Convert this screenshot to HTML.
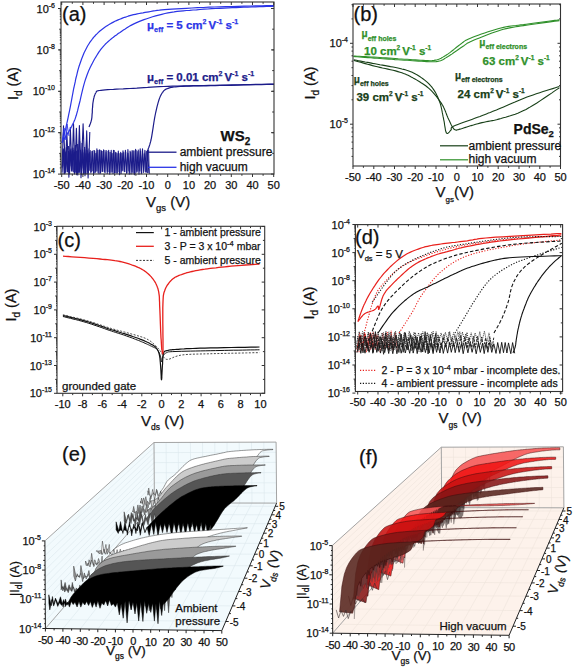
<!DOCTYPE html>
<html><head><meta charset="utf-8"><style>
html,body{margin:0;padding:0;background:#fff;}
svg{display:block;font-family:"Liberation Sans", sans-serif;}

</style></head><body>
<svg width="575" height="668" viewBox="0 0 575 668">
<rect width="575" height="668" fill="#fff"/>
<path d="M62.0,172.5 L63.4,149.5 L64.5,173.7 L65.8,152.3 L67.2,171.9 L68.4,151.2 L69.5,173.9 L70.6,150.5 L71.9,171.2 L73.2,150.1 L74.6,174.0 L75.7,150.1 L76.7,174.7 L77.9,150.6 L79.3,172.5 L80.5,150.5 L81.6,174.8 L82.6,149.8 L83.7,173.5 L84.6,149.3 L85.7,173.8 L87.0,150.5 L88.4,172.5 L89.7,152.0 L90.9,173.0 L92.3,151.0 L93.6,174.6 L94.7,151.1 L95.7,171.9 L96.9,148.8 L98.1,172.6 L99.4,149.9 L100.4,173.2 L101.5,150.9 L102.5,171.3 L103.6,149.9 L104.7,171.7 L106.0,151.8 L107.3,171.4 L108.7,150.2 L109.7,174.1 L111.2,150.3 L112.2,171.6 L113.5,150.2 L114.6,173.3 L115.7,152.2 L117.1,173.1 L118.3,151.1 L119.6,174.7 L120.7,152.2 L121.8,171.3 L123.0,150.8 L124.3,171.7 L125.4,150.2 L126.7,173.5 L127.9,149.5 L129.3,174.3 L130.7,152.3 L132.0,171.9 L133.0,150.8 L134.4,174.7 L135.6,149.4 L136.8,172.2 L137.9,151.6 L139.0,174.2 L140.2,148.9 L141.4,173.6 L142.5,148.9 L143.7,171.3 L144.9,150.4 L146.3,172.1 L147.5,150.8 L148.9,173.3" stroke="#1c1c8a" stroke-width="1.1" fill="none" stroke-linejoin="round" />
<path d="M63.0,174.3 L64.0,151.4 L65.2,173.5 L66.3,150.8 L67.4,172.0 L68.6,152.2 L69.5,173.7 L70.3,152.7 L71.5,171.1 L72.3,151.1 L73.3,172.1 L74.4,152.3 L75.6,172.6 L76.6,150.9 L77.5,174.3 L78.5,150.4 L79.6,171.5 L80.4,149.8 L81.6,170.9 L82.6,149.8 L83.4,174.5 L84.2,152.5 L85.1,173.8 L86.1,153.4 L87.2,173.9 L88.2,153.5 L89.2,170.7 L90.2,150.2 L91.2,172.0 L92.1,151.2 L92.9,171.2 L94.1,150.0 L94.9,173.2 L95.9,153.1 L96.9,171.3 L97.8,150.0 L99.0,174.1 L100.1,149.9 L100.9,172.2 L102.0,151.0 L102.8,171.8 L103.9,150.1 L105.0,173.2 L106.1,150.0 L107.3,173.9 L108.1,150.9 L109.0,172.2 L110.1,152.0 L111.0,172.7 L112.1,153.2 L113.0,174.0 L114.1,150.1 L115.1,173.0 L116.1,152.7 L117.0,173.2 L118.0,153.3 L119.1,172.2 L120.0,153.3 L121.1,174.0 L121.9,153.1 L122.8,170.8 L123.7,152.3 L124.8,172.0 L125.7,151.8 L126.8,173.0 L127.9,153.2 L129.0,171.3 L130.1,150.8 L131.1,174.3 L132.1,150.4 L133.0,173.5 L134.0,150.5 L135.1,174.1 L136.0,150.2 L137.1,171.6 L138.3,149.7 L139.4,171.3 L140.4,150.9 L141.2,171.4 L142.4,150.6 L143.3,173.0 L144.3,153.5 L145.4,172.3 L146.4,151.3 L147.5,173.0 L148.6,149.7 L149.6,174.0" stroke="#1c1c8a" stroke-width="0.7" fill="none" stroke-linejoin="round" />
<path d="M62.0,167.7 L63.5,125.7 L65.4,168.5 L66.8,132.4 L68.9,177.1 L70.3,127.2 L72.0,170.3 L73.5,123.5 L75.0,170.1 L76.4,128.3 L77.8,175.0 L79.4,125.6 L81.0,177.8 L83.1,123.8 L85.0,175.7 L86.7,130.9 L88.1,178.0 L89.8,132.1" stroke="#1c1c8a" stroke-width="1.1" fill="none" stroke-linejoin="round" />
<path d="M63.0,166.4 L64.1,148.2 L65.3,172.3 L66.4,147.2 L67.5,168.7 L68.6,146.0 L69.8,166.3 L70.8,148.6 L71.7,165.2 L73.0,147.7 L74.3,172.9 L75.4,145.0 L76.7,174.6 L77.7,144.0 L78.6,172.6 L79.7,141.2 L80.9,166.7 L82.1,142.9 L83.4,168.2 L84.6,147.0 L85.6,167.4 L86.5,140.8 L87.7,171.7 L88.9,148.4" stroke="#1c1c8a" stroke-width="0.8" fill="none" stroke-linejoin="round" />
<path d="M89.0,127.0 L89.2,126.5 L89.4,126.0 L89.7,125.3 L90.0,124.6 L90.3,123.8 L90.6,122.9 L90.9,122.0 L91.2,120.9 L91.5,119.8 L91.7,118.6 L91.9,117.3 L92.0,115.8 L92.1,114.1 L92.3,112.4 L92.3,110.6 L92.4,108.8 L92.6,107.1 L92.7,105.4 L92.8,103.9 L93.0,102.5 L93.2,101.3 L93.4,100.1 L93.6,99.0 L93.9,97.9 L94.1,96.9 L94.4,96.0 L94.7,95.1 L95.0,94.4 L95.3,93.6 L95.7,93.0 L96.0,92.5 L96.2,92.0 L96.4,91.7 L96.5,91.4 L96.7,91.2 L97.0,91.0 L97.6,90.8 L98.4,90.7 L99.5,90.5 L101.0,90.3 L102.9,90.1 L105.1,89.9 L107.7,89.7 L110.5,89.5 L113.5,89.4 L116.6,89.2 L119.9,89.0 L123.2,88.9 L126.6,88.7 L130.0,88.5 L133.4,88.3 L136.8,88.1 L140.3,87.8 L143.9,87.6 L147.6,87.4 L151.4,87.1 L155.3,86.9 L159.4,86.7 L163.6,86.5 L168.0,86.3 L172.6,86.1 L177.5,86.0 L182.5,85.9 L187.7,85.8 L193.0,85.7 L198.4,85.6 L203.8,85.5 L209.2,85.4 L214.7,85.3 L220.0,85.2 L225.6,85.1 L231.5,84.9 L237.8,84.8 L244.0,84.7 L250.2,84.5 L256.2,84.4 L261.7,84.3 L266.6,84.2 L270.8,84.1 L274.0,84.0" stroke="#1c1c8a" stroke-width="1.2" fill="none" stroke-linejoin="round" />
<path d="M147.0,152.0 L147.2,151.3 L147.5,150.6 L147.9,149.7 L148.3,148.6 L148.8,147.5 L149.2,146.2 L149.7,144.9 L150.1,143.4 L150.6,141.7 L151.0,140.0 L151.4,138.1 L151.8,135.8 L152.2,133.4 L152.6,130.9 L153.0,128.3 L153.4,125.6 L153.8,123.0 L154.2,120.5 L154.6,118.1 L155.0,116.0 L155.4,114.0 L155.8,112.1 L156.2,110.3 L156.6,108.6 L157.0,106.9 L157.4,105.3 L157.8,103.8 L158.2,102.4 L158.6,101.1 L159.0,99.8 L159.4,98.6 L159.8,97.6 L160.2,96.6 L160.6,95.7 L161.0,94.9 L161.4,94.2 L161.8,93.5 L162.2,92.9 L162.7,92.3 L163.1,91.7 L163.5,91.2 L163.9,90.7 L164.3,90.3 L164.7,90.0 L165.1,89.7 L165.5,89.4 L166.0,89.1 L166.6,88.9 L167.2,88.7 L168.0,88.4 L168.8,88.1 L169.5,87.9 L170.2,87.7 L170.9,87.5 L171.8,87.3 L172.8,87.1 L174.1,87.0 L175.7,86.8 L177.6,86.6 L180.0,86.5 L182.8,86.4 L186.0,86.2 L189.5,86.1 L193.3,86.0 L197.4,86.0 L201.6,85.9 L206.1,85.8 L210.7,85.7 L215.3,85.6 L220.0,85.5 L225.1,85.4 L230.8,85.3 L236.9,85.1 L243.2,85.0 L249.5,84.8 L255.6,84.7 L261.3,84.6 L266.4,84.5 L270.7,84.4 L274.0,84.3" stroke="#1c1c8a" stroke-width="1.2" fill="none" stroke-linejoin="round" />
<path d="M62.0,142.9 L62.2,141.9 L62.6,140.7 L62.9,139.3 L63.3,137.7 L63.8,136.0 L64.3,134.2 L64.7,132.3 L65.2,130.4 L65.7,128.5 L66.1,126.7 L66.5,124.9 L66.9,123.1 L67.3,121.3 L67.7,119.5 L68.1,117.6 L68.5,115.7 L68.9,113.7 L69.3,111.8 L69.7,109.8 L70.1,107.8 L70.5,105.8 L70.9,103.7 L71.3,101.5 L71.7,99.4 L72.1,97.2 L72.5,95.0 L72.9,92.8 L73.3,90.6 L73.7,88.5 L74.2,86.3 L74.7,84.1 L75.2,81.9 L75.6,79.7 L76.1,77.5 L76.7,75.3 L77.2,73.2 L77.7,71.0 L78.3,68.8 L78.9,66.8 L79.6,64.7 L80.3,62.7 L81.0,60.7 L81.7,58.7 L82.5,56.7 L83.3,54.7 L84.1,52.8 L85.0,51.0 L85.9,49.2 L86.8,47.5 L87.7,45.8 L88.7,44.2 L89.6,42.7 L90.6,41.3 L91.7,39.9 L92.7,38.5 L93.8,37.2 L94.9,36.0 L96.0,34.7 L97.2,33.6 L98.4,32.4 L99.6,31.3 L100.9,30.2 L102.2,29.2 L103.5,28.2 L104.8,27.2 L106.2,26.3 L107.6,25.4 L109.0,24.6 L110.4,23.7 L111.9,22.9 L113.4,22.1 L114.9,21.3 L116.5,20.6 L118.1,19.9 L119.7,19.2 L121.3,18.6 L123.0,17.9 L124.6,17.3 L126.4,16.8 L128.1,16.2 L129.9,15.7 L131.7,15.2 L133.5,14.7 L135.4,14.3 L137.2,13.9 L139.2,13.5 L141.1,13.1 L143.0,12.8 L145.0,12.4 L147.0,12.1 L148.9,11.8 L150.6,11.5 L152.2,11.2 L153.8,10.9 L155.4,10.7 L157.3,10.4 L159.4,10.2 L161.8,9.9 L164.6,9.7 L168.0,9.4 L171.9,9.1 L176.4,8.9 L181.3,8.6 L186.5,8.3 L191.9,8.0 L197.6,7.7 L203.3,7.5 L209.0,7.2 L214.6,7.0 L220.0,6.8 L225.6,6.6 L231.5,6.5 L237.8,6.3 L244.0,6.2 L250.2,6.0 L256.2,5.9 L261.7,5.8 L266.6,5.7 L270.8,5.7 L274.0,5.6" stroke="#2b35e6" stroke-width="1.2" fill="none" stroke-linejoin="round" />
<path d="M63.4,140.2 L63.9,139.4 L64.5,138.4 L65.3,137.1 L66.2,135.8 L67.1,134.3 L68.1,132.7 L69.0,131.2 L69.9,129.6 L70.8,128.1 L71.5,126.7 L72.1,125.4 L72.7,124.3 L73.2,123.2 L73.7,122.2 L74.2,121.1 L74.7,120.0 L75.2,118.6 L75.7,117.1 L76.3,115.3 L76.9,113.2 L77.6,110.7 L78.3,107.7 L79.1,104.5 L80.0,101.0 L80.8,97.4 L81.6,93.8 L82.5,90.2 L83.3,86.8 L84.2,83.7 L85.0,80.9 L85.8,78.5 L86.6,76.2 L87.3,74.2 L88.1,72.2 L88.8,70.4 L89.6,68.7 L90.4,67.0 L91.2,65.4 L92.1,63.7 L93.0,62.0 L93.9,60.3 L94.9,58.5 L95.9,56.9 L96.9,55.2 L97.9,53.6 L99.0,51.9 L100.1,50.4 L101.2,48.8 L102.5,47.3 L103.8,45.8 L105.2,44.3 L106.7,42.9 L108.2,41.5 L109.8,40.1 L111.4,38.8 L113.1,37.4 L114.8,36.1 L116.5,34.9 L118.2,33.6 L120.0,32.4 L121.7,31.2 L123.4,30.0 L125.2,28.9 L126.9,27.8 L128.6,26.7 L130.5,25.6 L132.4,24.6 L134.4,23.6 L136.6,22.6 L138.9,21.6 L141.4,20.6 L144.0,19.6 L146.8,18.7 L149.7,17.7 L152.6,16.8 L155.7,15.9 L158.7,15.1 L161.8,14.3 L164.9,13.5 L168.0,12.9 L171.0,12.3 L174.1,11.9 L177.1,11.4 L180.2,11.1 L183.3,10.8 L186.5,10.5 L189.7,10.3 L193.0,10.0 L196.5,9.8 L200.0,9.5 L203.7,9.2 L207.6,9.0 L211.6,8.7 L215.7,8.5 L219.9,8.3 L224.0,8.1 L228.2,7.9 L232.3,7.7 L236.2,7.6 L240.0,7.4 L243.8,7.2 L247.7,7.1 L251.7,6.9 L255.7,6.8 L259.5,6.7 L263.1,6.6 L266.5,6.4 L269.5,6.3 L272.0,6.3 L274.0,6.2" stroke="#2b35e6" stroke-width="1.2" fill="none" stroke-linejoin="round" />
<path d="M62.0,143.0 L64.0,128.0 L66.0,140.0 L67.0,124.0 L69.0,136.0" stroke="#2b35e6" stroke-width="0.9" fill="none" stroke-linejoin="round" />
<rect x="61.0" y="2.0" width="213.0" height="172.0" fill="none" stroke="#333" stroke-width="1.1"/>
<path d="M61.7,174.0 V177.0 M82.9,174.0 V177.0 M104.1,174.0 V177.0 M125.3,174.0 V177.0 M146.5,174.0 V177.0 M167.7,174.0 V177.0 M188.9,174.0 V177.0 M210.1,174.0 V177.0 M231.3,174.0 V177.0 M252.5,174.0 V177.0 M273.7,174.0 V177.0 M72.3,174.0 V175.8 M93.5,174.0 V175.8 M114.7,174.0 V175.8 M135.9,174.0 V175.8 M157.1,174.0 V175.8 M178.3,174.0 V175.8 M199.5,174.0 V175.8 M220.7,174.0 V175.8 M241.9,174.0 V175.8 M263.1,174.0 V175.8 M61.7,2.0 V5.0 M82.9,2.0 V5.0 M104.1,2.0 V5.0 M125.3,2.0 V5.0 M146.5,2.0 V5.0 M167.7,2.0 V5.0 M188.9,2.0 V5.0 M210.1,2.0 V5.0 M231.3,2.0 V5.0 M252.5,2.0 V5.0 M273.7,2.0 V5.0 M72.3,2.0 V3.8 M93.5,2.0 V3.8 M114.7,2.0 V3.8 M135.9,2.0 V3.8 M157.1,2.0 V3.8 M178.3,2.0 V3.8 M199.5,2.0 V3.8 M220.7,2.0 V3.8 M241.9,2.0 V3.8 M263.1,2.0 V3.8" stroke="#333" stroke-width="1" fill="none"/>
<path d="M61.0,8.5 H58.0 M61.0,49.9 H58.0 M61.0,91.3 H58.0 M61.0,132.7 H58.0 M61.0,174.1 H58.0 M61.0,153.4 H59.2 M61.0,132.7 H59.2 M61.0,112.0 H59.2 M61.0,91.3 H59.2 M61.0,70.6 H59.2 M61.0,49.9 H59.2 M61.0,29.2 H59.2 M274.0,8.5 H271.0 M274.0,49.9 H271.0 M274.0,91.3 H271.0 M274.0,132.7 H271.0 M274.0,174.1 H271.0 M274.0,153.4 H272.2 M274.0,132.7 H272.2 M274.0,112.0 H272.2 M274.0,91.3 H272.2 M274.0,70.6 H272.2 M274.0,49.9 H272.2 M274.0,29.2 H272.2" stroke="#333" stroke-width="1" fill="none"/>
<path d="M61.0,167.9 H59.8 M61.0,164.2 H59.8 M61.0,161.6 H59.8 M61.0,159.6 H59.8 M61.0,158.0 H59.8 M61.0,156.6 H59.8 M61.0,155.4 H59.8 M61.0,154.3 H59.8 M61.0,147.2 H59.8 M61.0,143.5 H59.8 M61.0,140.9 H59.8 M61.0,138.9 H59.8 M61.0,137.3 H59.8 M61.0,135.9 H59.8 M61.0,134.7 H59.8 M61.0,133.6 H59.8 M61.0,126.5 H59.8 M61.0,122.8 H59.8 M61.0,120.2 H59.8 M61.0,118.2 H59.8 M61.0,116.6 H59.8 M61.0,115.2 H59.8 M61.0,114.0 H59.8 M61.0,112.9 H59.8 M61.0,105.8 H59.8 M61.0,102.1 H59.8 M61.0,99.5 H59.8 M61.0,97.5 H59.8 M61.0,95.9 H59.8 M61.0,94.5 H59.8 M61.0,93.3 H59.8 M61.0,92.2 H59.8 M61.0,85.1 H59.8 M61.0,81.4 H59.8 M61.0,78.8 H59.8 M61.0,76.8 H59.8 M61.0,75.2 H59.8 M61.0,73.8 H59.8 M61.0,72.6 H59.8 M61.0,71.5 H59.8 M61.0,64.4 H59.8 M61.0,60.7 H59.8 M61.0,58.1 H59.8 M61.0,56.1 H59.8 M61.0,54.5 H59.8 M61.0,53.1 H59.8 M61.0,51.9 H59.8 M61.0,50.8 H59.8 M61.0,43.7 H59.8 M61.0,40.0 H59.8 M61.0,37.4 H59.8 M61.0,35.4 H59.8 M61.0,33.8 H59.8 M61.0,32.4 H59.8 M61.0,31.2 H59.8 M61.0,30.1 H59.8 M61.0,23.0 H59.8 M61.0,19.3 H59.8 M61.0,16.7 H59.8 M61.0,14.7 H59.8 M61.0,13.1 H59.8 M61.0,11.7 H59.8 M61.0,10.5 H59.8 M61.0,9.4 H59.8" stroke="#333" stroke-width="1" fill="none"/>
<text x="61.7" y="189.2" font-size="11" text-anchor="middle" font-weight="normal" fill="#111" stroke="#111" stroke-width="0.25" >-50</text>
<text x="82.9" y="189.2" font-size="11" text-anchor="middle" font-weight="normal" fill="#111" stroke="#111" stroke-width="0.25" >-40</text>
<text x="104.1" y="189.2" font-size="11" text-anchor="middle" font-weight="normal" fill="#111" stroke="#111" stroke-width="0.25" >-30</text>
<text x="125.3" y="189.2" font-size="11" text-anchor="middle" font-weight="normal" fill="#111" stroke="#111" stroke-width="0.25" >-20</text>
<text x="146.5" y="189.2" font-size="11" text-anchor="middle" font-weight="normal" fill="#111" stroke="#111" stroke-width="0.25" >-10</text>
<text x="167.7" y="189.2" font-size="11" text-anchor="middle" font-weight="normal" fill="#111" stroke="#111" stroke-width="0.25" >0</text>
<text x="188.9" y="189.2" font-size="11" text-anchor="middle" font-weight="normal" fill="#111" stroke="#111" stroke-width="0.25" >10</text>
<text x="210.1" y="189.2" font-size="11" text-anchor="middle" font-weight="normal" fill="#111" stroke="#111" stroke-width="0.25" >20</text>
<text x="231.3" y="189.2" font-size="11" text-anchor="middle" font-weight="normal" fill="#111" stroke="#111" stroke-width="0.25" >30</text>
<text x="252.5" y="189.2" font-size="11" text-anchor="middle" font-weight="normal" fill="#111" stroke="#111" stroke-width="0.25" >40</text>
<text x="273.7" y="189.2" font-size="11" text-anchor="middle" font-weight="normal" fill="#111" stroke="#111" stroke-width="0.25" >50</text>
<text x="55.0" y="12.5" font-size="11" text-anchor="end" font-weight="normal" fill="#111" stroke="#111" stroke-width="0.25" >10<tspan font-size="7" dy="-5">-6</tspan></text>
<text x="55.0" y="53.9" font-size="11" text-anchor="end" font-weight="normal" fill="#111" stroke="#111" stroke-width="0.25" >10<tspan font-size="7" dy="-5">-8</tspan></text>
<text x="55.0" y="95.3" font-size="11" text-anchor="end" font-weight="normal" fill="#111" stroke="#111" stroke-width="0.25" >10<tspan font-size="7" dy="-5">-10</tspan></text>
<text x="55.0" y="136.7" font-size="11" text-anchor="end" font-weight="normal" fill="#111" stroke="#111" stroke-width="0.25" >10<tspan font-size="7" dy="-5">-12</tspan></text>
<text x="55.0" y="178.1" font-size="11" text-anchor="end" font-weight="normal" fill="#111" stroke="#111" stroke-width="0.25" >10<tspan font-size="7" dy="-5">-14</tspan></text>
<text x="62.0" y="20.5" font-size="20" text-anchor="start" font-weight="normal" fill="#111" stroke="#111" stroke-width="0.25" >(a)</text>
<text x="18" y="100" font-size="14.5" transform="rotate(-90 18 100)" fill="#111" stroke="#111" stroke-width="0.25">I<tspan font-size="10" dy="4">d</tspan><tspan dy="-4"> (A)</tspan></text>
<text x="146" y="206.8" font-size="15" fill="#111" stroke="#111" stroke-width="0.25">V<tspan font-size="9.5" dy="4.5">gs</tspan><tspan dy="-4.5"> (V)</tspan></text>
<text x="147" y="29.3" font-size="11.5" font-weight="bold" fill="#2b35e6" stroke="#2b35e6" stroke-width="0.25">&#956;<tspan font-size="7.5" dy="3">eff</tspan><tspan dy="-3"> = 5 cm</tspan><tspan font-size="7" dy="-5">2</tspan><tspan dy="5" dx="2">V</tspan><tspan font-size="7" dy="-5">-1</tspan><tspan dy="5"> s</tspan><tspan font-size="7" dy="-5">-1</tspan></text>
<text x="147" y="80.6" font-size="11.5" font-weight="bold" fill="#1c1c8a" stroke="#1c1c8a" stroke-width="0.25">&#956;<tspan font-size="7.5" dy="3">eff</tspan><tspan dy="-3"> = 0.01 cm</tspan><tspan font-size="7" dy="-5">2</tspan><tspan dy="5" dx="2">V</tspan><tspan font-size="7" dy="-5">-1</tspan><tspan dy="5"> s</tspan><tspan font-size="7" dy="-5">-1</tspan></text>
<text x="220.5" y="141" font-size="15" font-weight="bold" fill="#111" stroke="#111" stroke-width="0.25">WS<tspan font-size="10" dy="4">2</tspan></text>
<path d="M148.0,152.2 L176.5,152.2" stroke="#1c1c8a" stroke-width="1.3" fill="none" stroke-linejoin="round" />
<path d="M148.0,167.3 L176.5,167.3" stroke="#2b35e6" stroke-width="1.3" fill="none" stroke-linejoin="round" />
<text x="179.7" y="156.3" font-size="12" text-anchor="start" font-weight="normal" fill="#111" stroke="#111" stroke-width="0.25" >ambient pressure</text>
<text x="179.7" y="170.8" font-size="12" text-anchor="start" font-weight="normal" fill="#111" stroke="#111" stroke-width="0.25" >high vacuum</text>
<path d="M353.5,56.0 L355.1,56.1 L357.0,56.2 L359.4,56.3 L362.0,56.5 L364.9,56.6 L367.9,56.8 L371.0,57.0 L374.1,57.1 L377.1,57.3 L380.0,57.5 L382.9,57.7 L385.9,57.9 L388.9,58.1 L392.0,58.3 L395.2,58.5 L398.3,58.8 L401.3,59.0 L404.3,59.2 L407.2,59.3 L410.0,59.5 L412.7,59.7 L415.4,59.9 L418.0,60.1 L420.6,60.3 L423.1,60.4 L425.5,60.6 L427.8,60.6 L430.0,60.7 L432.1,60.6 L434.0,60.4 L435.7,60.1 L437.3,59.8 L438.7,59.3 L439.9,58.8 L441.1,58.2 L442.2,57.6 L443.3,56.9 L444.4,56.2 L445.6,55.5 L446.8,54.7 L448.1,53.9 L449.5,52.9 L450.8,51.9 L452.2,50.8 L453.6,49.7 L454.9,48.6 L456.2,47.5 L457.5,46.5 L458.8,45.5 L460.0,44.6 L461.1,43.8 L461.9,43.1 L462.7,42.5 L463.4,42.0 L464.1,41.4 L464.9,40.9 L465.9,40.3 L467.1,39.7 L468.6,39.0 L470.4,38.2 L472.7,37.3 L475.3,36.3 L478.2,35.2 L481.4,34.1 L484.7,32.9 L488.1,31.8 L491.5,30.7 L494.8,29.7 L498.0,28.8 L500.9,28.0 L503.6,27.4 L506.2,26.8 L508.7,26.4 L511.1,26.0 L513.4,25.7 L515.8,25.5 L518.3,25.2 L520.8,24.9 L523.5,24.6 L526.3,24.2 L529.4,23.8 L533.0,23.3 L536.7,22.8 L540.6,22.3 L544.4,21.8 L548.2,21.3 L551.7,20.8 L554.8,20.4 L557.4,20.1 L559.4,19.8" stroke="#2f902a" stroke-width="1.1" fill="none" stroke-linejoin="round" />
<path d="M353.5,56.5 L355.1,56.6 L357.0,56.8 L359.4,57.0 L362.0,57.2 L364.9,57.4 L367.9,57.6 L371.0,57.8 L374.1,58.1 L377.1,58.3 L380.0,58.5 L382.9,58.7 L385.8,58.9 L388.9,59.1 L391.9,59.3 L395.0,59.6 L398.1,59.8 L401.2,60.0 L404.2,60.2 L407.1,60.3 L410.0,60.5 L412.8,60.7 L415.7,60.9 L418.5,61.1 L421.4,61.3 L424.1,61.5 L426.8,61.6 L429.4,61.8 L431.8,61.8 L434.0,61.7 L436.0,61.6 L437.8,61.4 L439.3,61.0 L440.6,60.7 L441.7,60.2 L442.8,59.7 L443.7,59.2 L444.7,58.5 L445.7,57.9 L446.8,57.2 L448.0,56.5 L449.3,55.7 L450.7,54.8 L452.2,53.9 L453.6,52.8 L455.1,51.8 L456.6,50.8 L458.0,49.7 L459.4,48.7 L460.8,47.8 L462.0,47.0 L463.1,46.3 L464.0,45.7 L464.7,45.1 L465.4,44.6 L466.1,44.1 L466.8,43.6 L467.7,43.1 L468.9,42.5 L470.3,41.8 L472.0,41.0 L474.1,40.1 L476.6,39.0 L479.4,37.9 L482.4,36.7 L485.5,35.4 L488.7,34.2 L491.9,33.0 L495.0,31.9 L498.1,30.9 L500.9,30.0 L503.5,29.3 L506.1,28.6 L508.5,28.1 L510.9,27.6 L513.3,27.2 L515.8,26.8 L518.2,26.4 L520.8,26.0 L523.5,25.6 L526.3,25.2 L529.4,24.7 L533.0,24.2 L536.7,23.7 L540.6,23.1 L544.4,22.6 L548.2,22.1 L551.7,21.6 L554.8,21.2 L557.4,20.9 L559.4,20.6" stroke="#2f902a" stroke-width="1.1" fill="none" stroke-linejoin="round" />
<path d="M353.8,59.8 L355.0,60.0 L356.6,60.3 L358.5,60.7 L360.6,61.1 L362.8,61.5 L365.2,62.0 L367.7,62.4 L370.2,62.9 L372.6,63.4 L375.0,63.8 L377.4,64.2 L379.9,64.7 L382.5,65.1 L385.2,65.6 L387.9,66.1 L390.5,66.6 L393.1,67.0 L395.6,67.5 L397.9,68.0 L400.0,68.5 L401.9,69.0 L403.6,69.4 L405.2,69.8 L406.7,70.3 L408.1,70.7 L409.5,71.2 L410.8,71.7 L412.2,72.3 L413.5,72.9 L415.0,73.7 L416.5,74.6 L418.1,75.5 L419.7,76.5 L421.3,77.6 L422.9,78.7 L424.4,79.9 L425.9,81.1 L427.4,82.4 L428.7,83.7 L430.0,85.0 L431.2,86.3 L432.3,87.7 L433.3,89.1 L434.3,90.6 L435.2,92.1 L436.0,93.6 L436.8,95.2 L437.6,96.8 L438.3,98.4 L439.0,100.0 L439.6,101.7 L440.2,103.4 L440.7,105.2 L441.2,107.1 L441.6,109.0 L442.0,110.8 L442.3,112.7 L442.7,114.5 L443.0,116.2 L443.4,117.9 L443.7,119.6 L444.1,121.4 L444.4,123.2 L444.6,125.0 L444.9,126.7 L445.2,128.3 L445.4,129.8 L445.7,131.1 L446.0,132.1 L446.4,132.9 L446.8,133.3 L447.2,133.5 L447.7,133.4 L448.2,133.1 L448.7,132.6 L449.2,132.1 L449.7,131.5 L450.2,130.9 L450.6,130.4 L451.0,130.0 L451.3,129.7 L451.3,129.4 L451.3,129.1 L451.2,128.7 L451.2,128.4 L451.2,128.1 L451.5,127.6 L452.0,127.2 L452.8,126.6 L454.0,126.0 L455.7,125.3 L457.8,124.4 L460.3,123.5 L463.0,122.5 L465.9,121.5 L468.9,120.4 L471.8,119.4 L474.8,118.3 L477.5,117.3 L480.0,116.4 L482.3,115.5 L484.4,114.7 L486.4,113.9 L488.4,113.1 L490.3,112.4 L492.3,111.6 L494.3,110.7 L496.4,109.9 L498.6,109.0 L501.0,108.0 L503.6,106.9 L506.3,105.8 L509.1,104.6 L512.0,103.3 L515.0,102.1 L518.0,100.8 L521.0,99.5 L524.0,98.3 L527.0,97.1 L530.0,96.0 L533.1,94.9 L536.3,93.8 L539.7,92.7 L543.1,91.6 L546.5,90.5 L549.7,89.5 L552.7,88.6 L555.4,87.8 L557.6,87.1 L559.4,86.5" stroke="#184018" stroke-width="1.1" fill="none" stroke-linejoin="round" />
<path d="M353.8,60.4 L355.0,60.7 L356.6,61.2 L358.5,61.7 L360.6,62.3 L362.8,62.9 L365.2,63.6 L367.7,64.3 L370.2,64.9 L372.6,65.6 L375.0,66.2 L377.4,66.8 L379.9,67.4 L382.5,68.0 L385.2,68.5 L387.9,69.1 L390.5,69.7 L393.1,70.3 L395.6,70.9 L397.9,71.6 L400.0,72.2 L401.9,72.8 L403.6,73.5 L405.2,74.1 L406.7,74.7 L408.1,75.3 L409.5,76.0 L410.8,76.7 L412.2,77.4 L413.5,78.2 L415.0,79.0 L416.5,79.9 L418.0,80.8 L419.6,81.7 L421.1,82.7 L422.7,83.7 L424.2,84.7 L425.7,85.8 L427.2,87.0 L428.6,88.2 L430.0,89.4 L431.3,90.7 L432.7,92.1 L434.0,93.6 L435.3,95.1 L436.6,96.7 L437.8,98.3 L438.9,99.9 L440.0,101.4 L441.1,102.9 L442.0,104.4 L442.9,105.8 L443.6,107.3 L444.3,108.7 L444.9,110.1 L445.5,111.5 L446.0,112.9 L446.5,114.2 L447.0,115.5 L447.5,116.7 L448.0,117.9 L448.5,119.0 L449.0,120.1 L449.5,121.1 L449.9,122.1 L450.4,123.1 L450.8,123.9 L451.2,124.8 L451.6,125.6 L452.0,126.3 L452.4,126.9 L452.7,127.5 L453.1,127.9 L453.4,128.4 L453.6,128.7 L453.9,129.0 L454.2,129.3 L454.4,129.5 L454.7,129.6 L455.0,129.8 L455.4,129.9 L455.7,130.0 L456.0,130.1 L456.2,130.1 L456.4,130.1 L456.6,130.1 L457.0,130.0 L457.4,129.8 L458.1,129.7 L458.9,129.4 L460.0,129.1 L461.4,128.7 L463.0,128.2 L464.8,127.6 L466.8,127.0 L469.0,126.3 L471.2,125.6 L473.4,125.0 L475.7,124.3 L477.9,123.7 L480.0,123.1 L482.0,122.6 L484.1,122.2 L486.1,121.8 L488.1,121.4 L490.2,121.0 L492.3,120.6 L494.4,120.2 L496.5,119.7 L498.7,119.1 L501.0,118.5 L503.3,117.8 L505.6,117.2 L507.9,116.5 L510.3,115.8 L512.7,115.0 L515.2,114.2 L517.8,113.2 L520.4,112.1 L523.1,110.8 L526.0,109.4 L529.2,107.6 L532.7,105.5 L536.5,103.2 L540.4,100.6 L544.3,98.0 L548.0,95.5 L551.6,93.1 L554.7,90.9 L557.4,89.1 L559.4,87.8" stroke="#184018" stroke-width="1.1" fill="none" stroke-linejoin="round" />
<rect x="353.0" y="4.0" width="207.5" height="162.0" fill="none" stroke="#333" stroke-width="1.1"/>
<path d="M353.0,166.0 V169.0 M373.8,166.0 V169.0 M394.5,166.0 V169.0 M415.2,166.0 V169.0 M436.0,166.0 V169.0 M456.8,166.0 V169.0 M477.5,166.0 V169.0 M498.2,166.0 V169.0 M519.0,166.0 V169.0 M539.8,166.0 V169.0 M560.5,166.0 V169.0 M363.4,166.0 V167.8 M384.1,166.0 V167.8 M404.9,166.0 V167.8 M425.6,166.0 V167.8 M446.4,166.0 V167.8 M467.1,166.0 V167.8 M487.9,166.0 V167.8 M508.6,166.0 V167.8 M529.4,166.0 V167.8 M550.1,166.0 V167.8 M353.0,4.0 V7.0 M373.8,4.0 V7.0 M394.5,4.0 V7.0 M415.2,4.0 V7.0 M436.0,4.0 V7.0 M456.8,4.0 V7.0 M477.5,4.0 V7.0 M498.2,4.0 V7.0 M519.0,4.0 V7.0 M539.8,4.0 V7.0 M560.5,4.0 V7.0 M363.4,4.0 V5.8 M384.1,4.0 V5.8 M404.9,4.0 V5.8 M425.6,4.0 V5.8 M446.4,4.0 V5.8 M467.1,4.0 V5.8 M487.9,4.0 V5.8 M508.6,4.0 V5.8 M529.4,4.0 V5.8 M550.1,4.0 V5.8" stroke="#333" stroke-width="1" fill="none"/>
<path d="M353.0,43.3 H350.0 M353.0,124.2 H350.0 M353.0,156.4 H351.5 M353.0,148.6 H351.5 M353.0,142.1 H351.5 M353.0,136.7 H351.5 M353.0,132.0 H351.5 M353.0,127.9 H351.5 M353.0,99.8 H351.5 M353.0,85.6 H351.5 M353.0,75.5 H351.5 M353.0,67.7 H351.5 M353.0,61.2 H351.5 M353.0,55.8 H351.5 M353.0,51.1 H351.5 M353.0,47.0 H351.5 M353.0,18.9 H351.5 M353.0,4.7 H351.5 M560.5,43.3 H557.5 M560.5,124.2 H557.5 M560.5,156.4 H559.0 M560.5,148.6 H559.0 M560.5,142.1 H559.0 M560.5,136.7 H559.0 M560.5,132.0 H559.0 M560.5,127.9 H559.0 M560.5,99.8 H559.0 M560.5,85.6 H559.0 M560.5,75.5 H559.0 M560.5,67.7 H559.0 M560.5,61.2 H559.0 M560.5,55.8 H559.0 M560.5,51.1 H559.0 M560.5,47.0 H559.0 M560.5,18.9 H559.0 M560.5,4.7 H559.0" stroke="#333" stroke-width="1" fill="none"/>
<text x="353.0" y="181.0" font-size="11" text-anchor="middle" font-weight="normal" fill="#111" stroke="#111" stroke-width="0.25" >-50</text>
<text x="373.8" y="181.0" font-size="11" text-anchor="middle" font-weight="normal" fill="#111" stroke="#111" stroke-width="0.25" >-40</text>
<text x="394.5" y="181.0" font-size="11" text-anchor="middle" font-weight="normal" fill="#111" stroke="#111" stroke-width="0.25" >-30</text>
<text x="415.2" y="181.0" font-size="11" text-anchor="middle" font-weight="normal" fill="#111" stroke="#111" stroke-width="0.25" >-20</text>
<text x="436.0" y="181.0" font-size="11" text-anchor="middle" font-weight="normal" fill="#111" stroke="#111" stroke-width="0.25" >-10</text>
<text x="456.8" y="181.0" font-size="11" text-anchor="middle" font-weight="normal" fill="#111" stroke="#111" stroke-width="0.25" >0</text>
<text x="477.5" y="181.0" font-size="11" text-anchor="middle" font-weight="normal" fill="#111" stroke="#111" stroke-width="0.25" >10</text>
<text x="498.2" y="181.0" font-size="11" text-anchor="middle" font-weight="normal" fill="#111" stroke="#111" stroke-width="0.25" >20</text>
<text x="519.0" y="181.0" font-size="11" text-anchor="middle" font-weight="normal" fill="#111" stroke="#111" stroke-width="0.25" >30</text>
<text x="539.8" y="181.0" font-size="11" text-anchor="middle" font-weight="normal" fill="#111" stroke="#111" stroke-width="0.25" >40</text>
<text x="560.5" y="181.0" font-size="11" text-anchor="middle" font-weight="normal" fill="#111" stroke="#111" stroke-width="0.25" >50</text>
<text x="348.0" y="47.3" font-size="11" text-anchor="end" font-weight="normal" fill="#111" stroke="#111" stroke-width="0.25" >10<tspan font-size="7" dy="-5">-4</tspan></text>
<text x="348.0" y="128.2" font-size="11" text-anchor="end" font-weight="normal" fill="#111" stroke="#111" stroke-width="0.25" >10<tspan font-size="7" dy="-5">-5</tspan></text>
<text x="353.5" y="21.0" font-size="20" text-anchor="start" font-weight="normal" fill="#111" stroke="#111" stroke-width="0.25" >(b)</text>
<text x="315" y="99.5" font-size="14.5" transform="rotate(-90 315 99.5)" fill="#111" stroke="#111" stroke-width="0.25">I<tspan font-size="10" dy="4">d</tspan><tspan dy="-4"> (A)</tspan></text>
<text x="435.5" y="197" font-size="15" fill="#111" stroke="#111" stroke-width="0.25">V<tspan font-size="8" dy="4.5">gs</tspan><tspan dy="-4.5">(V)</tspan></text>
<text x="361.5" y="37" font-size="10" font-weight="bold" fill="#2f902a" stroke="#2f902a" stroke-width="0.25">&#956;<tspan font-size="7" dy="3.5">eff holes</tspan></text>
<text x="364" y="54.7" font-size="11.5" font-weight="bold" fill="#2f902a" stroke="#2f902a" stroke-width="0.25">10 cm<tspan font-size="6.5" dy="-5">2</tspan><tspan dy="5" dx="2">V</tspan><tspan font-size="6.5" dy="-5">-1</tspan><tspan dy="5"> s</tspan><tspan font-size="6.5" dy="-5">-1</tspan></text>
<text x="353.8" y="82.5" font-size="10" font-weight="bold" fill="#184018" stroke="#184018" stroke-width="0.25">&#956;<tspan font-size="7" dy="3.5">eff holes</tspan></text>
<text x="356.4" y="100.6" font-size="11.5" font-weight="bold" fill="#184018" stroke="#184018" stroke-width="0.25">39 cm<tspan font-size="6.5" dy="-5">2</tspan><tspan dy="5" dx="2">V</tspan><tspan font-size="6.5" dy="-5">-1</tspan><tspan dy="5"> s</tspan><tspan font-size="6.5" dy="-5">-1</tspan></text>
<text x="479.3" y="45.5" font-size="10" font-weight="bold" fill="#2f902a" stroke="#2f902a" stroke-width="0.25">&#956;<tspan font-size="7" dy="3.5">eff electrons</tspan></text>
<text x="482.6" y="64.9" font-size="11.5" font-weight="bold" fill="#2f902a" stroke="#2f902a" stroke-width="0.25">63 cm<tspan font-size="6.5" dy="-5">2</tspan><tspan dy="5" dx="2">V</tspan><tspan font-size="6.5" dy="-5">-1</tspan><tspan dy="5"> s</tspan><tspan font-size="6.5" dy="-5">-1</tspan></text>
<text x="455" y="78.5" font-size="10" font-weight="bold" fill="#184018" stroke="#184018" stroke-width="0.25">&#956;<tspan font-size="7" dy="3.5">eff electrons</tspan></text>
<text x="457.6" y="98" font-size="11.5" font-weight="bold" fill="#184018" stroke="#184018" stroke-width="0.25">24 cm<tspan font-size="6.5" dy="-5">2</tspan><tspan dy="5" dx="2">V</tspan><tspan font-size="6.5" dy="-5">-1</tspan><tspan dy="5"> s</tspan><tspan font-size="6.5" dy="-5">-1</tspan></text>
<text x="513.6" y="133.6" font-size="14" font-weight="bold" fill="#111" stroke="#111" stroke-width="0.25">PdSe<tspan font-size="9.5" dy="3">2</tspan></text>
<path d="M440.0,145.8 L468.0,145.8" stroke="#184018" stroke-width="1.2" fill="none" stroke-linejoin="round" />
<path d="M440.0,159.8 L468.0,159.8" stroke="#2f902a" stroke-width="1.2" fill="none" stroke-linejoin="round" />
<text x="468.5" y="149.8" font-size="12" text-anchor="start" font-weight="normal" fill="#111" stroke="#111" stroke-width="0.25" >ambient pressure</text>
<text x="468.5" y="163.3" font-size="12" text-anchor="start" font-weight="normal" fill="#111" stroke="#111" stroke-width="0.25" >high vacuum</text>
<path d="M62.9,315.5 L64.3,315.8 L66.1,316.2 L68.1,316.7 L70.5,317.3 L73.0,317.9 L75.7,318.5 L78.4,319.2 L81.1,319.9 L83.8,320.6 L86.3,321.3 L88.8,322.0 L91.3,322.9 L94.0,323.7 L96.6,324.6 L99.3,325.5 L101.9,326.4 L104.4,327.3 L106.9,328.2 L109.2,329.0 L111.4,329.7 L113.4,330.3 L115.3,330.9 L117.1,331.5 L118.7,332.0 L120.3,332.5 L121.9,333.0 L123.4,333.4 L124.9,333.9 L126.5,334.4 L128.0,334.9 L129.6,335.4 L131.1,335.9 L132.7,336.5 L134.2,337.0 L135.7,337.5 L137.2,338.0 L138.7,338.5 L140.1,339.1 L141.4,339.6 L142.7,340.1 L143.9,340.6 L145.2,341.2 L146.3,341.7 L147.5,342.3 L148.6,342.8 L149.6,343.3 L150.6,343.9 L151.5,344.4 L152.3,344.8 L153.1,345.3 L153.8,345.7 L154.3,346.1 L154.8,346.4 L155.2,346.8 L155.6,347.1 L155.9,347.4 L156.1,347.8 L156.4,348.1 L156.7,348.5 L157.0,349.0 L157.3,349.5 L157.6,350.0 L157.9,350.5 L158.1,351.0 L158.4,351.5 L158.6,352.1 L158.8,352.8 L159.0,353.4 L159.2,354.2 L159.4,355.0 L159.6,355.9 L159.7,356.8 L159.9,357.8 L160.0,358.9 L160.1,360.0 L160.2,361.2 L160.3,362.3 L160.4,363.5 L160.5,364.8 L160.6,366.0 L160.7,367.4 L160.8,369.0 L160.9,370.8 L161.0,372.6 L161.1,374.5 L161.2,376.1 L161.2,377.6 L161.3,378.8 L161.4,379.5 L161.5,379.8 L161.6,379.5 L161.7,378.8 L161.8,377.7 L161.8,376.2 L161.9,374.6 L162.0,372.8 L162.1,371.0 L162.2,369.2 L162.3,367.5 L162.4,366.0 L162.5,364.6 L162.6,363.2 L162.6,361.7 L162.7,360.2 L162.8,358.8 L162.9,357.4 L163.0,356.1 L163.2,354.9 L163.4,353.9 L163.6,353.0 L163.9,352.3 L164.2,351.8 L164.5,351.4 L164.9,351.2 L165.3,351.0 L165.7,350.9 L166.1,350.8 L166.6,350.7 L167.1,350.6 L167.7,350.5 L168.2,350.3 L168.7,350.2 L169.1,350.1 L169.5,350.0 L170.0,349.9 L170.7,349.8 L171.4,349.8 L172.4,349.7 L173.5,349.6 L175.0,349.5 L176.6,349.4 L178.3,349.3 L180.1,349.1 L182.1,349.0 L184.2,348.9 L186.7,348.7 L189.4,348.6 L192.5,348.5 L196.0,348.3 L200.0,348.2 L204.8,348.1 L210.6,347.9 L217.2,347.8 L224.2,347.7 L231.3,347.5 L238.3,347.4 L244.9,347.3 L250.9,347.2 L255.8,347.1 L259.5,347.0" stroke="#111" stroke-width="1.2" fill="none" stroke-linejoin="round" />
<path d="M62.9,316.5 L64.3,316.8 L66.1,317.3 L68.1,317.8 L70.5,318.3 L73.0,319.0 L75.7,319.6 L78.4,320.3 L81.1,321.0 L83.8,321.8 L86.3,322.5 L88.8,323.3 L91.3,324.1 L94.0,325.0 L96.6,325.9 L99.3,326.8 L101.9,327.7 L104.4,328.6 L106.9,329.5 L109.2,330.3 L111.4,331.0 L113.4,331.7 L115.3,332.3 L117.1,332.9 L118.7,333.4 L120.3,333.9 L121.9,334.4 L123.4,334.9 L124.9,335.4 L126.5,336.0 L128.0,336.5 L129.6,337.1 L131.1,337.6 L132.7,338.2 L134.2,338.8 L135.7,339.4 L137.2,340.0 L138.7,340.5 L140.1,341.1 L141.4,341.7 L142.7,342.2 L143.9,342.7 L145.1,343.3 L146.3,343.8 L147.4,344.3 L148.5,344.8 L149.5,345.3 L150.5,345.8 L151.4,346.2 L152.2,346.6 L153.0,347.0 L153.7,347.3 L154.3,347.6 L154.8,347.8 L155.2,348.0 L155.6,348.1 L156.0,348.3 L156.3,348.5 L156.6,348.8 L156.9,349.1 L157.3,349.5 L157.7,350.0 L158.0,350.6 L158.4,351.2 L158.7,351.8 L159.1,352.5 L159.4,353.2 L159.7,354.0 L159.9,354.7 L160.2,355.4 L160.4,356.0 L160.6,356.7 L160.7,357.4 L160.9,358.2 L161.0,359.0 L161.0,359.8 L161.1,360.5 L161.2,361.1 L161.3,361.6 L161.4,361.9 L161.5,362.0 L161.6,361.9 L161.7,361.5 L161.8,361.0 L162.0,360.3 L162.1,359.6 L162.2,358.8 L162.4,358.0 L162.5,357.2 L162.8,356.5 L163.0,356.0 L163.3,355.5 L163.5,355.1 L163.8,354.7 L164.1,354.3 L164.5,354.0 L164.9,353.7 L165.3,353.4 L165.7,353.1 L166.2,352.8 L166.8,352.6 L167.3,352.4 L167.6,352.2 L167.8,352.1 L168.0,352.0 L168.3,351.9 L168.9,351.8 L169.7,351.8 L170.9,351.7 L172.7,351.6 L175.0,351.5 L178.0,351.4 L181.7,351.3 L186.0,351.2 L190.6,351.1 L195.5,351.0 L200.6,350.9 L205.7,350.8 L210.8,350.7 L215.6,350.6 L220.0,350.5 L224.4,350.4 L228.9,350.3 L233.5,350.2 L238.1,350.2 L242.6,350.1 L246.8,350.0 L250.7,349.9 L254.2,349.9 L257.2,349.8 L259.5,349.8" stroke="#111" stroke-width="1.0" fill="none" stroke-linejoin="round" />
<path d="M62.9,314.8 L64.3,315.1 L66.1,315.5 L68.1,316.0 L70.5,316.6 L73.0,317.2 L75.7,317.8 L78.4,318.4 L81.1,319.1 L83.8,319.8 L86.3,320.5 L88.8,321.2 L91.3,322.0 L94.0,322.8 L96.6,323.7 L99.3,324.6 L101.9,325.4 L104.4,326.3 L106.9,327.1 L109.2,327.8 L111.4,328.5 L113.4,329.1 L115.2,329.6 L116.9,330.1 L118.5,330.5 L120.1,330.9 L121.6,331.3 L123.1,331.7 L124.7,332.1 L126.3,332.5 L128.0,333.0 L129.8,333.5 L131.8,334.1 L133.8,334.6 L135.8,335.2 L137.8,335.8 L139.8,336.4 L141.8,337.0 L143.6,337.6 L145.3,338.3 L146.9,339.0 L148.3,339.8 L149.6,340.6 L150.9,341.5 L152.0,342.4 L153.1,343.3 L154.0,344.2 L154.9,345.1 L155.8,345.9 L156.6,346.7 L157.3,347.4 L157.9,348.0 L158.4,348.5 L158.8,349.0 L159.2,349.4 L159.4,349.8 L159.7,350.1 L159.9,350.5 L160.2,351.0 L160.6,351.4 L161.0,352.0 L161.4,352.7 L161.9,353.5 L162.3,354.4 L162.7,355.3 L163.1,356.3 L163.7,357.2 L164.3,358.0 L165.0,358.6 L165.8,359.1 L166.8,359.4 L167.9,359.4 L169.0,359.2 L170.1,358.8 L171.4,358.3 L172.7,357.7 L174.2,357.0 L176.0,356.4 L177.9,355.8 L180.1,355.3 L182.6,354.9 L185.5,354.6 L188.7,354.4 L192.2,354.2 L195.9,354.1 L199.8,354.0 L203.9,353.9 L207.9,353.8 L212.0,353.7 L216.1,353.6 L220.0,353.5 L224.0,353.4 L228.4,353.3 L232.9,353.2 L237.5,353.1 L242.1,353.0 L246.4,352.9 L250.5,352.8 L254.1,352.7 L257.1,352.7 L259.5,352.6" stroke="#333" stroke-width="0.9" fill="none" stroke-dasharray="2,1.5" stroke-linejoin="round" />
<path d="M63.0,256.1 L65.3,256.3 L68.3,256.5 L71.9,256.8 L76.0,257.1 L80.2,257.4 L84.6,257.7 L89.0,258.1 L93.1,258.4 L96.8,258.7 L100.0,259.0 L102.7,259.3 L105.1,259.5 L107.4,259.7 L109.4,259.9 L111.3,260.1 L113.0,260.3 L114.8,260.6 L116.5,260.8 L118.2,261.1 L120.0,261.5 L121.8,261.9 L123.7,262.4 L125.5,262.9 L127.3,263.4 L129.0,263.9 L130.7,264.5 L132.3,265.1 L133.9,265.6 L135.4,266.2 L136.8,266.8 L138.1,267.4 L139.3,267.9 L140.5,268.5 L141.6,269.1 L142.6,269.7 L143.6,270.3 L144.5,270.9 L145.4,271.6 L146.3,272.3 L147.2,273.0 L148.1,273.7 L148.9,274.5 L149.7,275.3 L150.5,276.1 L151.3,276.9 L152.0,277.8 L152.7,278.7 L153.4,279.6 L154.0,280.5 L154.6,281.4 L155.2,282.3 L155.7,283.3 L156.2,284.2 L156.6,285.2 L157.0,286.1 L157.4,287.2 L157.8,288.2 L158.1,289.4 L158.4,290.6 L158.7,291.9 L158.9,293.3 L159.1,294.7 L159.3,296.2 L159.4,297.7 L159.4,299.3 L159.5,301.0 L159.6,302.8 L159.6,304.6 L159.7,306.6 L159.8,308.6 L159.9,310.8 L160.0,313.2 L160.1,315.8 L160.2,318.5 L160.3,321.2 L160.4,323.9 L160.5,326.6 L160.6,329.2 L160.7,331.6 L160.8,333.8 L160.9,335.9 L161.0,338.0 L161.2,340.0 L161.3,341.9 L161.4,343.7 L161.5,345.4 L161.6,347.0 L161.7,348.4 L161.8,349.5 L161.9,350.5" stroke="#e8201c" stroke-width="1.3" fill="none" stroke-linejoin="round" />
<path d="M161.9,350.5 L162.0,350.7 L162.1,351.2 L162.2,351.9 L162.3,352.7 L162.5,353.4 L162.6,353.8 L162.7,353.9 L162.8,353.4 L162.9,352.4 L163.0,350.5 L163.0,347.6 L163.0,343.7 L163.0,339.1 L162.9,333.9 L162.9,328.4 L162.8,322.9 L162.8,317.4 L162.8,312.4 L162.8,308.0 L162.9,304.5 L163.0,301.7 L163.1,299.5 L163.2,297.7 L163.3,296.2 L163.5,294.9 L163.7,293.9 L163.9,292.9 L164.2,292.0 L164.6,291.0 L165.0,289.8 L165.5,288.6 L166.1,287.3 L166.7,286.2 L167.4,285.0 L168.2,284.0 L169.0,282.9 L169.8,281.9 L170.6,281.0 L171.5,280.1 L172.4,279.3 L173.3,278.6 L174.2,277.9 L175.1,277.3 L176.0,276.8 L177.0,276.3 L178.0,275.9 L179.1,275.4 L180.2,275.0 L181.5,274.6 L182.8,274.1 L184.2,273.6 L185.6,273.2 L187.1,272.7 L188.7,272.3 L190.3,271.9 L192.0,271.5 L193.8,271.1 L195.8,270.7 L197.8,270.3 L200.0,269.9 L202.3,269.5 L204.8,269.2 L207.4,268.8 L210.2,268.4 L213.0,268.1 L215.9,267.8 L218.8,267.4 L221.8,267.1 L224.8,266.8 L227.8,266.5 L231.0,266.2 L234.4,265.9 L238.0,265.6 L241.7,265.3 L245.4,265.0 L248.9,264.8 L252.2,264.5 L255.1,264.3 L257.6,264.1 L259.5,264.0" stroke="#e8201c" stroke-width="1.3" fill="none" stroke-linejoin="round" />
<rect x="57.0" y="226.3" width="207.7" height="167.0" fill="none" stroke="#333" stroke-width="1.1"/>
<path d="M62.8,393.3 V396.3 M82.6,393.3 V396.3 M102.3,393.3 V396.3 M122.1,393.3 V396.3 M141.8,393.3 V396.3 M161.6,393.3 V396.3 M181.4,393.3 V396.3 M201.1,393.3 V396.3 M220.9,393.3 V396.3 M240.6,393.3 V396.3 M260.4,393.3 V396.3 M72.7,393.3 V395.1 M92.4,393.3 V395.1 M112.2,393.3 V395.1 M132.0,393.3 V395.1 M151.7,393.3 V395.1 M171.5,393.3 V395.1 M191.2,393.3 V395.1 M211.0,393.3 V395.1 M230.8,393.3 V395.1 M250.5,393.3 V395.1 M62.8,226.3 V229.3 M82.6,226.3 V229.3 M102.3,226.3 V229.3 M122.1,226.3 V229.3 M141.8,226.3 V229.3 M161.6,226.3 V229.3 M181.4,226.3 V229.3 M201.1,226.3 V229.3 M220.9,226.3 V229.3 M240.6,226.3 V229.3 M260.4,226.3 V229.3 M72.7,226.3 V228.1 M92.4,226.3 V228.1 M112.2,226.3 V228.1 M132.0,226.3 V228.1 M151.7,226.3 V228.1 M171.5,226.3 V228.1 M191.2,226.3 V228.1 M211.0,226.3 V228.1 M230.8,226.3 V228.1 M250.5,226.3 V228.1" stroke="#333" stroke-width="1" fill="none"/>
<path d="M57.0,226.5 H54.0 M57.0,254.3 H54.0 M57.0,282.1 H54.0 M57.0,309.9 H54.0 M57.0,337.7 H54.0 M57.0,365.5 H54.0 M57.0,393.3 H54.0 M57.0,240.4 H55.2 M57.0,268.2 H55.2 M57.0,296.0 H55.2 M57.0,323.8 H55.2 M57.0,351.6 H55.2 M57.0,379.4 H55.2 M264.7,226.5 H261.7 M264.7,254.3 H261.7 M264.7,282.1 H261.7 M264.7,309.9 H261.7 M264.7,337.7 H261.7 M264.7,365.5 H261.7 M264.7,393.3 H261.7 M264.7,240.4 H262.9 M264.7,268.2 H262.9 M264.7,296.0 H262.9 M264.7,323.8 H262.9 M264.7,351.6 H262.9 M264.7,379.4 H262.9" stroke="#333" stroke-width="1" fill="none"/>
<path d="M57.0,389.1 H56.0 M57.0,386.7 H56.0 M57.0,384.9 H56.0 M57.0,383.6 H56.0 M57.0,382.5 H56.0 M57.0,381.6 H56.0 M57.0,380.7 H56.0 M57.0,380.0 H56.0 M57.0,375.2 H56.0 M57.0,372.8 H56.0 M57.0,371.0 H56.0 M57.0,369.7 H56.0 M57.0,368.6 H56.0 M57.0,367.7 H56.0 M57.0,366.8 H56.0 M57.0,366.1 H56.0 M57.0,361.3 H56.0 M57.0,358.9 H56.0 M57.0,357.1 H56.0 M57.0,355.8 H56.0 M57.0,354.7 H56.0 M57.0,353.8 H56.0 M57.0,352.9 H56.0 M57.0,352.2 H56.0 M57.0,347.4 H56.0 M57.0,345.0 H56.0 M57.0,343.2 H56.0 M57.0,341.9 H56.0 M57.0,340.8 H56.0 M57.0,339.9 H56.0 M57.0,339.0 H56.0 M57.0,338.3 H56.0 M57.0,333.5 H56.0 M57.0,331.1 H56.0 M57.0,329.3 H56.0 M57.0,328.0 H56.0 M57.0,326.9 H56.0 M57.0,326.0 H56.0 M57.0,325.1 H56.0 M57.0,324.4 H56.0 M57.0,319.6 H56.0 M57.0,317.2 H56.0 M57.0,315.4 H56.0 M57.0,314.1 H56.0 M57.0,313.0 H56.0 M57.0,312.1 H56.0 M57.0,311.2 H56.0 M57.0,310.5 H56.0 M57.0,305.7 H56.0 M57.0,303.3 H56.0 M57.0,301.5 H56.0 M57.0,300.2 H56.0 M57.0,299.1 H56.0 M57.0,298.2 H56.0 M57.0,297.3 H56.0 M57.0,296.6 H56.0 M57.0,291.8 H56.0 M57.0,289.4 H56.0 M57.0,287.6 H56.0 M57.0,286.3 H56.0 M57.0,285.2 H56.0 M57.0,284.3 H56.0 M57.0,283.4 H56.0 M57.0,282.7 H56.0 M57.0,277.9 H56.0 M57.0,275.5 H56.0 M57.0,273.7 H56.0 M57.0,272.4 H56.0 M57.0,271.3 H56.0 M57.0,270.4 H56.0 M57.0,269.5 H56.0 M57.0,268.8 H56.0 M57.0,264.0 H56.0 M57.0,261.6 H56.0 M57.0,259.8 H56.0 M57.0,258.5 H56.0 M57.0,257.4 H56.0 M57.0,256.5 H56.0 M57.0,255.6 H56.0 M57.0,254.9 H56.0 M57.0,250.1 H56.0 M57.0,247.7 H56.0 M57.0,245.9 H56.0 M57.0,244.6 H56.0 M57.0,243.5 H56.0 M57.0,242.6 H56.0 M57.0,241.7 H56.0 M57.0,241.0 H56.0 M57.0,236.2 H56.0 M57.0,233.8 H56.0 M57.0,232.0 H56.0 M57.0,230.7 H56.0 M57.0,229.6 H56.0 M57.0,228.7 H56.0 M57.0,227.8 H56.0 M57.0,227.1 H56.0" stroke="#333" stroke-width="1" fill="none"/>
<text x="62.8" y="408.0" font-size="11" text-anchor="middle" font-weight="normal" fill="#111" stroke="#111" stroke-width="0.25" >-10</text>
<text x="82.6" y="408.0" font-size="11" text-anchor="middle" font-weight="normal" fill="#111" stroke="#111" stroke-width="0.25" >-8</text>
<text x="102.3" y="408.0" font-size="11" text-anchor="middle" font-weight="normal" fill="#111" stroke="#111" stroke-width="0.25" >-6</text>
<text x="122.1" y="408.0" font-size="11" text-anchor="middle" font-weight="normal" fill="#111" stroke="#111" stroke-width="0.25" >-4</text>
<text x="141.8" y="408.0" font-size="11" text-anchor="middle" font-weight="normal" fill="#111" stroke="#111" stroke-width="0.25" >-2</text>
<text x="161.6" y="408.0" font-size="11" text-anchor="middle" font-weight="normal" fill="#111" stroke="#111" stroke-width="0.25" >0</text>
<text x="181.4" y="408.0" font-size="11" text-anchor="middle" font-weight="normal" fill="#111" stroke="#111" stroke-width="0.25" >2</text>
<text x="201.1" y="408.0" font-size="11" text-anchor="middle" font-weight="normal" fill="#111" stroke="#111" stroke-width="0.25" >4</text>
<text x="220.9" y="408.0" font-size="11" text-anchor="middle" font-weight="normal" fill="#111" stroke="#111" stroke-width="0.25" >6</text>
<text x="240.6" y="408.0" font-size="11" text-anchor="middle" font-weight="normal" fill="#111" stroke="#111" stroke-width="0.25" >8</text>
<text x="260.4" y="408.0" font-size="11" text-anchor="middle" font-weight="normal" fill="#111" stroke="#111" stroke-width="0.25" >10</text>
<text x="52.0" y="230.5" font-size="11" text-anchor="end" font-weight="normal" fill="#111" stroke="#111" stroke-width="0.25" >10<tspan font-size="7" dy="-5">-3</tspan></text>
<text x="52.0" y="258.3" font-size="11" text-anchor="end" font-weight="normal" fill="#111" stroke="#111" stroke-width="0.25" >10<tspan font-size="7" dy="-5">-5</tspan></text>
<text x="52.0" y="286.1" font-size="11" text-anchor="end" font-weight="normal" fill="#111" stroke="#111" stroke-width="0.25" >10<tspan font-size="7" dy="-5">-7</tspan></text>
<text x="52.0" y="313.9" font-size="11" text-anchor="end" font-weight="normal" fill="#111" stroke="#111" stroke-width="0.25" >10<tspan font-size="7" dy="-5">-9</tspan></text>
<text x="52.0" y="341.7" font-size="11" text-anchor="end" font-weight="normal" fill="#111" stroke="#111" stroke-width="0.25" >10<tspan font-size="7" dy="-5">-11</tspan></text>
<text x="52.0" y="369.5" font-size="11" text-anchor="end" font-weight="normal" fill="#111" stroke="#111" stroke-width="0.25" >10<tspan font-size="7" dy="-5">-13</tspan></text>
<text x="52.0" y="397.3" font-size="11" text-anchor="end" font-weight="normal" fill="#111" stroke="#111" stroke-width="0.25" >10<tspan font-size="7" dy="-5">-15</tspan></text>
<text x="57.5" y="246.5" font-size="20" text-anchor="start" font-weight="normal" fill="#111" stroke="#111" stroke-width="0.25" >(c)</text>
<text x="62.0" y="389.8" font-size="11.5" text-anchor="start" font-weight="normal" fill="#111" stroke="#111" stroke-width="0.25" >grounded gate</text>
<text x="15.5" y="321.5" font-size="14.5" transform="rotate(-90 15.5 321.5)" fill="#111" stroke="#111" stroke-width="0.25">I<tspan font-size="10" dy="4">d</tspan><tspan dy="-4"> (A)</tspan></text>
<text x="141" y="425.8" font-size="15" fill="#111" stroke="#111" stroke-width="0.25">V<tspan font-size="8.5" dy="4.5">ds</tspan><tspan dy="-4.5"> (V)</tspan></text>
<path d="M136.0,232.6 L153.8,232.6" stroke="#111" stroke-width="1.2" fill="none" stroke-linejoin="round" />
<path d="M136.0,246.3 L153.8,246.3" stroke="#e8201c" stroke-width="1.3" fill="none" stroke-linejoin="round" />
<path d="M136.0,260.4 L153.8,260.4" stroke="#333" stroke-width="1.0" fill="none" stroke-dasharray="2,1.5" stroke-linejoin="round" />
<text x="164.5" y="236.0" font-size="10.5" text-anchor="start" font-weight="normal" fill="#111" stroke="#111" stroke-width="0.25" >1 - ambient pressure</text>
<text x="164.5" y="250" font-size="10.5" fill="#111" stroke="#111" stroke-width="0.25">3 - P = 3 x 10<tspan font-size="7.5" dy="-4">-4</tspan><tspan dy="4"> mbar</tspan></text>
<text x="164.5" y="263.8" font-size="10.5" text-anchor="start" font-weight="normal" fill="#111" stroke="#111" stroke-width="0.25" >5 - ambient pressure</text>
<path d="M357.0,352.1 L359.6,332.6 L362.1,351.1 L364.5,332.0 L366.9,347.7 L369.0,333.4 L371.4,348.3 L373.4,332.1 L375.4,349.7 L377.8,335.2 L380.2,352.5 L382.8,333.2 L384.9,348.9 L387.2,331.8 L389.0,349.7 L391.2,330.8 L393.0,350.2 L395.4,332.7 L397.2,349.5" stroke="#e8201c" stroke-width="0.9" fill="none" stroke-dasharray="1,1" stroke-linejoin="round" />
<path d="M357.0,349.3 L359.9,335.3 L362.3,346.9 L365.0,333.8 L367.8,348.1 L370.5,332.7 L373.1,347.4 L375.6,333.8 L377.9,347.0" stroke="#e8201c" stroke-width="0.9" fill="none" stroke-linejoin="round" />
<path d="M359.0,352.2 L361.0,335.0 L362.7,350.3 L364.4,333.2 L366.4,352.3 L368.3,337.4 L370.1,350.2 L371.9,334.7" stroke="#e8201c" stroke-width="0.9" fill="none" stroke-dasharray="1,1" stroke-linejoin="round" />
<path d="M357.0,352.7 L359.1,343.1 L360.8,353.3 L362.6,343.1 L365.0,353.2 L367.0,343.2 L369.1,352.3 L371.4,343.2 L373.2,352.4 L375.2,342.7 L376.8,352.4 L378.7,343.0 L380.5,353.1 L382.7,342.5 L384.7,352.6 L386.7,343.2 L388.7,353.5 L390.6,342.7 L392.8,353.7 L395.0,342.5 L396.9,353.7 L399.1,343.4 L401.2,353.2 L403.3,343.4 L405.3,353.0 L407.4,343.5 L409.7,353.3 L411.6,343.4 L413.2,353.1 L415.5,342.7 L417.2,353.6 L419.1,342.6 L421.1,352.3 L423.2,342.8 L425.4,352.6 L427.3,343.4 L429.2,353.0 L430.9,343.1 L433.1,353.6 L434.8,343.5 L436.6,352.3 L438.2,343.5 L439.9,353.0 L441.6,343.1 L443.3,353.4 L445.5,343.5 L447.6,353.1 L449.5,342.5 L451.3,352.3 L453.6,342.7 L455.2,352.7 L457.3,342.6 L459.1,352.3 L461.4,343.6 L463.2,353.7 L465.5,342.3 L467.9,352.8 L470.0,342.7 L472.1,352.3 L474.2,343.3 L476.2,353.8 L478.4,342.7 L480.3,352.4 L482.5,343.3 L484.2,353.6 L485.9,343.3 L487.9,352.3 L489.7,342.4 L491.8,352.4 L493.8,343.8 L496.0,353.4 L497.7,342.5 L499.9,353.5 L501.7,342.3 L503.5,352.7 L505.2,342.5 L506.9,353.0 L508.5,342.9 L510.8,353.7 L512.6,342.6 L514.7,353.3" stroke="#111" stroke-width="0.9" fill="none" stroke-linejoin="round" />
<path d="M357.0,348.1 L359.5,337.5 L361.9,347.7 L364.4,337.3 L366.8,347.6 L368.9,338.0 L371.5,347.5 L373.4,336.5 L375.4,348.1 L377.9,337.1 L379.9,348.4 L381.8,337.6 L383.8,348.7 L385.6,337.1 L387.5,347.5 L390.1,337.5 L392.4,348.0 L394.2,337.8 L396.7,348.1 L399.2,338.0 L401.5,347.2 L404.0,338.1 L406.2,348.3 L408.7,337.9 L410.6,347.3 L412.8,337.1 L415.4,348.4 L417.2,337.2 L419.1,348.9 L421.4,336.0 L423.7,347.7 L425.7,336.8 L428.1,347.8 L430.6,336.9 L432.5,347.8 L434.7,337.7 L437.0,347.3 L438.9,336.9 L441.3,348.2 L443.3,337.3 L445.5,347.6 L447.8,337.9 L450.3,347.1 L452.1,337.6 L454.0,347.2 L456.6,338.0 L458.6,348.7 L460.8,336.1 L462.6,348.7 L464.8,336.9 L467.2,348.1 L469.1,337.3 L471.8,347.4 L473.6,336.3 L475.6,347.4 L477.4,336.2 L479.3,348.1 L481.7,337.0 L483.6,348.8 L485.6,338.0 L487.5,348.8 L489.7,337.3 L492.0,348.5 L493.8,337.4" stroke="#111" stroke-width="0.9" fill="none" stroke-dasharray="2.5,1" stroke-linejoin="round" />
<path d="M357.0,342.5 L359.2,331.5 L361.4,341.2 L364.1,332.4 L366.6,342.5 L368.6,332.1 L371.0,341.1 L373.0,331.6 L375.2,342.7 L378.0,331.6 L379.9,341.2 L381.9,332.8 L384.0,341.1 L385.9,331.2 L388.3,342.9 L390.7,332.1 L393.0,341.5 L395.5,331.0 L397.5,341.4 L399.7,331.4 L402.3,341.0 L404.4,332.1 L407.1,341.1 L409.3,331.1 L411.5,342.3 L414.1,332.1 L416.3,342.2 L418.6,332.7 L420.4,341.5 L422.8,331.7 L425.4,342.5 L427.4,332.4 L429.6,341.5 L431.7,332.4 L434.2,342.6 L436.1,331.6 L438.6,342.4 L441.1,332.9 L443.3,341.8 L445.4,332.3 L447.8,341.8 L449.7,331.6 L451.7,341.1 L453.7,332.5 L455.7,341.0 L457.8,331.8 L460.6,341.1 L462.4,332.0 L464.8,341.6 L467.0,332.3 L468.8,342.9 L471.2,332.8 L473.2,342.3 L475.1,332.9 L477.8,342.1 L479.8,331.6 L481.7,342.5 L484.4,331.2 L486.8,342.8 L489.0,332.9 L491.0,342.9" stroke="#222" stroke-width="0.9" fill="none" stroke-dasharray="1,1" stroke-linejoin="round" />
<path d="M358.0,351.3 L360.1,335.9 L363.0,352.9 L365.3,336.2 L368.1,351.0 L370.7,333.4 L372.8,353.3 L375.4,331.6 L378.2,351.2 L380.7,336.6 L383.6,354.3 L385.7,333.0 L388.5,350.5 L391.0,335.7 L393.0,350.1 L396.0,335.4 L398.9,352.5 L401.2,334.0 L403.2,352.3 L405.4,332.9 L407.9,350.0 L410.8,335.0 L413.1,349.6 L415.6,336.2 L417.6,349.4 L420.2,336.4 L422.7,352.0 L425.1,331.6 L428.1,354.0 L430.2,334.5 L433.1,351.3 L435.8,333.6 L438.0,350.3" stroke="#111" stroke-width="0.8" fill="none" stroke-linejoin="round" />
<path d="M356.0,349.2 L357.8,336.1 L360.3,349.8 L362.1,336.3 L364.3,351.9 L366.2,338.0 L368.3,350.5 L370.4,336.9 L372.7,351.4 L375.1,334.1 L377.2,350.1 L379.6,336.9 L382.0,350.9 L384.2,336.7 L386.4,348.2 L388.2,334.7 L390.3,350.5 L392.3,337.8 L394.2,349.5 L395.9,335.3 L398.4,348.0 L400.8,334.7 L402.7,348.0 L404.5,334.4 L406.9,349.5 L409.1,337.3 L411.2,350.9 L413.0,337.6 L415.3,348.2 L417.1,338.0 L419.0,351.5 L420.8,335.7 L422.9,350.3 L424.7,335.3 L426.7,350.4 L428.7,334.3" stroke="#222" stroke-width="0.8" fill="none" stroke-dasharray="1.5,1" stroke-linejoin="round" />
<path d="M360.0,345.1 L362.5,331.5 L365.1,346.0 L368.2,332.3 L370.4,347.4 L373.7,334.8 L376.2,344.2 L378.3,334.3 L380.7,347.6 L383.4,332.6 L385.9,347.5 L388.9,331.8 L391.7,347.4 L394.5,332.5 L397.1,344.6 L399.7,333.0 L401.9,345.8 L404.9,332.1 L407.4,344.1 L410.3,333.3 L412.9,344.9 L415.3,332.5 L418.2,345.9 L421.3,333.1 L424.0,346.8 L427.1,333.7 L430.0,346.4 L433.2,331.3 L435.4,344.1 L438.2,334.7 L440.9,347.8 L443.7,334.2 L446.2,346.8 L449.0,331.7 L452.2,346.7 L455.0,334.9 L457.5,344.2 L459.8,331.6 L462.7,346.8 L465.7,333.8 L468.8,347.6" stroke="#222" stroke-width="0.8" fill="none" stroke-dasharray="1.2,1" stroke-linejoin="round" />
<path d="M357.9,321.5 L358.2,320.7 L358.5,319.7 L358.9,318.5 L359.3,317.2 L359.8,315.7 L360.3,314.2 L360.9,312.6 L361.5,311.0 L362.1,309.5 L362.7,308.0 L363.3,306.6 L363.9,305.1 L364.6,303.7 L365.3,302.2 L366.0,300.8 L366.7,299.2 L367.5,297.7 L368.4,296.1 L369.3,294.5 L370.3,292.8 L371.4,291.0 L372.5,289.2 L373.7,287.3 L375.0,285.4 L376.3,283.4 L377.7,281.4 L379.1,279.4 L380.6,277.5 L382.1,275.6 L383.7,273.7 L385.4,271.9 L387.2,270.0 L389.0,268.1 L390.9,266.2 L392.9,264.4 L394.9,262.6 L396.9,260.9 L398.9,259.3 L400.9,257.8 L402.8,256.4 L404.7,255.2 L406.6,254.0 L408.6,253.0 L410.5,252.1 L412.4,251.3 L414.3,250.5 L416.3,249.8 L418.2,249.1 L420.1,248.4 L422.0,247.8 L423.9,247.2 L425.7,246.7 L427.6,246.3 L429.4,245.9 L431.2,245.5 L433.0,245.2 L434.9,244.9 L436.9,244.6 L438.9,244.3 L441.0,244.0 L443.2,243.7 L445.5,243.4 L447.8,243.1 L450.2,242.8 L452.6,242.5 L455.1,242.3 L457.6,242.0 L460.0,241.7 L462.5,241.4 L465.0,241.1 L467.3,240.8 L469.2,240.4 L471.0,240.1 L472.8,239.8 L474.7,239.4 L476.8,239.1 L479.2,238.7 L482.2,238.3 L485.8,238.0 L490.2,237.6 L495.8,237.2 L502.6,236.8 L510.4,236.3 L518.8,235.8 L527.4,235.3 L535.8,234.9 L543.8,234.4 L551.0,234.1 L557.0,233.7 L561.4,233.5" stroke="#e8201c" stroke-width="1.2" fill="none" stroke-linejoin="round" />
<path d="M357.9,321.5 L358.3,321.0 L358.8,320.4 L359.3,319.6 L360.0,318.8 L360.7,317.9 L361.4,317.0 L362.2,316.1 L363.0,315.2 L363.8,314.4 L364.6,313.8 L365.5,313.3 L366.4,312.8 L367.4,312.4 L368.5,312.0 L369.5,311.7 L370.6,311.3 L371.6,311.0 L372.5,310.7 L373.4,310.4 L374.1,310.0 L374.7,309.6 L375.3,309.1 L375.8,308.6 L376.2,308.1 L376.6,307.6 L376.9,307.1 L377.2,306.7 L377.5,306.4 L377.8,306.1 L378.0,306.0 L378.2,306.1 L378.3,306.4 L378.4,306.9 L378.4,307.5 L378.5,308.1 L378.5,308.7 L378.5,309.2 L378.6,309.4 L378.8,309.4 L379.0,309.0 L379.3,308.3 L379.6,307.2 L380.0,305.9 L380.4,304.4 L380.8,302.8 L381.3,301.0 L381.8,299.3 L382.4,297.7 L383.0,296.1 L383.7,294.7 L384.4,293.5 L385.2,292.3 L385.9,291.2 L386.7,290.2 L387.6,289.1 L388.5,288.1 L389.6,287.0 L390.7,285.8 L391.9,284.6 L393.3,283.2 L394.8,281.7 L396.5,280.0 L398.3,278.2 L400.3,276.4 L402.3,274.5 L404.3,272.6 L406.4,270.8 L408.4,269.0 L410.4,267.4 L412.4,266.0 L414.3,264.7 L416.2,263.5 L418.1,262.4 L420.0,261.4 L421.9,260.5 L423.9,259.6 L425.8,258.8 L427.7,257.9 L429.6,257.2 L431.5,256.4 L433.4,255.7 L435.4,255.0 L437.4,254.3 L439.4,253.7 L441.4,253.2 L443.4,252.7 L445.3,252.1 L447.2,251.7 L449.0,251.2 L450.7,250.7 L452.2,250.3 L453.5,249.9 L454.7,249.5 L455.8,249.1 L456.9,248.8 L458.0,248.5 L459.3,248.1 L460.9,247.8 L462.8,247.4 L465.0,246.9 L467.5,246.4 L470.3,245.9 L473.1,245.3 L476.2,244.7 L479.6,244.1 L483.1,243.5 L486.9,242.9 L491.0,242.2 L495.3,241.6 L500.0,241.0 L505.3,240.4 L511.6,239.7 L518.4,239.0 L525.6,238.3 L532.9,237.6 L540.0,236.9 L546.7,236.3 L552.6,235.7 L557.6,235.3 L561.4,234.9" stroke="#e8201c" stroke-width="1.2" fill="none" stroke-linejoin="round" />
<path d="M364.6,331.0 L365.2,329.0 L365.9,326.3 L366.7,323.1 L367.7,319.5 L368.8,315.7 L369.8,311.8 L370.9,308.0 L372.0,304.4 L373.1,301.2 L374.1,298.5 L375.0,296.3 L375.9,294.4 L376.7,292.7 L377.5,291.2 L378.3,289.9 L379.2,288.6 L380.1,287.4 L381.2,286.1 L382.4,284.7 L383.7,283.2 L385.2,281.5 L386.8,279.8 L388.4,278.0 L390.2,276.2 L392.1,274.4 L394.0,272.6 L396.1,270.9 L398.2,269.2 L400.5,267.5 L402.8,266.0 L405.3,264.5 L407.8,263.2 L410.6,261.8 L413.4,260.5 L416.2,259.3 L419.2,258.1 L422.2,256.9 L425.3,255.8 L428.4,254.7 L431.5,253.6 L434.6,252.6 L437.7,251.6 L440.8,250.7 L444.0,249.8 L447.2,248.9 L450.5,248.1 L454.0,247.3 L457.5,246.5 L461.2,245.7 L465.0,245.0 L469.0,244.3 L473.2,243.6 L477.5,242.9 L481.9,242.3 L486.4,241.7 L491.0,241.1 L495.7,240.5 L500.4,240.0 L505.2,239.5 L510.0,239.0 L515.1,238.6 L520.7,238.2 L526.6,237.8 L532.6,237.4 L538.5,237.1 L544.2,236.8 L549.6,236.6 L554.3,236.4 L558.3,236.2 L561.4,236.0" stroke="#e8201c" stroke-width="1.1" fill="none" stroke-dasharray="1.2,1.6" stroke-linejoin="round" />
<path d="M399.0,333.0 L399.8,331.7 L400.9,330.1 L402.2,328.1 L403.6,325.9 L405.1,323.5 L406.7,321.1 L408.2,318.6 L409.7,316.2 L411.2,313.9 L412.4,311.9 L413.5,310.0 L414.4,308.3 L415.3,306.6 L416.1,305.0 L416.8,303.4 L417.7,301.8 L418.5,300.2 L419.5,298.4 L420.7,296.6 L422.0,294.7 L423.5,292.6 L425.1,290.4 L426.8,288.0 L428.6,285.6 L430.4,283.1 L432.4,280.7 L434.4,278.3 L436.6,275.9 L438.7,273.7 L441.0,271.7 L443.3,269.8 L445.5,268.0 L447.8,266.2 L450.2,264.5 L452.7,262.9 L455.3,261.3 L458.0,259.9 L461.0,258.4 L464.2,257.0 L467.6,255.7 L471.4,254.4 L475.4,253.2 L479.7,252.1 L484.2,251.0 L488.8,249.9 L493.6,249.0 L498.4,248.0 L503.2,247.2 L508.1,246.3 L512.8,245.5 L517.7,244.7 L523.1,244.0 L528.7,243.3 L534.3,242.7 L539.9,242.1 L545.3,241.5 L550.3,241.0 L554.7,240.6 L558.5,240.2 L561.4,239.9" stroke="#e8201c" stroke-width="1.1" fill="none" stroke-dasharray="1.2,1.6" stroke-linejoin="round" />
<path d="M372.2,302.3 L373.5,300.5 L375.1,298.2 L377.0,295.3 L379.2,292.2 L381.6,288.8 L384.0,285.4 L386.5,282.1 L388.9,278.9 L391.2,276.1 L393.3,273.7 L395.2,271.7 L397.1,270.0 L398.9,268.5 L400.6,267.2 L402.4,265.9 L404.2,264.8 L406.0,263.7 L408.0,262.6 L410.1,261.5 L412.4,260.3 L414.9,259.0 L417.6,257.8 L420.4,256.5 L423.4,255.2 L426.4,254.0 L429.4,252.8 L432.5,251.7 L435.4,250.6 L438.3,249.7 L441.0,248.8 L443.5,248.1 L445.7,247.4 L447.8,246.9 L449.8,246.5 L451.8,246.1 L453.9,245.7 L456.2,245.3 L458.8,245.0 L461.7,244.5 L465.0,244.0 L468.8,243.4 L473.0,242.7 L477.6,242.0 L482.4,241.3 L487.4,240.6 L492.5,239.9 L497.7,239.2 L502.8,238.6 L507.9,238.0 L512.8,237.6 L517.8,237.3 L523.2,237.0 L528.9,236.8 L534.5,236.7 L540.1,236.6 L545.4,236.6 L550.4,236.6 L554.8,236.6 L558.5,236.5 L561.4,236.5" stroke="#111" stroke-width="1.1" fill="none" stroke-dasharray="1.2,1.6" stroke-linejoin="round" />
<path d="M372.2,331.0 L372.9,329.5 L373.6,327.6 L374.6,325.3 L375.6,322.7 L376.8,319.9 L378.0,317.0 L379.3,314.1 L380.7,311.3 L382.2,308.6 L383.7,306.2 L385.3,303.9 L387.0,301.7 L388.9,299.4 L390.8,297.2 L392.8,295.1 L394.8,292.9 L396.8,290.9 L398.9,288.9 L400.9,287.0 L402.8,285.1 L404.7,283.3 L406.6,281.6 L408.6,279.9 L410.5,278.3 L412.4,276.7 L414.3,275.2 L416.3,273.8 L418.2,272.4 L420.1,271.1 L422.0,269.8 L423.9,268.6 L425.7,267.5 L427.5,266.5 L429.2,265.5 L431.0,264.6 L432.9,263.7 L434.7,262.9 L436.7,262.0 L438.8,261.2 L441.0,260.3 L443.3,259.4 L445.5,258.6 L447.8,257.8 L450.2,257.0 L452.7,256.2 L455.3,255.4 L458.0,254.6 L461.0,253.9 L464.2,253.1 L467.6,252.3 L471.4,251.5 L475.4,250.6 L479.7,249.8 L484.2,248.9 L488.8,248.1 L493.6,247.2 L498.4,246.4 L503.2,245.7 L508.1,245.0 L512.8,244.4 L517.7,243.9 L523.1,243.4 L528.7,242.9 L534.3,242.6 L539.9,242.2 L545.3,241.9 L550.3,241.6 L554.7,241.4 L558.5,241.2 L561.4,241.0" stroke="#111" stroke-width="1.1" fill="none" stroke-dasharray="3.5,2" stroke-linejoin="round" />
<path d="M378.0,333.0 L378.9,331.7 L380.0,330.1 L381.3,328.1 L382.8,325.9 L384.5,323.5 L386.2,321.1 L387.9,318.6 L389.8,316.2 L391.5,313.9 L393.3,311.9 L395.1,310.0 L396.9,308.1 L398.8,306.2 L400.7,304.4 L402.6,302.6 L404.6,300.8 L406.6,299.2 L408.5,297.6 L410.5,296.1 L412.4,294.7 L414.3,293.4 L416.2,292.3 L418.1,291.3 L420.0,290.3 L421.9,289.4 L423.9,288.6 L425.8,287.7 L427.7,286.9 L429.6,286.0 L431.5,285.1 L433.4,284.1 L435.4,283.2 L437.3,282.2 L439.3,281.2 L441.2,280.2 L443.2,279.3 L445.1,278.3 L447.0,277.4 L448.9,276.5 L450.7,275.6 L452.5,274.8 L454.1,274.0 L455.8,273.2 L457.4,272.4 L458.9,271.7 L460.5,271.0 L462.2,270.2 L463.9,269.5 L465.7,268.8 L467.6,268.1 L469.6,267.4 L471.8,266.6 L474.0,265.9 L476.2,265.2 L478.5,264.5 L480.9,263.8 L483.2,263.1 L485.6,262.5 L487.9,261.9 L490.2,261.3 L492.3,260.8 L494.3,260.3 L496.2,259.9 L498.0,259.5 L499.9,259.1 L501.9,258.7 L504.1,258.4 L506.6,258.1 L509.5,257.8 L512.8,257.5 L516.8,257.2 L521.6,257.0 L527.0,256.8 L532.7,256.5 L538.5,256.4 L544.2,256.2 L549.6,256.0 L554.4,255.9 L558.4,255.8 L561.4,255.7" stroke="#111" stroke-width="1.1" fill="none" stroke-linejoin="round" />
<path d="M455.0,333.0 L455.5,332.3 L456.0,331.3 L456.7,330.3 L457.4,329.1 L458.2,327.8 L459.1,326.3 L460.1,324.8 L461.0,323.3 L462.0,321.6 L463.0,320.0 L464.0,318.3 L465.1,316.5 L466.2,314.5 L467.4,312.5 L468.6,310.5 L469.8,308.4 L471.1,306.2 L472.3,304.1 L473.7,302.0 L475.0,300.0 L476.4,297.9 L477.7,295.8 L479.1,293.7 L480.5,291.6 L482.0,289.4 L483.5,287.3 L485.0,285.3 L486.6,283.3 L488.3,281.4 L490.0,279.6 L491.8,277.9 L493.7,276.3 L495.7,274.7 L497.7,273.2 L499.8,271.7 L501.9,270.3 L504.0,269.0 L506.1,267.8 L508.2,266.5 L510.2,265.4 L512.2,264.4 L514.1,263.4 L515.9,262.6 L517.7,261.8 L519.6,261.1 L521.5,260.4 L523.5,259.7 L525.6,259.0 L527.9,258.2 L530.4,257.3 L533.2,256.3 L536.5,255.2 L540.0,254.1 L543.7,252.9 L547.4,251.7 L551.0,250.6 L554.3,249.6 L557.4,248.6 L559.9,247.8 L561.8,247.2" stroke="#111" stroke-width="1.1" fill="none" stroke-dasharray="1.2,1.6" stroke-linejoin="round" />
<path d="M494.0,333.0 L494.5,332.1 L495.1,331.0 L495.9,329.6 L496.8,328.1 L497.7,326.5 L498.6,324.8 L499.6,323.1 L500.5,321.3 L501.3,319.6 L502.1,318.0 L502.8,316.4 L503.5,314.8 L504.1,313.2 L504.8,311.6 L505.4,310.0 L506.0,308.3 L506.6,306.7 L507.1,305.1 L507.7,303.4 L508.2,301.8 L508.7,300.2 L509.1,298.5 L509.4,296.9 L509.8,295.2 L510.1,293.6 L510.4,291.9 L510.8,290.3 L511.2,288.7 L511.6,287.1 L512.2,285.6 L512.8,284.1 L513.5,282.6 L514.1,281.2 L514.9,279.7 L515.6,278.3 L516.4,276.9 L517.3,275.5 L518.2,274.2 L519.2,272.8 L520.3,271.5 L521.4,270.2 L522.5,269.0 L523.7,267.9 L524.9,266.7 L526.2,265.6 L527.6,264.4 L529.1,263.3 L530.7,262.1 L532.5,260.8 L534.5,259.4 L536.8,257.9 L539.6,256.2 L542.6,254.3 L545.8,252.4 L549.0,250.5 L552.2,248.7 L555.2,247.0 L557.9,245.5 L560.1,244.2 L561.8,243.2" stroke="#111" stroke-width="1.1" fill="none" stroke-dasharray="3.5,2" stroke-linejoin="round" />
<path d="M513.0,353.0 L513.1,352.6 L513.3,352.2 L513.5,351.6 L513.8,351.0 L514.0,350.4 L514.3,349.6 L514.6,348.9 L514.8,348.0 L515.1,347.2 L515.3,346.3 L515.5,345.4 L515.7,344.4 L515.8,343.4 L515.9,342.3 L516.1,341.2 L516.2,340.0 L516.4,338.8 L516.6,337.6 L516.8,336.3 L517.0,335.0 L517.3,333.6 L517.5,332.2 L517.8,330.7 L518.1,329.2 L518.5,327.7 L518.8,326.1 L519.2,324.5 L519.5,323.0 L519.9,321.5 L520.3,320.0 L520.7,318.6 L521.1,317.1 L521.6,315.7 L522.0,314.2 L522.5,312.8 L523.0,311.4 L523.5,310.0 L524.0,308.7 L524.5,307.3 L525.0,306.0 L525.5,304.7 L526.0,303.5 L526.4,302.3 L526.9,301.1 L527.4,300.0 L527.9,298.8 L528.4,297.6 L529.0,296.4 L529.7,295.1 L530.4,293.7 L531.2,292.2 L532.1,290.7 L533.1,289.0 L534.1,287.3 L535.2,285.6 L536.2,283.9 L537.3,282.3 L538.4,280.6 L539.5,279.1 L540.5,277.6 L541.5,276.2 L542.5,274.9 L543.5,273.6 L544.5,272.3 L545.5,271.1 L546.5,269.9 L547.5,268.8 L548.5,267.6 L549.5,266.5 L550.6,265.4 L551.7,264.3 L552.9,263.1 L554.2,261.9 L555.5,260.7 L556.8,259.6 L558.1,258.5 L559.2,257.5 L560.3,256.6 L561.1,255.9 L561.8,255.3" stroke="#111" stroke-width="1.1" fill="none" stroke-linejoin="round" />
<rect x="355.4" y="224.6" width="207.2" height="166.9" fill="none" stroke="#333" stroke-width="1.1"/>
<path d="M357.7,391.5 V394.5 M378.0,391.5 V394.5 M398.3,391.5 V394.5 M418.6,391.5 V394.5 M438.9,391.5 V394.5 M459.2,391.5 V394.5 M479.5,391.5 V394.5 M499.8,391.5 V394.5 M520.1,391.5 V394.5 M540.4,391.5 V394.5 M560.7,391.5 V394.5 M367.8,391.5 V393.3 M388.1,391.5 V393.3 M408.4,391.5 V393.3 M428.8,391.5 V393.3 M449.0,391.5 V393.3 M469.3,391.5 V393.3 M489.6,391.5 V393.3 M509.9,391.5 V393.3 M530.2,391.5 V393.3 M550.5,391.5 V393.3 M357.7,224.6 V227.6 M378.0,224.6 V227.6 M398.3,224.6 V227.6 M418.6,224.6 V227.6 M438.9,224.6 V227.6 M459.2,224.6 V227.6 M479.5,224.6 V227.6 M499.8,224.6 V227.6 M520.1,224.6 V227.6 M540.4,224.6 V227.6 M560.7,224.6 V227.6 M367.8,224.6 V226.4 M388.1,224.6 V226.4 M408.4,224.6 V226.4 M428.8,224.6 V226.4 M449.0,224.6 V226.4 M469.3,224.6 V226.4 M489.6,224.6 V226.4 M509.9,224.6 V226.4 M530.2,224.6 V226.4 M550.5,224.6 V226.4" stroke="#333" stroke-width="1" fill="none"/>
<path d="M355.4,224.5 H352.4 M355.4,252.6 H352.4 M355.4,280.7 H352.4 M355.4,308.8 H352.4 M355.4,336.9 H352.4 M355.4,365.0 H352.4 M355.4,393.1 H352.4 M355.4,238.6 H353.6 M355.4,266.6 H353.6 M355.4,294.8 H353.6 M355.4,322.9 H353.6 M355.4,350.9 H353.6 M355.4,379.1 H353.6 M562.6,224.5 H559.6 M562.6,252.6 H559.6 M562.6,280.7 H559.6 M562.6,308.8 H559.6 M562.6,336.9 H559.6 M562.6,365.0 H559.6 M562.6,393.1 H559.6 M562.6,238.6 H560.8 M562.6,266.6 H560.8 M562.6,294.8 H560.8 M562.6,322.9 H560.8 M562.6,350.9 H560.8 M562.6,379.1 H560.8" stroke="#333" stroke-width="1" fill="none"/>
<path d="M355.4,388.9 H354.4 M355.4,386.4 H354.4 M355.4,384.6 H354.4 M355.4,383.3 H354.4 M355.4,382.2 H354.4 M355.4,381.2 H354.4 M355.4,380.4 H354.4 M355.4,379.7 H354.4 M355.4,374.8 H354.4 M355.4,372.3 H354.4 M355.4,370.6 H354.4 M355.4,369.2 H354.4 M355.4,368.1 H354.4 M355.4,367.2 H354.4 M355.4,366.4 H354.4 M355.4,365.6 H354.4 M355.4,360.8 H354.4 M355.4,358.3 H354.4 M355.4,356.5 H354.4 M355.4,355.2 H354.4 M355.4,354.1 H354.4 M355.4,353.1 H354.4 M355.4,352.3 H354.4 M355.4,351.6 H354.4 M355.4,346.7 H354.4 M355.4,344.2 H354.4 M355.4,342.5 H354.4 M355.4,341.1 H354.4 M355.4,340.0 H354.4 M355.4,339.1 H354.4 M355.4,338.3 H354.4 M355.4,337.5 H354.4 M355.4,332.7 H354.4 M355.4,330.2 H354.4 M355.4,328.4 H354.4 M355.4,327.1 H354.4 M355.4,326.0 H354.4 M355.4,325.0 H354.4 M355.4,324.2 H354.4 M355.4,323.5 H354.4 M355.4,318.6 H354.4 M355.4,316.1 H354.4 M355.4,314.4 H354.4 M355.4,313.0 H354.4 M355.4,311.9 H354.4 M355.4,311.0 H354.4 M355.4,310.2 H354.4 M355.4,309.4 H354.4 M355.4,304.6 H354.4 M355.4,302.1 H354.4 M355.4,300.3 H354.4 M355.4,299.0 H354.4 M355.4,297.9 H354.4 M355.4,296.9 H354.4 M355.4,296.1 H354.4 M355.4,295.4 H354.4 M355.4,290.5 H354.4 M355.4,288.0 H354.4 M355.4,286.3 H354.4 M355.4,284.9 H354.4 M355.4,283.8 H354.4 M355.4,282.9 H354.4 M355.4,282.1 H354.4 M355.4,281.3 H354.4 M355.4,276.5 H354.4 M355.4,274.0 H354.4 M355.4,272.2 H354.4 M355.4,270.9 H354.4 M355.4,269.8 H354.4 M355.4,268.8 H354.4 M355.4,268.0 H354.4 M355.4,267.3 H354.4 M355.4,262.4 H354.4 M355.4,259.9 H354.4 M355.4,258.2 H354.4 M355.4,256.8 H354.4 M355.4,255.7 H354.4 M355.4,254.8 H354.4 M355.4,254.0 H354.4 M355.4,253.2 H354.4 M355.4,248.4 H354.4 M355.4,245.9 H354.4 M355.4,244.1 H354.4 M355.4,242.8 H354.4 M355.4,241.7 H354.4 M355.4,240.7 H354.4 M355.4,239.9 H354.4 M355.4,239.2 H354.4 M355.4,234.3 H354.4 M355.4,231.8 H354.4 M355.4,230.1 H354.4 M355.4,228.7 H354.4 M355.4,227.6 H354.4 M355.4,226.7 H354.4 M355.4,225.9 H354.4 M355.4,225.1 H354.4" stroke="#333" stroke-width="1" fill="none"/>
<text x="357.7" y="406.2" font-size="11" text-anchor="middle" font-weight="normal" fill="#111" stroke="#111" stroke-width="0.25" >-50</text>
<text x="378.0" y="406.2" font-size="11" text-anchor="middle" font-weight="normal" fill="#111" stroke="#111" stroke-width="0.25" >-40</text>
<text x="398.3" y="406.2" font-size="11" text-anchor="middle" font-weight="normal" fill="#111" stroke="#111" stroke-width="0.25" >-30</text>
<text x="418.6" y="406.2" font-size="11" text-anchor="middle" font-weight="normal" fill="#111" stroke="#111" stroke-width="0.25" >-20</text>
<text x="438.9" y="406.2" font-size="11" text-anchor="middle" font-weight="normal" fill="#111" stroke="#111" stroke-width="0.25" >-10</text>
<text x="459.2" y="406.2" font-size="11" text-anchor="middle" font-weight="normal" fill="#111" stroke="#111" stroke-width="0.25" >0</text>
<text x="479.5" y="406.2" font-size="11" text-anchor="middle" font-weight="normal" fill="#111" stroke="#111" stroke-width="0.25" >10</text>
<text x="499.8" y="406.2" font-size="11" text-anchor="middle" font-weight="normal" fill="#111" stroke="#111" stroke-width="0.25" >20</text>
<text x="520.1" y="406.2" font-size="11" text-anchor="middle" font-weight="normal" fill="#111" stroke="#111" stroke-width="0.25" >30</text>
<text x="540.4" y="406.2" font-size="11" text-anchor="middle" font-weight="normal" fill="#111" stroke="#111" stroke-width="0.25" >40</text>
<text x="560.7" y="406.2" font-size="11" text-anchor="middle" font-weight="normal" fill="#111" stroke="#111" stroke-width="0.25" >50</text>
<text x="350.0" y="228.5" font-size="11" text-anchor="end" font-weight="normal" fill="#111" stroke="#111" stroke-width="0.25" >10<tspan font-size="7" dy="-5">-4</tspan></text>
<text x="350.0" y="256.6" font-size="11" text-anchor="end" font-weight="normal" fill="#111" stroke="#111" stroke-width="0.25" >10<tspan font-size="7" dy="-5">-6</tspan></text>
<text x="350.0" y="284.7" font-size="11" text-anchor="end" font-weight="normal" fill="#111" stroke="#111" stroke-width="0.25" >10<tspan font-size="7" dy="-5">-8</tspan></text>
<text x="350.0" y="312.8" font-size="11" text-anchor="end" font-weight="normal" fill="#111" stroke="#111" stroke-width="0.25" >10<tspan font-size="7" dy="-5">-10</tspan></text>
<text x="350.0" y="340.9" font-size="11" text-anchor="end" font-weight="normal" fill="#111" stroke="#111" stroke-width="0.25" >10<tspan font-size="7" dy="-5">-12</tspan></text>
<text x="350.0" y="369.0" font-size="11" text-anchor="end" font-weight="normal" fill="#111" stroke="#111" stroke-width="0.25" >10<tspan font-size="7" dy="-5">-14</tspan></text>
<text x="350.0" y="397.1" font-size="11" text-anchor="end" font-weight="normal" fill="#111" stroke="#111" stroke-width="0.25" >10<tspan font-size="7" dy="-5">-16</tspan></text>
<text x="355.0" y="243.5" font-size="20" text-anchor="start" font-weight="normal" fill="#111" stroke="#111" stroke-width="0.25" >(d)</text>
<text x="357" y="258.3" font-size="11.5" fill="#111" stroke="#111" stroke-width="0.25">V<tspan font-size="7.5" dy="3">ds</tspan><tspan dy="-3"> = 5 V</tspan></text>
<text x="314" y="319.5" font-size="14.5" transform="rotate(-90 314 319.5)" fill="#111" stroke="#111" stroke-width="0.25">I<tspan font-size="10" dy="4">d</tspan><tspan dy="-4"> (A)</tspan></text>
<text x="438.5" y="423" font-size="15" fill="#111" stroke="#111" stroke-width="0.25">V<tspan font-size="8.5" dy="4.5">gs</tspan><tspan dy="-4.5"> (V)</tspan></text>
<path d="M360.0,370.3 L376.0,370.3" stroke="#e8201c" stroke-width="1.2" fill="none" stroke-dasharray="1.2,1.6" stroke-linejoin="round" />
<path d="M360.0,383.4 L376.0,383.4" stroke="#111" stroke-width="1.2" fill="none" stroke-dasharray="1.2,1.6" stroke-linejoin="round" />
<text x="381.4" y="373.7" font-size="10.5" fill="#111" stroke="#111" stroke-width="0.25">2 - P = 3 x 10<tspan font-size="7.5" dy="-4">-4</tspan><tspan dy="4"> mbar - incomplete des.</tspan></text>
<text x="381.4" y="386.7" font-size="10.5" text-anchor="start" font-weight="normal" fill="#111" stroke="#111" stroke-width="0.25" >4 - ambient pressure - incomplete ads</text>
<path d="M45.4,628.5 L221.8,630.6 L276.6,503.1 L154.4,502.9 Z" fill="#f2fafd" stroke="none" stroke-width="0.6" stroke-linejoin="round" />
<path d="M45.4,628.5 L44.9,540.9 L154.0,442.5 L154.4,502.9 Z" fill="#f2fafd" stroke="none" stroke-width="0.6" stroke-linejoin="round" />
<path d="M154.4,502.9 L154.0,442.5 L276.1,442.1 L276.6,503.1 Z" fill="#f2fafd" stroke="none" stroke-width="0.6" stroke-linejoin="round" />
<path d="M62.9,628.7 L166.5,502.9 M166.5,502.9 L166.1,442.5 M80.3,628.9 L178.7,502.9 M178.7,502.9 L178.2,442.4 M97.8,629.2 L190.8,503.0 M190.8,503.0 L190.4,442.4 M115.4,629.4 L203.0,503.0 M203.0,503.0 L202.5,442.3 M133.0,629.6 L215.2,503.0 M215.2,503.0 L214.8,442.3 M150.7,629.8 L227.5,503.0 M227.5,503.0 L227.0,442.3 M168.4,630.0 L239.7,503.0 M239.7,503.0 L239.2,442.2 M186.1,630.2 L252.0,503.1 M252.0,503.1 L251.5,442.2 M204.0,630.4 L264.3,503.1 M264.3,503.1 L263.8,442.2 M53.2,619.6 L225.7,621.5 M66.5,604.3 L232.4,605.9 M78.7,590.1 L238.6,591.5 M90.1,577.0 L244.4,578.2 M100.7,564.8 L249.7,565.8 M110.6,553.4 L254.7,554.2 M119.9,542.7 L259.3,543.4 M128.6,532.7 L263.7,533.2 M136.7,523.3 L267.8,523.7 M144.4,514.4 L271.6,514.8 M151.6,506.1 L275.2,506.3 M154.3,492.8 L276.5,492.9 M154.3,482.8 L276.5,482.8 M154.2,472.7 L276.4,472.6 M154.1,462.6 L276.3,462.4 M154.0,452.6 L276.2,452.3 M45.4,621.2 L154.4,497.9 M45.3,613.9 L154.3,492.8 M45.3,606.6 L154.3,487.8 M45.3,599.3 L154.3,482.8 M45.2,592.0 L154.2,477.7 M45.2,584.7 L154.2,472.7 M45.1,577.4 L154.1,467.7 M45.1,570.1 L154.1,462.6 M45.0,562.8 L154.1,457.6 M45.0,555.5 L154.0,452.6 M44.9,548.2 L154.0,447.5" stroke="#dbe8ed" stroke-width="0.6" fill="none"/>
<path d="M44.9,540.9 L154.0,442.5 M154.0,442.5 L276.1,442.1 M276.1,442.1 L276.6,503.1 M154.0,442.5 L154.4,502.9 M45.4,628.5 L154.4,502.9 M154.4,502.9 L276.6,503.1" stroke="#9a9a9a" stroke-width="0.9" fill="none"/>
<path d="M147.9,490.8 L150.7,497.4 L153.3,492.7 L155.2,495.5 L157.0,490.4 L158.3,495.7 L160.3,492.6 L160.4,491.6 L162.0,489.8 L163.6,487.5 L165.2,484.5 L166.8,481.6 L168.4,479.8 L170.0,478.4 L171.6,477.2 L173.2,476.0 L174.8,474.7 L176.5,473.1 L178.1,471.5 L179.7,469.8 L181.3,468.1 L182.9,466.4 L184.5,464.9 L186.2,463.4 L187.8,462.1 L189.4,460.9 L191.0,460.0 L192.6,459.4 L194.3,458.8 L195.9,458.4 L197.5,458.0 L199.2,457.7 L200.8,457.3 L202.4,457.0 L204.0,456.7 L205.7,456.4 L207.3,456.0 L208.9,455.7 L210.6,455.3 L212.2,455.0 L213.8,454.7 L215.5,454.4 L217.1,454.1 L218.7,453.7 L220.4,453.4 L222.0,453.0 L223.6,452.7 L225.3,452.3 L226.9,451.9 L228.6,451.7 L230.2,451.5 L231.8,451.3 L233.5,451.2 L235.1,451.0 L236.7,450.9 L238.4,450.8 L240.0,450.6 L241.7,450.5 L243.3,450.4 L245.0,450.3 L246.6,450.2 L248.2,450.1 L249.9,450.0 L251.5,449.9 L253.2,449.8 L254.8,449.7 L256.5,449.7 L258.1,449.6 L259.8,449.5 L261.4,449.5 L263.1,449.4 L264.7,449.4 L266.4,449.4 L268.0,449.3 L269.7,449.3 L271.3,449.3 L273.0,449.3 L273.0,449.6 L271.8,449.7 L270.6,449.7 L269.5,449.8 L268.3,449.9 L267.1,450.0 L266.0,450.2 L264.8,450.4 L263.6,450.6 L262.5,450.8 L261.3,451.4 L260.1,452.4 L259.0,453.8 L257.8,455.4 L256.7,457.2 L255.5,459.2 L254.4,461.1 L253.2,463.1 L252.1,464.9 L250.9,466.6 L249.8,468.0 L248.6,469.2 L247.5,470.3 L246.3,471.3 L245.2,472.2 L244.0,473.1 L242.8,474.1 L241.7,475.1 L240.5,476.1 L239.4,477.3 L238.2,478.7 L237.1,480.4 L235.9,482.6 L234.8,484.9 L233.6,486.9 L232.5,488.7 L231.3,490.5 L230.2,492.2 L229.1,493.7 L227.9,495.1 L227.9,489.0 L226.1,499.7 L224.1,489.5 L222.1,497.3 L220.0,489.5 L218.2,497.3 L216.2,488.1 L214.3,497.5 L212.2,490.1 L210.2,497.8 L208.2,488.9 L206.3,498.2 L204.1,488.1 L202.2,498.0 L200.3,487.9 L198.3,499.4 L196.4,488.3 L194.3,500.2 L192.2,487.6 L190.4,499.3 L188.4,490.2 L186.4,497.5 L184.2,489.6 L182.1,500.4 L180.2,489.8 L178.4,500.0 L176.4,490.2 L174.6,499.5 L172.5,488.2 L170.5,499.5 L168.4,489.3 L166.4,500.5 L164.5,490.0 L162.6,498.1 L160.7,491.2 L158.7,499.4 L156.5,489.2 L154.7,499.7 L152.7,489.4 L150.9,498.9 L148.7,488.1 L148.0,495.1 Z" fill="#ffffff" stroke="#333" stroke-width="0.5" stroke-linejoin="round" />
<path d="M140.5,501.3 L142.2,503.7 L143.6,497.9 L146.0,505.5 L147.3,501.2 L149.6,504.4 L150.7,501.1 L152.4,500.7 L154.1,500.1 L155.8,499.2 L157.5,498.1 L159.2,496.5 L160.9,494.4 L162.6,492.1 L164.3,489.8 L166.0,487.7 L167.7,485.9 L169.4,484.1 L171.1,482.2 L172.8,480.4 L174.5,478.6 L176.2,476.9 L177.9,475.3 L179.6,473.8 L181.3,472.5 L183.0,471.4 L184.7,470.5 L186.4,469.7 L188.1,469.0 L189.8,468.3 L191.6,467.7 L193.3,467.1 L195.0,466.5 L196.7,466.0 L198.4,465.5 L200.1,465.0 L201.8,464.5 L203.6,464.1 L205.3,463.6 L207.0,463.2 L208.7,462.8 L210.4,462.4 L212.2,462.0 L213.9,461.6 L215.6,461.2 L217.3,460.8 L219.0,460.4 L220.8,460.0 L222.5,459.6 L224.2,459.2 L225.9,458.9 L227.6,458.6 L229.4,458.4 L231.1,458.2 L232.8,458.1 L234.6,457.9 L236.3,457.8 L238.0,457.6 L239.7,457.5 L241.5,457.3 L243.2,457.2 L244.9,457.1 L246.7,457.0 L248.4,456.8 L250.1,456.7 L251.9,456.6 L253.6,456.5 L255.3,456.5 L257.1,456.4 L258.8,456.3 L260.5,456.3 L262.3,456.2 L264.0,456.2 L265.7,456.1 L267.5,456.1 L269.2,456.1 L269.2,456.5 L268.0,456.5 L266.9,456.6 L265.7,456.7 L264.5,456.8 L263.4,457.0 L262.2,457.2 L261.0,457.4 L259.9,457.6 L258.7,458.2 L257.5,459.2 L256.4,460.5 L255.2,462.0 L254.1,463.8 L252.9,465.7 L251.8,467.7 L250.6,469.6 L249.5,471.5 L248.3,473.3 L247.2,474.8 L246.0,476.1 L244.9,477.2 L243.7,478.2 L242.5,479.2 L241.4,480.1 L240.2,481.0 L239.1,482.0 L237.9,483.0 L236.8,484.1 L235.6,485.4 L234.4,486.8 L233.3,488.6 L232.2,490.9 L231.0,493.2 L229.9,495.1 L228.7,496.9 L227.6,498.7 L226.4,500.3 L225.3,501.9 L224.1,503.3 L224.1,496.4 L222.1,507.0 L219.9,497.8 L217.9,507.6 L215.7,495.7 L213.7,506.8 L211.7,495.8 L209.7,506.1 L207.6,496.6 L205.4,507.8 L203.2,496.9 L201.2,508.3 L199.1,498.2 L197.1,507.7 L194.8,495.5 L192.8,506.4 L190.8,497.8 L188.7,509.2 L186.5,497.0 L184.5,507.0 L182.2,496.6 L180.1,507.5 L178.1,496.7 L176.3,508.4 L174.1,497.4 L172.3,506.1 L170.3,497.0 L168.5,509.4 L166.4,498.2 L164.5,508.7 L162.5,497.4 L160.3,505.5 L158.3,497.4 L156.6,508.8 L154.4,499.9 L152.3,509.4 L150.1,497.5 L148.1,507.9 L145.8,496.7 L143.7,507.8 L141.6,498.1 L140.5,503.2 Z" fill="#cccccc" stroke="#333" stroke-width="0.5" stroke-linejoin="round" />
<path d="M132.6,511.7 L134.3,512.4 L136.5,511.6 L138.5,513.4 L140.0,505.0 L141.5,513.6 L143.6,508.2 L145.9,512.6 L148.4,509.7 L150.1,508.8 L151.7,507.7 L153.4,506.6 L155.1,505.2 L156.8,503.6 L158.4,501.7 L160.1,499.7 L161.8,497.6 L163.5,495.4 L165.1,493.2 L166.8,491.2 L168.5,489.3 L170.1,487.7 L171.8,486.3 L173.5,485.0 L175.2,483.8 L176.9,482.6 L178.6,481.4 L180.2,480.3 L181.9,479.3 L183.6,478.3 L185.3,477.4 L187.0,476.6 L188.7,475.8 L190.4,475.0 L192.0,474.4 L193.7,473.7 L195.4,473.1 L197.1,472.6 L198.8,472.1 L200.5,471.5 L202.2,471.1 L203.9,470.6 L205.6,470.2 L207.3,469.8 L209.0,469.4 L210.7,469.0 L212.4,468.6 L214.1,468.3 L215.8,467.9 L217.5,467.5 L219.2,467.2 L220.9,466.8 L222.6,466.5 L224.3,466.2 L226.0,466.0 L227.7,465.8 L229.4,465.7 L231.1,465.6 L232.8,465.5 L234.5,465.5 L236.2,465.4 L237.9,465.3 L239.6,465.3 L241.3,465.2 L243.0,465.2 L244.7,465.1 L246.4,465.1 L248.1,465.0 L249.8,465.0 L251.5,465.0 L253.3,465.0 L255.0,464.9 L256.7,464.9 L258.4,464.9 L260.1,464.9 L261.8,464.9 L263.5,464.9 L265.2,464.8 L265.2,465.2 L264.1,465.2 L262.9,465.3 L261.7,465.4 L260.6,465.6 L259.4,465.8 L258.2,466.0 L257.1,466.3 L255.9,466.8 L254.7,467.6 L253.6,468.8 L252.4,470.2 L251.3,471.7 L250.1,473.5 L248.9,475.3 L247.8,477.1 L246.6,478.9 L245.5,480.5 L244.3,482.1 L243.2,483.4 L242.0,484.6 L240.8,485.6 L239.7,486.6 L238.5,487.5 L237.4,488.5 L236.2,489.4 L235.1,490.4 L233.9,491.4 L232.7,492.6 L231.6,493.9 L230.4,495.4 L229.3,497.4 L228.1,499.7 L227.0,501.9 L225.8,503.8 L224.7,505.7 L223.5,507.4 L222.4,509.0 L221.2,510.6 L220.1,512.0 L220.0,505.0 L217.9,517.4 L215.5,505.9 L213.3,516.1 L210.9,504.8 L208.9,518.2 L206.5,505.0 L204.6,515.3 L202.5,504.9 L200.3,515.0 L198.0,506.5 L195.8,516.8 L193.8,506.0 L191.6,517.4 L189.4,506.2 L187.5,515.3 L185.3,506.2 L183.1,517.8 L180.8,503.9 L178.6,515.1 L176.5,506.2 L174.6,514.7 L172.5,504.3 L170.2,515.4 L168.0,506.6 L165.9,516.9 L163.6,505.2 L161.6,517.6 L159.5,505.2 L157.4,516.7 L155.2,505.2 L153.2,516.8 L151.1,508.2 L149.0,518.0 L146.7,504.5 L144.4,514.7 L142.1,506.0 L140.1,516.9 L137.9,504.9 L135.8,517.9 L133.7,506.4 L132.6,511.8 Z" fill="#9a9a9a" stroke="#333" stroke-width="0.5" stroke-linejoin="round" />
<path d="M124.1,511.8 L126.4,521.1 L127.8,515.3 L129.8,521.6 L131.3,512.6 L133.6,521.3 L135.7,517.2 L138.5,521.1 L140.3,511.6 L143.3,523.5 L145.6,514.4 L145.9,518.8 L147.6,516.7 L149.2,514.7 L150.9,512.7 L152.5,510.7 L154.1,508.9 L155.8,507.2 L157.4,505.6 L159.1,504.0 L160.7,502.5 L162.4,501.0 L164.0,499.5 L165.7,498.1 L167.4,496.7 L169.0,495.4 L170.7,494.1 L172.3,492.9 L174.0,491.8 L175.6,490.7 L177.3,489.6 L178.9,488.7 L180.6,487.7 L182.3,486.8 L183.9,485.8 L185.6,484.9 L187.2,484.1 L188.9,483.3 L190.6,482.5 L192.2,481.8 L193.9,481.1 L195.6,480.5 L197.2,479.9 L198.9,479.4 L200.6,479.0 L202.2,478.5 L203.9,478.0 L205.6,477.6 L207.3,477.2 L208.9,476.8 L210.6,476.3 L212.3,476.0 L213.9,475.6 L215.6,475.3 L217.3,474.9 L219.0,474.6 L220.6,474.4 L222.3,474.1 L224.0,473.9 L225.7,473.7 L227.3,473.6 L229.0,473.4 L230.7,473.4 L232.4,473.3 L234.1,473.2 L235.7,473.2 L237.4,473.1 L239.1,473.0 L240.8,473.0 L242.5,472.9 L244.2,472.9 L245.8,472.8 L247.5,472.8 L249.2,472.7 L250.9,472.7 L252.6,472.7 L254.3,472.7 L255.9,472.6 L257.6,472.6 L259.3,472.6 L261.0,472.6 L261.0,473.0 L259.8,473.0 L258.7,473.1 L257.5,473.3 L256.3,473.5 L255.2,473.8 L254.0,474.1 L252.8,474.6 L251.7,475.4 L250.5,476.6 L249.3,477.9 L248.2,479.5 L247.0,481.2 L245.9,483.0 L244.7,484.8 L243.5,486.6 L242.4,488.3 L241.2,489.9 L240.1,491.3 L238.9,492.5 L237.7,493.6 L236.6,494.6 L235.4,495.5 L234.3,496.5 L233.1,497.4 L231.9,498.3 L230.8,499.4 L229.6,500.5 L228.5,501.7 L227.3,503.0 L226.2,504.6 L225.0,506.7 L223.9,509.1 L222.7,511.2 L221.6,513.1 L220.4,514.9 L219.2,516.7 L218.1,518.3 L216.9,519.9 L215.8,521.3 L215.7,515.6 L213.6,525.9 L211.1,515.3 L209.0,525.2 L206.7,513.1 L204.6,525.0 L202.4,513.6 L200.4,526.0 L198.3,513.0 L196.0,526.3 L193.9,514.3 L191.7,526.8 L189.5,514.6 L187.3,523.7 L185.1,513.4 L183.2,526.2 L180.7,515.6 L178.5,525.2 L176.2,513.7 L174.1,524.8 L171.8,514.3 L169.7,525.1 L167.4,515.2 L165.5,526.2 L163.4,514.3 L161.3,525.2 L159.0,515.4 L156.8,526.4 L154.5,513.6 L152.6,526.6 L150.3,513.3 L148.1,525.0 L146.0,518.7 L143.9,525.4 L141.7,514.0 L139.6,525.0 L137.5,512.8 L135.3,526.2 L132.9,513.4 L131.0,523.6 L128.5,514.1 L126.3,523.3 L124.2,521.0 Z" fill="#555555" stroke="#333" stroke-width="0.5" stroke-linejoin="round" />
<path d="M116.1,521.8 L118.9,531.3 L120.8,530.0 L122.8,531.6 L124.2,530.1 L127.4,530.9 L129.1,525.9 L132.2,530.2 L135.0,526.4 L137.3,530.9 L138.7,524.6 L140.6,530.2 L142.0,523.3 L145.0,532.3 L146.9,527.6 L148.5,525.8 L150.1,524.1 L151.6,522.4 L153.2,520.7 L154.8,519.1 L156.4,517.5 L158.0,516.0 L159.5,514.4 L161.1,513.0 L162.7,511.6 L164.3,510.2 L165.8,508.8 L167.4,507.5 L169.0,506.1 L170.6,504.8 L172.2,503.5 L173.8,502.2 L175.3,501.0 L176.9,499.8 L178.5,498.7 L180.1,497.6 L181.7,496.6 L183.3,495.7 L184.9,494.9 L186.5,494.1 L188.0,493.3 L189.6,492.5 L191.2,491.7 L192.8,491.0 L194.4,490.3 L196.0,489.7 L197.6,489.2 L199.2,488.7 L200.8,488.3 L202.4,487.9 L204.0,487.7 L205.6,487.5 L207.2,487.3 L208.8,487.1 L210.4,486.9 L212.0,486.8 L213.6,486.7 L215.2,486.5 L216.8,486.4 L218.4,486.4 L220.0,486.3 L221.6,486.2 L223.2,486.2 L224.8,486.1 L226.4,486.1 L228.0,486.0 L229.6,486.0 L231.2,485.9 L232.8,485.9 L234.5,485.8 L236.1,485.8 L237.7,485.8 L239.3,485.7 L240.9,485.7 L242.5,485.7 L244.1,485.6 L245.7,485.6 L247.3,485.6 L248.9,485.6 L250.6,485.6 L252.2,485.6 L253.8,485.6 L255.4,485.5 L257.0,485.5 L257.0,485.9 L255.8,486.0 L254.6,486.1 L253.4,486.3 L252.2,486.5 L251.0,486.7 L249.8,487.0 L248.6,487.4 L247.4,488.0 L246.2,488.8 L245.0,489.8 L243.8,490.8 L242.6,492.0 L241.4,493.2 L240.2,494.4 L239.0,495.7 L237.8,497.0 L236.6,498.2 L235.4,499.3 L234.2,500.4 L233.0,501.4 L231.8,502.3 L230.6,503.3 L229.4,504.3 L228.2,505.3 L227.0,506.3 L225.8,507.4 L224.6,508.6 L223.5,509.9 L222.3,511.3 L221.1,513.0 L219.9,515.1 L218.7,517.6 L217.5,519.8 L216.3,521.7 L215.2,523.6 L214.0,525.4 L212.8,527.1 L211.6,528.7 L210.4,530.1 L210.4,524.6 L208.1,537.2 L205.8,523.6 L203.4,535.7 L201.0,522.1 L198.9,535.6 L196.6,523.9 L194.6,532.7 L192.1,521.6 L190.0,532.7 L187.8,522.5 L185.5,534.9 L183.1,522.4 L180.9,535.3 L178.7,522.1 L176.5,533.7 L174.0,522.3 L171.7,536.3 L169.2,522.8 L167.0,532.5 L164.8,523.2 L162.5,532.6 L160.3,523.9 L158.0,536.2 L155.8,521.9 L153.8,534.5 L151.5,524.1 L149.2,535.6 L147.1,527.4 L144.9,532.6 L142.6,522.4 L140.3,535.3 L138.0,522.1 L135.9,533.6 L133.8,523.9 L131.7,535.9 L129.5,521.6 L127.4,535.1 L125.0,521.4 L122.9,533.5 L120.5,521.6 L118.3,533.4 L116.1,529.8 Z" fill="#000000" stroke="#000" stroke-width="0.5" stroke-linejoin="round" />
<path d="M96.5,550.6 L98.1,552.6 L99.1,550.4 L101.3,554.4 L102.4,541.1 L104.3,553.4 L105.9,544.4 L107.3,554.2 L109.3,544.4 L109.9,553.8 L111.9,551.3 L113.8,549.5 L115.8,547.9 L117.8,546.5 L119.7,545.4 L121.7,544.4 L123.7,543.6 L125.6,542.8 L127.6,542.2 L129.6,541.5 L131.6,540.9 L133.5,540.3 L135.5,539.7 L137.5,539.2 L139.5,538.6 L141.4,538.1 L143.4,537.7 L145.4,537.2 L147.4,536.8 L149.4,536.4 L151.3,536.0 L153.3,535.7 L155.3,535.3 L157.3,535.0 L159.3,534.7 L161.3,534.4 L163.2,534.1 L165.2,533.9 L167.2,533.6 L169.2,533.4 L171.2,533.1 L173.2,532.9 L175.2,532.7 L177.2,532.5 L179.2,532.4 L181.1,532.2 L183.1,532.0 L185.1,531.9 L187.1,531.7 L189.1,531.6 L191.1,531.4 L193.1,531.3 L195.1,531.2 L197.1,531.1 L199.1,530.9 L201.1,530.8 L203.1,530.7 L205.1,530.5 L207.1,530.4 L209.1,530.3 L211.1,530.1 L213.1,530.0 L215.1,529.8 L217.1,529.7 L219.1,529.6 L221.1,529.4 L223.1,529.3 L225.1,529.2 L227.2,529.0 L229.2,528.9 L231.2,528.7 L233.2,528.6 L235.2,528.5 L237.2,528.3 L239.2,528.2 L241.2,528.1 L243.2,528.0 L245.2,527.8 L247.3,527.7 L247.3,528.0 L245.8,528.2 L244.3,528.5 L242.8,528.7 L241.3,529.0 L239.8,529.3 L238.4,529.5 L236.9,529.8 L235.4,530.1 L233.9,530.4 L232.4,530.7 L230.9,531.0 L229.4,531.2 L228.0,531.5 L226.5,531.8 L225.0,532.1 L223.5,532.4 L222.0,532.8 L220.6,533.1 L219.1,533.5 L217.6,533.9 L216.1,534.3 L214.6,534.7 L213.2,535.1 L211.7,535.6 L210.2,536.1 L208.7,536.7 L207.3,537.3 L205.8,538.0 L204.3,538.9 L202.8,539.9 L201.4,540.9 L199.9,542.0 L198.4,543.1 L197.0,544.3 L195.5,545.5 L194.0,546.9 L192.6,548.4 L191.1,550.0 L189.6,551.8 L189.6,549.9 L187.9,565.4 L186.1,549.1 L184.5,568.1 L182.5,551.3 L180.9,556.6 L179.3,550.6 L177.8,567.3 L176.1,550.2 L174.5,560.5 L172.8,551.4 L171.3,565.5 L169.5,551.5 L167.9,561.0 L166.3,550.7 L164.7,568.8 L162.9,548.5 L161.4,561.7 L159.8,550.8 L158.2,562.8 L156.3,551.1 L154.7,556.7 L152.9,549.0 L151.4,555.6 L149.5,550.7 L148.0,557.1 L146.2,549.9 L144.7,554.3 L143.2,549.7 L141.6,555.7 L139.9,550.5 L138.3,552.8 L136.8,548.3 L135.0,553.8 L133.3,551.0 L131.7,557.1 L129.9,548.9 L128.3,553.3 L126.8,549.8 L125.2,554.2 L123.6,550.2 L122.0,555.8 L120.3,549.2 L118.7,555.9 L117.1,549.6 L115.7,556.4 L113.9,549.4 L112.2,555.7 L110.6,552.7 L109.1,552.8 L107.3,548.7 L105.7,554.3 L104.0,549.0 L102.3,554.6 L100.8,550.1 L99.3,554.0 L97.7,550.8 L96.5,551.3 Z" fill="#ffffff" stroke="#333" stroke-width="0.5" stroke-linejoin="round" />
<path d="M85.5,561.0 L87.9,566.0 L89.1,559.8 L90.5,564.3 L91.6,553.3 L93.8,566.7 L95.6,562.8 L97.0,565.3 L98.5,558.5 L100.9,565.8 L102.1,556.1 L102.6,563.3 L104.5,559.5 L106.5,557.7 L108.5,556.4 L110.5,555.4 L112.5,554.6 L114.5,553.8 L116.5,553.1 L118.5,552.4 L120.5,551.8 L122.5,551.2 L124.5,550.6 L126.5,550.0 L128.5,549.4 L130.5,548.8 L132.5,548.2 L134.5,547.6 L136.5,547.0 L138.5,546.4 L140.5,545.8 L142.5,545.2 L144.5,544.7 L146.5,544.1 L148.5,543.5 L150.5,543.0 L152.6,542.5 L154.6,542.0 L156.6,541.6 L158.6,541.1 L160.6,540.7 L162.6,540.4 L164.6,540.1 L166.6,539.8 L168.7,539.6 L170.7,539.4 L172.7,539.2 L174.7,539.0 L176.7,538.9 L178.8,538.7 L180.8,538.6 L182.8,538.4 L184.8,538.2 L186.8,538.1 L188.9,538.0 L190.9,537.8 L192.9,537.7 L194.9,537.5 L197.0,537.4 L199.0,537.3 L201.0,537.2 L203.1,537.1 L205.1,537.0 L207.1,536.9 L209.1,536.8 L211.2,536.7 L213.2,536.6 L215.2,536.5 L217.3,536.4 L219.3,536.4 L221.3,536.3 L223.4,536.2 L225.4,536.2 L227.5,536.1 L229.5,536.1 L231.5,536.1 L233.6,536.0 L235.6,536.0 L237.7,536.0 L239.7,536.0 L241.7,536.0 L241.7,536.3 L240.2,536.5 L238.7,536.7 L237.2,536.9 L235.7,537.1 L234.2,537.3 L232.7,537.5 L231.2,537.7 L229.7,538.0 L228.2,538.2 L226.8,538.4 L225.3,538.6 L223.8,538.9 L222.3,539.1 L220.8,539.3 L219.3,539.6 L217.8,539.9 L216.3,540.1 L214.8,540.5 L213.3,540.8 L211.8,541.1 L210.3,541.5 L208.8,541.8 L207.3,542.3 L205.8,542.7 L204.3,543.3 L202.9,543.8 L201.4,544.5 L199.9,545.4 L198.4,546.5 L196.9,547.7 L195.4,549.1 L194.0,550.6 L192.5,552.5 L191.0,554.7 L189.5,557.0 L188.1,558.9 L186.6,560.7 L185.1,562.3 L183.6,563.8 L183.6,560.8 L182.1,572.5 L180.4,561.5 L178.7,574.0 L176.7,561.7 L175.1,573.8 L173.2,561.3 L171.5,566.9 L169.8,560.5 L168.2,571.4 L166.3,562.2 L164.6,580.5 L162.7,562.3 L160.9,565.2 L159.0,563.4 L157.5,574.9 L155.6,560.6 L153.9,578.1 L151.9,561.8 L150.4,572.1 L148.5,561.7 L146.8,568.1 L145.1,563.3 L143.3,564.9 L141.5,561.2 L139.8,567.1 L138.2,562.9 L136.6,564.7 L135.0,563.5 L133.5,564.8 L131.7,560.6 L130.1,565.1 L128.5,560.7 L126.9,568.7 L125.2,560.7 L123.6,564.3 L121.9,561.9 L120.1,567.2 L118.3,561.5 L116.6,569.2 L114.9,561.0 L113.2,567.6 L111.6,560.4 L110.1,566.0 L108.5,562.7 L106.8,567.5 L105.1,559.9 L103.4,566.9 L101.6,562.0 L100.1,568.4 L98.5,562.4 L96.7,564.4 L94.8,559.8 L93.3,565.3 L91.7,560.0 L90.0,567.0 L88.2,563.1 L86.3,565.7 L85.5,563.2 Z" fill="#cccccc" stroke="#333" stroke-width="0.5" stroke-linejoin="round" />
<path d="M73.7,566.1 L76.1,576.7 L77.5,576.0 L79.9,577.4 L80.9,565.5 L83.4,578.6 L85.6,575.9 L87.3,576.8 L88.9,570.5 L90.1,576.8 L91.9,573.9 L93.8,574.4 L95.8,568.4 L97.9,565.7 L99.9,563.6 L101.9,562.0 L103.9,560.8 L106.0,559.8 L108.0,559.1 L110.0,558.4 L112.1,557.8 L114.1,557.3 L116.2,556.9 L118.2,556.5 L120.3,556.1 L122.3,555.7 L124.3,555.4 L126.4,555.0 L128.4,554.7 L130.5,554.3 L132.5,553.9 L134.6,553.6 L136.6,553.2 L138.7,552.9 L140.7,552.5 L142.8,552.2 L144.8,551.9 L146.9,551.5 L148.9,551.2 L151.0,550.9 L153.0,550.7 L155.1,550.4 L157.1,550.1 L159.2,549.9 L161.3,549.7 L163.3,549.4 L165.4,549.2 L167.4,549.1 L169.5,548.9 L171.6,548.8 L173.6,548.6 L175.7,548.5 L177.7,548.3 L179.8,548.2 L181.9,548.1 L183.9,547.9 L186.0,547.8 L188.1,547.7 L190.1,547.6 L192.2,547.4 L194.3,547.3 L196.3,547.2 L198.4,547.1 L200.5,547.0 L202.6,546.9 L204.6,546.8 L206.7,546.7 L208.8,546.6 L210.8,546.5 L212.9,546.4 L215.0,546.4 L217.1,546.3 L219.2,546.2 L221.2,546.2 L223.3,546.2 L225.4,546.1 L227.5,546.1 L229.5,546.1 L231.6,546.1 L233.7,546.1 L235.8,546.1 L235.8,546.3 L234.3,546.6 L232.8,546.8 L231.3,547.1 L229.7,547.3 L228.2,547.6 L226.7,547.8 L225.2,548.0 L223.7,548.3 L222.2,548.5 L220.7,548.7 L219.2,549.0 L217.6,549.2 L216.1,549.4 L214.6,549.7 L213.1,549.9 L211.6,550.2 L210.1,550.5 L208.6,550.8 L207.1,551.2 L205.6,551.5 L204.1,551.8 L202.6,552.2 L201.1,552.7 L199.6,553.2 L198.0,553.8 L196.5,554.4 L195.0,555.3 L193.5,556.6 L192.1,558.2 L190.6,559.9 L189.1,561.7 L187.6,563.5 L186.1,565.6 L184.6,567.8 L183.1,569.9 L181.6,571.9 L180.1,573.6 L178.6,575.3 L177.1,576.8 L177.1,574.8 L175.4,589.8 L173.6,574.8 L171.9,597.6 L170.0,573.3 L168.3,591.5 L166.3,574.0 L164.6,578.0 L162.8,574.8 L161.1,592.0 L159.2,573.2 L157.6,577.9 L155.9,576.0 L154.3,591.6 L152.5,573.6 L150.8,593.1 L148.7,574.7 L147.0,586.9 L145.0,574.1 L143.3,591.2 L141.4,573.8 L139.8,592.3 L137.7,574.6 L136.0,578.9 L134.1,575.3 L132.5,580.8 L130.5,575.8 L128.8,581.3 L127.0,574.8 L125.2,579.5 L123.2,573.7 L121.6,582.3 L119.7,573.6 L118.0,579.9 L116.2,576.2 L114.6,577.6 L112.8,573.1 L111.3,582.4 L109.4,575.9 L107.6,579.0 L105.9,574.7 L104.0,577.1 L102.4,574.0 L100.5,580.2 L98.7,575.5 L96.9,579.1 L95.1,573.2 L93.6,582.4 L91.8,574.9 L90.0,578.4 L88.1,574.2 L86.2,579.1 L84.3,572.9 L82.7,581.7 L80.8,573.4 L79.0,577.0 L77.1,573.7 L75.4,581.0 L73.8,576.0 Z" fill="#9a9a9a" stroke="#333" stroke-width="0.5" stroke-linejoin="round" />
<path d="M61.1,579.9 L62.8,590.9 L65.1,582.4 L67.0,590.7 L69.1,584.7 L71.1,590.8 L72.3,582.4 L74.5,592.2 L76.3,587.9 L78.4,590.1 L79.9,584.9 L82.3,591.7 L83.6,588.1 L85.7,583.7 L87.7,580.1 L89.8,576.8 L91.9,574.1 L94.0,572.2 L96.1,570.6 L98.1,569.2 L100.2,568.0 L102.3,567.0 L104.4,566.1 L106.5,565.3 L108.6,564.7 L110.7,564.2 L112.8,563.6 L114.9,563.2 L117.0,562.8 L119.1,562.4 L121.2,562.1 L123.3,561.8 L125.4,561.5 L127.5,561.3 L129.6,561.1 L131.7,560.9 L133.8,560.7 L135.9,560.6 L138.0,560.4 L140.1,560.2 L142.3,560.1 L144.4,559.9 L146.5,559.8 L148.6,559.7 L150.7,559.5 L152.8,559.4 L154.9,559.3 L157.0,559.2 L159.2,559.1 L161.3,559.0 L163.4,558.9 L165.5,558.8 L167.6,558.6 L169.7,558.5 L171.9,558.4 L174.0,558.3 L176.1,558.2 L178.2,558.1 L180.4,558.0 L182.5,557.8 L184.6,557.7 L186.7,557.6 L188.9,557.5 L191.0,557.4 L193.1,557.3 L195.2,557.2 L197.4,557.1 L199.5,557.0 L201.6,556.9 L203.8,556.8 L205.9,556.7 L208.0,556.6 L210.1,556.6 L212.3,556.5 L214.4,556.4 L216.5,556.3 L218.7,556.2 L220.8,556.2 L223.0,556.1 L225.1,556.0 L227.2,555.9 L229.4,555.9 L229.4,556.1 L227.8,556.5 L226.3,556.9 L224.8,557.2 L223.3,557.5 L221.7,557.9 L220.2,558.2 L218.7,558.4 L217.2,558.7 L215.6,558.9 L214.1,559.2 L212.6,559.4 L211.0,559.6 L209.5,559.9 L208.0,560.2 L206.5,560.5 L204.9,560.8 L203.4,561.2 L201.9,561.6 L200.4,562.0 L198.9,562.5 L197.3,563.1 L195.8,563.7 L194.3,564.4 L192.8,565.1 L191.3,566.0 L189.7,566.9 L188.2,568.2 L186.7,569.8 L185.2,571.6 L183.7,573.6 L182.2,575.5 L180.7,577.4 L179.2,579.6 L177.7,581.8 L176.2,583.9 L174.7,585.8 L173.2,587.6 L171.7,589.2 L170.2,590.8 L170.2,590.7 L168.6,612.8 L166.4,587.9 L164.6,610.7 L162.5,590.0 L160.9,609.0 L158.8,586.9 L157.0,609.7 L154.9,589.8 L153.0,604.4 L150.8,587.3 L149.3,610.8 L147.1,590.0 L145.2,606.2 L143.2,589.7 L141.5,602.2 L139.5,589.0 L138.0,607.7 L136.1,588.6 L134.6,610.6 L132.7,588.1 L131.2,610.0 L129.1,586.8 L127.3,596.5 L125.3,587.8 L123.3,594.4 L121.4,589.2 L119.5,596.8 L117.4,590.0 L115.8,593.9 L113.9,589.4 L112.0,593.5 L110.3,589.7 L108.5,594.7 L106.5,589.0 L104.6,591.9 L102.8,588.3 L101.1,594.8 L99.1,588.8 L97.1,592.0 L95.2,588.6 L93.6,592.2 L91.7,586.4 L90.0,596.6 L88.2,587.2 L86.4,592.2 L84.5,588.3 L82.8,593.0 L81.1,588.8 L79.2,596.4 L77.4,589.5 L75.4,592.1 L73.5,587.0 L71.8,591.5 L70.1,587.5 L68.2,592.7 L66.5,588.5 L64.7,592.0 L62.9,586.4 L61.1,589.8 Z" fill="#555555" stroke="#333" stroke-width="0.5" stroke-linejoin="round" />
<path d="M48.8,594.8 L51.3,605.8 L52.4,596.5 L53.8,604.3 L55.4,598.1 L58.1,604.1 L60.5,596.8 L63.1,607.1 L65.5,599.1 L67.1,605.2 L68.7,601.5 L70.9,597.3 L73.1,594.3 L75.3,591.8 L77.5,589.5 L79.7,587.3 L81.9,584.8 L84.1,582.5 L86.3,580.7 L88.5,579.3 L90.7,578.2 L92.9,577.2 L95.2,576.3 L97.4,575.5 L99.6,574.9 L101.8,574.4 L104.0,574.0 L106.3,573.7 L108.5,573.4 L110.7,573.1 L112.9,572.8 L115.2,572.6 L117.4,572.4 L119.6,572.1 L121.9,571.9 L124.1,571.7 L126.3,571.5 L128.6,571.3 L130.8,571.1 L133.0,570.9 L135.3,570.7 L137.5,570.5 L139.8,570.3 L142.0,570.1 L144.2,569.9 L146.5,569.7 L148.7,569.5 L151.0,569.4 L153.2,569.2 L155.4,569.0 L157.7,568.8 L159.9,568.7 L162.2,568.5 L164.4,568.3 L166.7,568.2 L168.9,568.1 L171.2,568.0 L173.4,567.8 L175.7,567.7 L177.9,567.6 L180.2,567.5 L182.4,567.4 L184.7,567.3 L186.9,567.2 L189.2,567.0 L191.5,566.9 L193.7,566.8 L196.0,566.8 L198.2,566.7 L200.5,566.6 L202.8,566.5 L205.0,566.4 L207.3,566.3 L209.5,566.3 L211.8,566.2 L214.1,566.1 L216.3,566.1 L218.6,566.0 L220.9,566.0 L223.2,565.9 L223.2,566.2 L221.6,566.7 L220.1,567.1 L218.5,567.5 L217.0,567.8 L215.5,568.2 L213.9,568.5 L212.4,568.7 L210.8,568.9 L209.3,569.1 L207.8,569.3 L206.2,569.6 L204.7,569.8 L203.2,570.0 L201.6,570.3 L200.1,570.6 L198.6,571.0 L197.0,571.5 L195.5,572.1 L194.0,572.8 L192.4,573.7 L190.9,574.6 L189.4,575.6 L187.8,576.6 L186.3,577.8 L184.8,578.9 L183.3,580.2 L181.7,581.7 L180.2,583.4 L178.7,585.2 L177.2,587.1 L175.7,588.9 L174.2,591.0 L172.6,593.1 L171.1,595.4 L169.6,597.5 L168.1,599.4 L166.6,601.1 L165.1,602.8 L163.5,604.3 L163.5,600.8 L161.7,615.5 L159.6,601.2 L158.0,623.8 L156.0,603.5 L154.4,621.1 L152.5,602.9 L150.8,612.4 L148.7,602.9 L146.7,613.3 L144.6,600.3 L142.9,621.5 L140.7,602.3 L138.7,621.0 L136.8,602.9 L135.0,614.0 L133.0,602.2 L131.1,609.6 L129.0,600.8 L127.1,622.9 L125.1,601.3 L123.2,618.2 L121.1,603.8 L119.3,614.9 L117.3,602.8 L115.4,607.1 L113.4,603.8 L111.4,605.5 L109.5,600.0 L107.7,606.0 L105.7,600.7 L103.8,605.1 L101.8,603.0 L100.0,608.3 L97.9,601.0 L96.1,607.1 L94.3,602.0 L92.3,607.4 L90.4,601.5 L88.6,605.5 L86.6,601.5 L84.8,605.0 L82.7,602.3 L80.8,607.1 L79.0,601.4 L77.1,607.0 L75.0,602.2 L73.2,604.6 L71.3,601.4 L69.5,607.1 L67.4,602.0 L65.5,606.6 L63.6,599.6 L61.7,605.4 L59.6,602.7 L57.7,606.4 L55.6,599.9 L53.7,606.1 L51.8,599.6 L49.8,609.9 L48.9,603.2 Z" fill="#000000" stroke="#000" stroke-width="0.5" stroke-linejoin="round" />
<path d="M45.4,628.5 L44.9,540.9 M45.4,628.5 L221.8,630.6 M221.8,630.6 L276.6,503.1 M45.4,628.5 V631.5 M62.9,628.7 V631.7 M80.3,628.9 V631.9 M97.8,629.2 V632.2 M115.4,629.4 V632.4 M133.0,629.6 V632.6 M150.7,629.8 V632.8 M168.4,630.0 V633.0 M186.1,630.2 V633.2 M204.0,630.4 V633.4 M221.8,630.6 V633.6 M54.1,628.6 V630.4 M71.6,628.8 V630.6 M89.1,629.0 V630.8 M106.6,629.3 V631.1 M124.2,629.5 V631.3 M141.8,629.7 V631.5 M159.5,629.9 V631.7 M177.3,630.1 V631.9 M195.0,630.3 V632.1 M212.9,630.5 V632.3 M225.7,621.5 H228.7 M232.4,605.9 H235.4 M238.6,591.5 H241.6 M244.4,578.2 H247.4 M249.7,565.8 H252.7 M254.7,554.2 H257.7 M259.3,543.4 H262.3 M263.7,533.2 H266.7 M267.8,523.7 H270.8 M271.6,514.8 H274.6 M275.2,506.3 H278.2 M229.1,613.6 H230.9 M235.6,598.6 H237.4 M241.5,584.7 H243.3 M247.1,571.9 H248.9 M252.2,559.9 H254.0 M257.0,548.7 H258.8 M261.5,538.2 H263.3 M265.8,528.4 H267.6 M269.7,519.2 H271.5 M273.4,510.5 H275.2 M45.4,628.5 H42.4 M45.4,618.8 H43.6 M45.3,609.1 H43.5 M45.3,599.3 H42.3 M45.2,589.6 H43.4 M45.1,579.9 H43.3 M45.1,570.1 H42.1 M45.0,560.4 H43.2 M44.9,550.7 H43.1 M44.9,540.9 H41.9 M45.4,623.7 H44.2 M45.3,613.9 H44.1 M45.3,604.2 H44.1 M45.2,594.5 H44.0 M45.2,584.7 H44.0 M45.1,575.0 H43.9 M45.0,565.3 H43.8 M45.0,555.5 H43.8 M44.9,545.8 H43.7" stroke="#222" stroke-width="1" fill="none"/>
<text x="45.4" y="644.2" font-size="11" text-anchor="middle" font-weight="normal" fill="#111" stroke="#111" stroke-width="0.25" letter-spacing="-0.4">-50</text>
<text x="62.9" y="644.4" font-size="11" text-anchor="middle" font-weight="normal" fill="#111" stroke="#111" stroke-width="0.25" letter-spacing="-0.4">-40</text>
<text x="80.3" y="644.6" font-size="11" text-anchor="middle" font-weight="normal" fill="#111" stroke="#111" stroke-width="0.25" letter-spacing="-0.4">-30</text>
<text x="97.8" y="644.9" font-size="11" text-anchor="middle" font-weight="normal" fill="#111" stroke="#111" stroke-width="0.25" letter-spacing="-0.4">-20</text>
<text x="115.4" y="645.1" font-size="11" text-anchor="middle" font-weight="normal" fill="#111" stroke="#111" stroke-width="0.25" letter-spacing="-0.4">-10</text>
<text x="133.0" y="645.3" font-size="11" text-anchor="middle" font-weight="normal" fill="#111" stroke="#111" stroke-width="0.25" letter-spacing="-0.4">0</text>
<text x="150.7" y="645.5" font-size="11" text-anchor="middle" font-weight="normal" fill="#111" stroke="#111" stroke-width="0.25" letter-spacing="-0.4">10</text>
<text x="168.4" y="645.7" font-size="11" text-anchor="middle" font-weight="normal" fill="#111" stroke="#111" stroke-width="0.25" letter-spacing="-0.4">20</text>
<text x="186.1" y="645.9" font-size="11" text-anchor="middle" font-weight="normal" fill="#111" stroke="#111" stroke-width="0.25" letter-spacing="-0.4">30</text>
<text x="204.0" y="646.1" font-size="11" text-anchor="middle" font-weight="normal" fill="#111" stroke="#111" stroke-width="0.25" letter-spacing="-0.4">40</text>
<text x="221.8" y="646.3" font-size="11" text-anchor="middle" font-weight="normal" fill="#111" stroke="#111" stroke-width="0.25" letter-spacing="-0.4">50</text>
<text x="229.7" y="625.5" font-size="10" text-anchor="start" font-weight="normal" fill="#111" stroke="#111" stroke-width="0.25" >-5</text>
<text x="236.4" y="609.9" font-size="10" text-anchor="start" font-weight="normal" fill="#111" stroke="#111" stroke-width="0.25" >-4</text>
<text x="242.6" y="595.5" font-size="10" text-anchor="start" font-weight="normal" fill="#111" stroke="#111" stroke-width="0.25" >-3</text>
<text x="248.4" y="582.2" font-size="10" text-anchor="start" font-weight="normal" fill="#111" stroke="#111" stroke-width="0.25" >-2</text>
<text x="253.7" y="569.8" font-size="10" text-anchor="start" font-weight="normal" fill="#111" stroke="#111" stroke-width="0.25" >-1</text>
<text x="258.7" y="558.2" font-size="10" text-anchor="start" font-weight="normal" fill="#111" stroke="#111" stroke-width="0.25" >0</text>
<text x="263.3" y="547.4" font-size="10" text-anchor="start" font-weight="normal" fill="#111" stroke="#111" stroke-width="0.25" >1</text>
<text x="267.7" y="537.2" font-size="10" text-anchor="start" font-weight="normal" fill="#111" stroke="#111" stroke-width="0.25" >2</text>
<text x="271.8" y="527.7" font-size="10" text-anchor="start" font-weight="normal" fill="#111" stroke="#111" stroke-width="0.25" >3</text>
<text x="275.6" y="518.8" font-size="10" text-anchor="start" font-weight="normal" fill="#111" stroke="#111" stroke-width="0.25" >4</text>
<text x="279.2" y="510.3" font-size="10" text-anchor="start" font-weight="normal" fill="#111" stroke="#111" stroke-width="0.25" >5</text>
<text x="40.9" y="544.9" font-size="11" text-anchor="end" font-weight="normal" fill="#111" stroke="#111" stroke-width="0.25" >10<tspan font-size="7" dy="-5">-5</tspan></text>
<text x="41.1" y="574.1" font-size="11" text-anchor="end" font-weight="normal" fill="#111" stroke="#111" stroke-width="0.25" >10<tspan font-size="7" dy="-5">-8</tspan></text>
<text x="41.3" y="603.3" font-size="11" text-anchor="end" font-weight="normal" fill="#111" stroke="#111" stroke-width="0.25" >10<tspan font-size="7" dy="-5">-11</tspan></text>
<text x="41.4" y="632.5" font-size="11" text-anchor="end" font-weight="normal" fill="#111" stroke="#111" stroke-width="0.25" >10<tspan font-size="7" dy="-5">-14</tspan></text>
<text x="62.0" y="460.5" font-size="20" text-anchor="start" font-weight="normal" fill="#111" stroke="#111" stroke-width="0.25" >(e)</text>
<text x="175.3" y="611.9" font-size="11.5" text-anchor="start" font-weight="normal" fill="#111" stroke="#111" stroke-width="0.25" >Ambient</text>
<text x="175.3" y="625.3" font-size="11.5" text-anchor="start" font-weight="normal" fill="#111" stroke="#111" stroke-width="0.25" >pressure</text>
<text x="18.5" y="596" font-size="12.5" transform="rotate(-90 18.5 596)" fill="#111" stroke="#111" stroke-width="0.25">|I<tspan font-size="8.5" dy="3">d</tspan><tspan dy="-3">| (A)</tspan></text>
<text x="106" y="655" font-size="13.5" fill="#111" stroke="#111" stroke-width="0.25">V<tspan font-size="8.5" dy="4">gs</tspan><tspan dy="-4"> (V)</tspan></text>
<text x="269" y="590" font-size="13.5" transform="rotate(-73 269 590)" fill="#111" stroke="#111" stroke-width="0.25">V<tspan font-size="9" dy="4">ds</tspan><tspan dy="-4"> (V)</tspan></text>
<path d="M332.7,633.2 L509.1,635.3 L563.9,507.8 L441.7,507.6 Z" fill="#fdf2eb" stroke="none" stroke-width="0.6" stroke-linejoin="round" />
<path d="M332.7,633.2 L332.2,545.6 L441.3,447.2 L441.7,507.6 Z" fill="#fdf2eb" stroke="none" stroke-width="0.6" stroke-linejoin="round" />
<path d="M441.7,507.6 L441.3,447.2 L563.4,446.8 L563.9,507.8 Z" fill="#fdf2eb" stroke="none" stroke-width="0.6" stroke-linejoin="round" />
<path d="M350.2,633.4 L453.8,507.6 M453.8,507.6 L453.4,447.2 M367.6,633.6 L466.0,507.6 M466.0,507.6 L465.5,447.1 M385.1,633.9 L478.1,507.7 M478.1,507.7 L477.7,447.1 M402.7,634.1 L490.3,507.7 M490.3,507.7 L489.8,447.0 M420.3,634.3 L502.5,507.7 M502.5,507.7 L502.1,447.0 M438.0,634.5 L514.8,507.7 M514.8,507.7 L514.3,447.0 M455.7,634.7 L527.0,507.7 M527.0,507.7 L526.5,446.9 M473.4,634.9 L539.3,507.8 M539.3,507.8 L538.8,446.9 M491.3,635.1 L551.6,507.8 M551.6,507.8 L551.1,446.9 M340.5,624.3 L513.0,626.2 M353.8,609.0 L519.7,610.6 M366.0,594.8 L525.9,596.2 M377.4,581.7 L531.7,582.9 M388.0,569.5 L537.0,570.5 M397.9,558.1 L542.0,558.9 M407.2,547.4 L546.6,548.1 M415.9,537.4 L551.0,537.9 M424.0,528.0 L555.1,528.4 M431.7,519.1 L558.9,519.5 M438.9,510.8 L562.5,511.0 M441.6,497.5 L563.8,497.6 M441.6,487.5 L563.8,487.5 M441.5,477.4 L563.7,477.3 M441.4,467.3 L563.6,467.1 M441.3,457.3 L563.5,457.0 M332.7,625.9 L441.7,502.6 M332.6,618.6 L441.6,497.5 M332.6,611.3 L441.6,492.5 M332.6,604.0 L441.6,487.5 M332.5,596.7 L441.5,482.4 M332.5,589.4 L441.5,477.4 M332.4,582.1 L441.4,472.4 M332.4,574.8 L441.4,467.3 M332.3,567.5 L441.4,462.3 M332.3,560.2 L441.3,457.3 M332.2,552.9 L441.3,452.2" stroke="#eee4dc" stroke-width="0.6" fill="none"/>
<path d="M332.2,545.6 L441.3,447.2 M441.3,447.2 L563.4,446.8 M563.4,446.8 L563.9,507.8 M441.3,447.2 L441.7,507.6 M332.7,633.2 L441.7,507.6 M441.7,507.6 L563.9,507.8" stroke="#9a9a9a" stroke-width="0.9" fill="none"/>
<path d="M455.7,501.2 L456.8,497.5 L457.9,493.5 L459.0,490.6 L460.1,489.7 L461.3,489.1 L462.4,488.6 L463.5,488.2 L464.6,487.9 L465.8,487.6 L466.9,487.4 L468.0,487.1 L469.1,486.7 L470.2,486.2 L471.4,485.6 L472.5,484.9 L473.6,484.0 L474.7,483.1 L475.9,482.1 L477.0,481.1 L478.1,480.1 L479.2,479.1 L480.3,478.1 L481.5,477.3 L482.6,476.5 L483.7,475.8 L484.8,475.1 L486.0,474.4 L487.1,473.7 L488.2,473.1 L489.3,472.5 L490.5,471.8 L491.6,471.2 L491.6,476.2 L490.5,474.8 L489.4,481.0 L488.2,476.5 L487.1,479.9 L486.0,480.7 L484.9,484.4 L483.8,486.2 L482.7,487.6 L481.5,482.7 L480.4,484.3 L479.3,491.3 L478.2,492.5 L477.0,488.3 L475.9,492.2 L474.8,490.4 L473.7,496.5 L472.5,492.5 L471.4,493.9 L470.3,494.3 L469.2,495.3 L468.0,492.1 L467.0,499.6 L465.8,491.7 L464.7,497.1 L463.6,499.8 L462.5,498.9 L461.3,497.4 L460.2,501.9 L459.0,493.1 L458.0,498.5 L456.9,505.7 L455.8,512.0 Z" fill="#4a3a38" stroke="none" stroke-width="0.6" stroke-linejoin="round" opacity="0.45"/>
<path d="M455.7,501.2 L455.8,512.0 L456.8,497.5 L456.9,505.7 L457.9,493.5 L458.0,498.5 L459.0,490.6 L459.0,493.1 L460.1,489.7 L460.2,501.9 L461.3,489.1 L461.3,497.4 L462.4,488.6 L462.5,498.9 L463.5,488.2 L463.6,499.8 L464.6,487.9 L464.7,497.1 L465.8,487.6 L465.8,491.7 L466.9,487.4 L467.0,499.6 L468.0,487.1 L468.0,492.1 L469.1,486.7 L469.2,495.3 L470.2,486.2 L470.3,494.3 L471.4,485.6 L471.4,493.9 L472.5,484.9 L472.5,492.5 L473.6,484.0 L473.7,496.5 L474.7,483.1 L474.8,490.4 L475.9,482.1 L475.9,492.2 L477.0,481.1 L477.0,488.3 L478.1,480.1 L478.2,492.5 L479.2,479.1 L479.3,491.3 L480.3,478.1 L480.4,484.3 L481.5,477.3 L481.5,482.7 L482.6,476.5 L482.7,487.6 L483.7,475.8 L483.8,486.2 L484.8,475.1 L484.9,484.4 L486.0,474.4 L486.0,480.7 L487.1,473.7 L487.1,479.9 L488.2,473.1 L488.2,476.5 L489.3,472.5 L489.4,481.0 L490.5,471.8 L490.5,474.8 L491.6,471.2 L491.6,476.2" fill="none" stroke="#4a4040" stroke-width="0.5" opacity="0.55"/>
<path d="M444.5,503.3 L446.1,498.9 L447.8,491.7 L449.4,485.7 L451.0,480.0 L452.6,475.8 L454.3,472.5 L455.9,470.1 L457.6,468.3 L459.2,466.7 L460.9,465.3 L462.5,464.1 L464.2,463.0 L465.9,462.1 L467.5,461.1 L469.2,460.2 L470.8,459.4 L472.5,458.6 L474.2,457.9 L475.8,457.2 L477.5,456.7 L479.2,456.3 L480.8,456.0 L482.5,455.6 L484.2,455.3 L485.8,455.0 L487.5,454.7 L489.2,454.4 L490.9,454.1 L492.5,453.8 L494.2,453.5 L495.9,453.3 L497.6,453.0 L499.2,452.7 L500.9,452.5 L502.6,452.2 L504.3,452.0 L505.9,451.7 L507.6,451.5 L509.3,451.3 L511.0,451.0 L512.6,450.8 L514.3,450.6 L516.0,450.4 L517.7,450.2 L519.4,450.0 L521.0,449.8 L522.7,449.7 L524.4,449.5 L526.1,449.3 L527.8,449.2 L529.5,449.0 L531.1,448.9 L532.8,448.8 L534.5,448.6 L536.2,448.5 L537.9,448.4 L539.6,448.3 L541.2,448.2 L542.9,448.1 L544.6,448.0 L546.3,448.0 L548.0,447.9 L549.7,447.9 L551.4,447.8 L553.1,447.8 L554.8,447.7 L556.5,447.7 L558.1,447.7 L559.8,447.7 L559.9,449.8 L559.1,449.8 L558.4,449.8 L557.7,449.8 L557.0,449.8 L556.3,449.8 L555.6,449.9 L554.8,449.9 L554.1,449.9 L553.4,450.0 L552.7,450.0 L552.0,450.1 L551.3,450.1 L550.6,450.2 L549.8,450.3 L549.1,450.3 L548.4,450.4 L547.7,450.5 L547.0,450.5 L546.3,450.6 L545.6,450.7 L544.8,450.8 L544.1,450.9 L543.4,451.0 L542.7,451.0 L542.0,451.1 L541.3,451.2 L540.6,451.3 L539.9,451.4 L539.1,451.5 L538.4,451.6 L537.7,451.8 L537.0,451.9 L536.3,452.0 L535.6,452.1 L534.9,452.2 L534.2,452.3 L533.4,452.4 L532.7,452.5 L532.0,452.7 L531.3,452.8 L530.6,452.9 L529.9,453.1 L529.2,453.3 L528.5,453.4 L527.8,453.6 L527.0,453.8 L526.3,454.1 L525.6,454.3 L524.9,454.6 L524.2,454.8 L523.5,455.1 L522.8,455.4 L522.1,455.7 L521.4,456.0 L520.7,456.3 L520.0,456.6 L519.2,456.9 L518.5,457.2 L517.8,457.6 L517.1,457.9 L516.4,458.3 L515.7,458.6 L515.0,459.0 L514.3,459.3 L513.6,459.7 L512.9,460.1 L512.2,460.5 L511.5,460.8 L510.7,461.2 L510.0,461.6 L509.3,462.0 L508.6,462.4 L507.9,462.7 L507.2,463.1 L506.5,463.5 L505.8,463.9 L505.1,464.3 L504.4,464.6 L503.7,465.0 L503.0,465.4 L502.3,465.8 L501.6,466.1 L500.9,466.5 L500.1,466.8 L499.4,467.2 L498.7,467.5 L498.0,467.9 L497.3,468.2 L496.6,468.6 L495.9,469.0 L495.2,469.3 L494.5,469.7 L493.8,470.0 L493.1,470.4 L492.4,470.8 L491.7,471.2 L491.0,471.5 L490.3,471.9 L489.6,472.3 L488.9,472.7 L488.2,473.1 L487.4,473.5 L486.7,473.9 L486.0,474.4 L485.3,474.8 L484.6,475.2 L484.0,479.4 L483.2,476.1 L482.5,477.0 L481.8,477.0 L481.1,482.2 L480.4,478.1 L479.7,479.4 L479.0,479.2 L478.3,482.9 L477.6,480.5 L476.9,484.3 L476.2,481.8 L475.5,483.9 L474.8,483.0 L474.1,489.0 L473.4,484.2 L472.7,486.9 L472.0,485.2 L471.3,488.6 L470.6,486.1 L469.9,491.2 L469.2,486.7 L468.5,490.7 L467.8,487.1 L467.1,489.7 L466.4,487.5 L465.7,488.5 L465.0,487.8 L464.3,493.3 L463.5,488.2 L462.9,491.8 L462.1,488.7 L461.5,492.4 L460.7,489.4 L460.1,493.2 L459.3,490.2 L458.6,492.5 L457.9,493.4 L457.3,499.1 L456.6,498.4 L455.9,504.0 L455.2,502.5 L454.5,506.7 Z" fill="#f65454" stroke="#3a0c0c" stroke-width="0.5" stroke-linejoin="round" fill-opacity="0.88"/>
<path d="M434.5,503.2 L436.3,506.6 L438.0,503.7 L439.8,508.2 L441.5,503.6 L443.3,506.4 L445.0,501.9 L446.8,507.6 L448.5,503.7 L450.3,507.7 L452.0,503.1 L453.8,508.3" fill="none" stroke="#3a3030" stroke-width="0.6" />
<path d="M447.8,510.3 L449.0,506.4 L450.1,502.3 L451.2,499.3 L452.4,498.4 L453.5,497.7 L454.7,497.3 L455.9,496.9 L457.0,496.5 L458.2,496.3 L459.3,496.0 L460.5,495.7 L461.7,495.3 L462.8,494.8 L464.0,494.2 L465.1,493.4 L466.3,492.5 L467.5,491.6 L468.6,490.5 L469.8,489.5 L470.9,488.4 L472.1,487.4 L473.2,486.4 L474.4,485.6 L475.6,484.8 L476.7,484.0 L477.9,483.3 L479.0,482.6 L480.2,481.9 L481.4,481.2 L482.5,480.5 L483.7,479.8 L484.8,479.2 L484.9,491.6 L483.7,488.1 L482.6,485.3 L481.4,492.4 L480.3,494.4 L479.1,489.8 L477.9,492.6 L476.8,495.0 L475.6,496.0 L474.4,490.4 L473.3,489.2 L472.1,493.5 L471.0,496.0 L469.8,495.4 L468.7,499.7 L467.5,497.5 L466.3,498.9 L465.2,501.7 L464.1,505.9 L462.8,497.3 L461.7,502.5 L460.6,505.1 L459.4,506.8 L458.2,500.8 L457.1,509.1 L455.9,502.9 L454.8,508.7 L453.6,509.8 L452.4,503.7 L451.3,507.8 L450.2,512.8 L449.0,512.4 L447.9,522.5 Z" fill="#4a3a38" stroke="none" stroke-width="0.6" stroke-linejoin="round" opacity="0.45"/>
<path d="M447.8,510.3 L447.9,522.5 L449.0,506.4 L449.0,512.4 L450.1,502.3 L450.2,512.8 L451.2,499.3 L451.3,507.8 L452.4,498.4 L452.4,503.7 L453.5,497.7 L453.6,509.8 L454.7,497.3 L454.8,508.7 L455.9,496.9 L455.9,502.9 L457.0,496.5 L457.1,509.1 L458.2,496.3 L458.2,500.8 L459.3,496.0 L459.4,506.8 L460.5,495.7 L460.6,505.1 L461.7,495.3 L461.7,502.5 L462.8,494.8 L462.8,497.3 L464.0,494.2 L464.1,505.9 L465.1,493.4 L465.2,501.7 L466.3,492.5 L466.3,498.9 L467.5,491.6 L467.5,497.5 L468.6,490.5 L468.7,499.7 L469.8,489.5 L469.8,495.4 L470.9,488.4 L471.0,496.0 L472.1,487.4 L472.1,493.5 L473.2,486.4 L473.3,489.2 L474.4,485.6 L474.4,490.4 L475.6,484.8 L475.6,496.0 L476.7,484.0 L476.8,495.0 L477.9,483.3 L477.9,492.6 L479.0,482.6 L479.1,489.8 L480.2,481.9 L480.3,494.4 L481.4,481.2 L481.4,492.4 L482.5,480.5 L482.6,485.3 L483.7,479.8 L483.7,488.1 L484.8,479.2 L484.9,491.6" fill="none" stroke="#4a4040" stroke-width="0.5" opacity="0.55"/>
<path d="M436.2,512.4 L437.9,507.8 L439.6,500.4 L441.3,494.5 L443.0,488.9 L444.7,485.2 L446.4,482.6 L448.1,480.6 L449.8,478.9 L451.5,477.4 L453.2,476.0 L454.9,474.7 L456.6,473.5 L458.4,472.5 L460.1,471.5 L461.8,470.6 L463.5,469.8 L465.3,469.1 L467.0,468.4 L468.7,467.7 L470.4,467.1 L472.2,466.5 L473.9,466.0 L475.6,465.5 L477.3,465.1 L479.1,464.8 L480.8,464.5 L482.5,464.2 L484.3,463.9 L486.0,463.6 L487.7,463.4 L489.5,463.1 L491.2,462.8 L492.9,462.5 L494.7,462.3 L496.4,462.0 L498.1,461.8 L499.9,461.5 L501.6,461.3 L503.3,461.1 L505.1,460.8 L506.8,460.6 L508.6,460.4 L510.3,460.2 L512.0,460.0 L513.8,459.8 L515.5,459.6 L517.3,459.4 L519.0,459.2 L520.7,459.0 L522.5,458.9 L524.2,458.7 L526.0,458.5 L527.7,458.4 L529.5,458.3 L531.2,458.1 L532.9,458.0 L534.7,457.9 L536.4,457.8 L538.2,457.7 L539.9,457.6 L541.7,457.5 L543.4,457.4 L545.2,457.4 L546.9,457.3 L548.7,457.3 L550.4,457.2 L552.2,457.2 L553.9,457.2 L555.7,457.2 L555.7,459.3 L555.0,459.4 L554.2,459.4 L553.5,459.4 L552.7,459.4 L552.0,459.4 L551.3,459.5 L550.5,459.5 L549.8,459.5 L549.0,459.6 L548.3,459.6 L547.6,459.7 L546.8,459.7 L546.1,459.8 L545.3,459.9 L544.6,459.9 L543.9,460.0 L543.1,460.1 L542.4,460.2 L541.6,460.3 L540.9,460.3 L540.2,460.4 L539.4,460.5 L538.7,460.6 L537.9,460.7 L537.2,460.8 L536.5,460.9 L535.7,461.0 L535.0,461.1 L534.3,461.2 L533.5,461.4 L532.8,461.5 L532.0,461.6 L531.3,461.7 L530.6,461.8 L529.8,461.9 L529.1,462.0 L528.4,462.2 L527.6,462.3 L526.9,462.4 L526.1,462.5 L525.4,462.7 L524.7,462.8 L523.9,463.0 L523.2,463.1 L522.5,463.3 L521.7,463.5 L521.0,463.7 L520.3,463.9 L519.5,464.1 L518.8,464.3 L518.0,464.5 L517.3,464.8 L516.6,465.0 L515.8,465.3 L515.1,465.5 L514.4,465.8 L513.6,466.1 L512.9,466.3 L512.2,466.6 L511.4,466.9 L510.7,467.2 L510.0,467.5 L509.2,467.8 L508.5,468.1 L507.8,468.4 L507.0,468.7 L506.3,469.0 L505.6,469.4 L504.8,469.7 L504.1,470.0 L503.4,470.3 L502.6,470.7 L501.9,471.0 L501.2,471.3 L500.4,471.7 L499.7,472.0 L499.0,472.3 L498.2,472.7 L497.5,473.0 L496.8,473.3 L496.0,473.7 L495.3,474.0 L494.6,474.4 L493.8,474.7 L493.1,475.0 L492.4,475.4 L491.6,475.7 L490.9,476.1 L490.2,476.4 L489.4,476.8 L488.7,477.2 L488.0,477.5 L487.3,477.9 L486.5,478.3 L485.8,478.7 L485.1,479.1 L484.3,479.5 L483.6,479.9 L482.9,480.3 L482.1,480.7 L481.4,481.1 L480.7,481.6 L480.0,482.0 L479.2,482.5 L478.5,482.9 L477.8,483.4 L477.1,488.4 L476.3,484.3 L475.6,487.1 L474.9,485.3 L474.1,488.6 L473.4,486.3 L472.7,490.0 L471.9,487.5 L471.3,493.4 L470.5,488.8 L469.8,493.7 L469.0,490.2 L468.3,493.3 L467.6,491.5 L466.9,494.9 L466.1,492.7 L465.4,494.1 L464.7,493.7 L464.0,497.2 L463.2,494.6 L462.5,496.5 L461.8,495.2 L461.0,496.3 L460.3,495.7 L459.6,496.8 L458.8,496.1 L458.1,497.8 L457.4,496.4 L456.7,500.7 L455.9,496.8 L455.2,498.4 L454.5,497.3 L453.8,501.1 L453.0,498.0 L452.3,502.0 L451.6,498.9 L450.9,505.6 L450.1,502.1 L449.4,507.5 L448.7,507.4 L448.0,514.3 L447.3,511.6 L446.6,513.0 Z" fill="#f01414" stroke="#3a0c0c" stroke-width="0.5" stroke-linejoin="round" fill-opacity="0.88"/>
<path d="M426.3,510.4 L428.1,514.7 L429.9,512.9 L431.7,515.0 L433.5,512.5 L435.3,516.0 L437.1,513.1 L438.9,518.6 L440.7,512.6 L442.5,515.0 L444.3,509.8 L446.1,516.1" fill="none" stroke="#3a3030" stroke-width="0.6" />
<path d="M440.1,519.1 L441.3,515.1 L442.5,510.8 L443.7,507.8 L444.8,506.8 L446.0,506.1 L447.2,505.6 L448.4,505.2 L449.6,504.9 L450.8,504.6 L452.0,504.3 L453.2,504.0 L454.4,503.6 L455.6,503.1 L456.8,502.5 L458.0,501.7 L459.2,500.8 L460.4,499.8 L461.6,498.7 L462.8,497.6 L463.9,496.5 L465.1,495.5 L466.3,494.5 L467.5,493.6 L468.7,492.8 L469.9,492.0 L471.1,491.2 L472.3,490.5 L473.5,489.7 L474.7,489.0 L475.9,488.3 L477.1,487.6 L478.3,486.9 L478.4,500.0 L477.2,500.6 L476.0,496.5 L474.8,496.7 L473.6,497.8 L472.3,493.9 L471.1,494.8 L470.0,500.6 L468.8,503.2 L467.5,496.4 L466.4,503.5 L465.2,499.3 L464.0,508.9 L462.8,507.9 L461.6,507.5 L460.4,503.8 L459.3,513.2 L458.1,514.9 L456.9,514.9 L455.7,511.3 L454.5,514.4 L453.3,510.0 L452.0,507.7 L450.9,509.5 L449.7,518.1 L448.5,513.7 L447.3,517.7 L446.1,513.5 L444.9,516.6 L443.7,513.3 L442.6,522.1 L441.4,523.8 L440.2,523.0 Z" fill="#4a3a38" stroke="none" stroke-width="0.6" stroke-linejoin="round" opacity="0.45"/>
<path d="M440.1,519.1 L440.2,523.0 L441.3,515.1 L441.4,523.8 L442.5,510.8 L442.6,522.1 L443.7,507.8 L443.7,513.3 L444.8,506.8 L444.9,516.6 L446.0,506.1 L446.1,513.5 L447.2,505.6 L447.3,517.7 L448.4,505.2 L448.5,513.7 L449.6,504.9 L449.7,518.1 L450.8,504.6 L450.9,509.5 L452.0,504.3 L452.0,507.7 L453.2,504.0 L453.3,510.0 L454.4,503.6 L454.5,514.4 L455.6,503.1 L455.7,511.3 L456.8,502.5 L456.9,514.9 L458.0,501.7 L458.1,514.9 L459.2,500.8 L459.3,513.2 L460.4,499.8 L460.4,503.8 L461.6,498.7 L461.6,507.5 L462.8,497.6 L462.8,507.9 L463.9,496.5 L464.0,508.9 L465.1,495.5 L465.2,499.3 L466.3,494.5 L466.4,503.5 L467.5,493.6 L467.5,496.4 L468.7,492.8 L468.8,503.2 L469.9,492.0 L470.0,500.6 L471.1,491.2 L471.1,494.8 L472.3,490.5 L472.3,493.9 L473.5,489.7 L473.6,497.8 L474.7,489.0 L474.8,496.7 L475.9,488.3 L476.0,496.5 L477.1,487.6 L477.2,500.6 L478.3,486.9 L478.4,500.0" fill="none" stroke="#4a4040" stroke-width="0.5" opacity="0.55"/>
<path d="M428.2,521.3 L430.0,516.4 L431.7,508.8 L433.4,503.0 L435.2,497.6 L436.9,493.8 L438.7,491.5 L440.4,489.6 L442.2,488.0 L444.0,486.7 L445.8,485.5 L447.5,484.4 L449.3,483.3 L451.1,482.2 L452.9,481.2 L454.6,480.3 L456.4,479.5 L458.2,478.7 L460.0,478.0 L461.8,477.4 L463.6,476.8 L465.3,476.3 L467.1,475.8 L468.9,475.3 L470.7,474.9 L472.5,474.5 L474.3,474.1 L476.1,473.7 L477.8,473.5 L479.6,473.2 L481.4,472.9 L483.2,472.7 L485.0,472.4 L486.8,472.1 L488.6,471.9 L490.4,471.6 L492.2,471.4 L494.0,471.2 L495.8,470.9 L497.6,470.7 L499.4,470.4 L501.2,470.2 L503.0,470.0 L504.7,469.8 L506.5,469.6 L508.3,469.4 L510.1,469.2 L511.9,469.0 L513.7,468.8 L515.5,468.6 L517.3,468.4 L519.1,468.2 L521.0,468.1 L522.8,467.9 L524.6,467.8 L526.4,467.6 L528.2,467.5 L530.0,467.4 L531.8,467.3 L533.6,467.2 L535.4,467.1 L537.2,467.0 L539.0,466.9 L540.8,466.8 L542.6,466.8 L544.4,466.7 L546.2,466.7 L548.1,466.6 L549.9,466.6 L551.7,466.6 L551.7,468.8 L550.9,468.8 L550.2,468.9 L549.4,468.9 L548.6,468.9 L547.9,469.0 L547.1,469.0 L546.3,469.0 L545.6,469.1 L544.8,469.1 L544.0,469.2 L543.3,469.3 L542.5,469.3 L541.7,469.4 L541.0,469.5 L540.2,469.5 L539.4,469.6 L538.7,469.7 L537.9,469.8 L537.2,469.9 L536.4,470.0 L535.6,470.1 L534.9,470.1 L534.1,470.2 L533.3,470.3 L532.6,470.4 L531.8,470.6 L531.0,470.7 L530.3,470.8 L529.5,470.9 L528.8,471.0 L528.0,471.1 L527.2,471.2 L526.5,471.3 L525.7,471.4 L524.9,471.6 L524.2,471.7 L523.4,471.8 L522.7,471.9 L521.9,472.0 L521.1,472.2 L520.4,472.3 L519.6,472.4 L518.8,472.6 L518.1,472.7 L517.3,472.9 L516.6,473.0 L515.8,473.2 L515.0,473.3 L514.3,473.5 L513.5,473.7 L512.7,473.9 L512.0,474.1 L511.2,474.3 L510.5,474.5 L509.7,474.7 L508.9,474.9 L508.2,475.1 L507.4,475.3 L506.7,475.5 L505.9,475.8 L505.1,476.0 L504.4,476.2 L503.6,476.5 L502.9,476.7 L502.1,477.0 L501.4,477.2 L500.6,477.5 L499.8,477.7 L499.1,478.0 L498.3,478.3 L497.6,478.5 L496.8,478.8 L496.0,479.1 L495.3,479.4 L494.5,479.7 L493.8,479.9 L493.0,480.2 L492.3,480.5 L491.5,480.8 L490.7,481.1 L490.0,481.4 L489.2,481.7 L488.5,482.0 L487.7,482.3 L487.0,482.6 L486.2,482.9 L485.4,483.3 L484.7,483.6 L483.9,484.0 L483.2,484.3 L482.4,484.7 L481.7,485.1 L480.9,485.5 L480.1,485.9 L479.4,486.3 L478.6,486.7 L477.9,487.1 L477.1,487.6 L476.4,488.0 L475.6,488.4 L474.9,488.9 L474.1,489.4 L473.4,489.8 L472.6,490.3 L471.8,490.8 L471.1,491.2 L470.4,493.7 L469.6,492.2 L468.8,493.5 L468.1,493.2 L467.3,495.7 L466.6,494.3 L465.9,499.8 L465.1,495.5 L464.3,498.0 L463.6,496.9 L462.8,498.7 L462.1,498.3 L461.3,502.6 L460.6,499.6 L459.8,504.4 L459.1,500.9 L458.3,502.8 L457.6,502.0 L456.8,503.1 L456.1,502.9 L455.3,504.5 L454.5,503.5 L453.8,505.5 L453.0,504.0 L452.3,506.6 L451.5,504.4 L450.8,508.1 L450.0,504.8 L449.3,510.4 L448.5,505.2 L447.8,507.7 L447.0,505.7 L446.3,509.9 L445.5,506.4 L444.8,510.9 L444.0,507.3 L443.3,510.5 L442.5,510.6 L441.8,516.7 L441.1,516.0 L440.4,524.3 L439.6,520.4 L438.9,527.2 Z" fill="#c81212" stroke="#3a0c0c" stroke-width="0.5" stroke-linejoin="round" fill-opacity="0.88"/>
<path d="M418.3,520.1 L420.2,524.2 L422.0,520.5 L423.9,524.3 L425.7,520.3 L427.6,524.5 L429.4,521.7 L431.3,527.0 L433.1,519.3 L435.0,527.0 L436.8,520.7 L438.7,525.0" fill="none" stroke="#3a3030" stroke-width="0.6" />
<path d="M432.8,527.4 L434.0,523.3 L435.2,518.9 L436.4,515.8 L437.6,514.8 L438.8,514.1 L440.1,513.6 L441.3,513.2 L442.5,512.9 L443.8,512.6 L445.0,512.3 L446.2,511.9 L447.4,511.5 L448.7,511.0 L449.9,510.4 L451.1,509.6 L452.3,508.6 L453.6,507.6 L454.8,506.5 L456.0,505.4 L457.3,504.3 L458.5,503.2 L459.7,502.2 L460.9,501.3 L462.2,500.4 L463.4,499.6 L464.6,498.8 L465.9,498.0 L467.1,497.2 L468.3,496.4 L469.5,495.7 L470.8,494.9 L472.0,494.2 L472.0,499.4 L470.8,501.0 L469.6,505.0 L468.3,498.8 L467.1,499.7 L465.9,501.1 L464.7,502.9 L463.4,506.5 L462.2,505.1 L461.0,507.8 L459.8,514.1 L458.5,505.9 L457.3,508.8 L456.1,515.1 L454.9,519.3 L453.6,510.5 L452.4,513.8 L451.1,513.1 L449.9,516.2 L448.8,524.2 L447.5,518.8 L446.3,522.6 L445.0,520.0 L443.8,519.8 L442.6,523.1 L441.4,523.0 L440.1,519.2 L438.9,517.6 L437.7,526.8 L436.5,527.9 L435.2,523.3 L434.0,528.1 L432.8,533.3 Z" fill="#4a3a38" stroke="none" stroke-width="0.6" stroke-linejoin="round" opacity="0.45"/>
<path d="M432.8,527.4 L432.8,533.3 L434.0,523.3 L434.0,528.1 L435.2,518.9 L435.2,523.3 L436.4,515.8 L436.5,527.9 L437.6,514.8 L437.7,526.8 L438.8,514.1 L438.9,517.6 L440.1,513.6 L440.1,519.2 L441.3,513.2 L441.4,523.0 L442.5,512.9 L442.6,523.1 L443.8,512.6 L443.8,519.8 L445.0,512.3 L445.0,520.0 L446.2,511.9 L446.3,522.6 L447.4,511.5 L447.5,518.8 L448.7,511.0 L448.8,524.2 L449.9,510.4 L449.9,516.2 L451.1,509.6 L451.1,513.1 L452.3,508.6 L452.4,513.8 L453.6,507.6 L453.6,510.5 L454.8,506.5 L454.9,519.3 L456.0,505.4 L456.1,515.1 L457.3,504.3 L457.3,508.8 L458.5,503.2 L458.5,505.9 L459.7,502.2 L459.8,514.1 L460.9,501.3 L461.0,507.8 L462.2,500.4 L462.2,505.1 L463.4,499.6 L463.4,506.5 L464.6,498.8 L464.7,502.9 L465.9,498.0 L465.9,501.1 L467.1,497.2 L467.1,499.7 L468.3,496.4 L468.3,498.8 L469.5,495.7 L469.6,505.0 L470.8,494.9 L470.8,501.0 L472.0,494.2 L472.0,499.4" fill="none" stroke="#4a4040" stroke-width="0.5" opacity="0.55"/>
<path d="M420.5,529.7 L422.3,524.6 L424.1,516.7 L425.9,511.1 L427.7,505.9 L429.5,501.9 L431.3,499.7 L433.1,497.8 L435.0,496.3 L436.8,495.0 L438.6,493.8 L440.4,492.8 L442.3,491.9 L444.1,491.0 L445.9,490.1 L447.8,489.2 L449.6,488.4 L451.4,487.7 L453.3,487.0 L455.1,486.3 L457.0,485.8 L458.8,485.3 L460.6,484.8 L462.5,484.4 L464.3,484.0 L466.2,483.6 L468.0,483.2 L469.9,482.9 L471.7,482.6 L473.5,482.3 L475.4,482.0 L477.2,481.8 L479.1,481.6 L480.9,481.3 L482.8,481.1 L484.6,480.9 L486.5,480.7 L488.3,480.4 L490.2,480.2 L492.0,480.0 L493.9,479.8 L495.7,479.6 L497.6,479.4 L499.4,479.1 L501.3,478.9 L503.2,478.7 L505.0,478.5 L506.9,478.3 L508.7,478.2 L510.6,478.0 L512.4,477.8 L514.3,477.6 L516.2,477.5 L518.0,477.3 L519.9,477.1 L521.7,477.0 L523.6,476.9 L525.5,476.7 L527.3,476.6 L529.2,476.5 L531.1,476.4 L532.9,476.3 L534.8,476.2 L536.6,476.1 L538.5,476.0 L540.4,476.0 L542.2,475.9 L544.1,475.9 L546.0,475.8 L547.9,475.8 L547.9,478.1 L547.1,478.2 L546.3,478.2 L545.5,478.3 L544.7,478.3 L543.9,478.4 L543.1,478.4 L542.3,478.5 L541.5,478.6 L540.8,478.6 L540.0,478.7 L539.2,478.8 L538.4,478.8 L537.6,478.9 L536.8,479.0 L536.0,479.1 L535.2,479.2 L534.4,479.2 L533.7,479.3 L532.9,479.4 L532.1,479.5 L531.3,479.6 L530.5,479.7 L529.7,479.8 L528.9,479.9 L528.1,480.0 L527.3,480.1 L526.6,480.2 L525.8,480.3 L525.0,480.4 L524.2,480.5 L523.4,480.6 L522.6,480.7 L521.8,480.8 L521.0,481.0 L520.3,481.1 L519.5,481.2 L518.7,481.3 L517.9,481.4 L517.1,481.5 L516.3,481.6 L515.5,481.8 L514.8,481.9 L514.0,482.0 L513.2,482.1 L512.4,482.3 L511.6,482.4 L510.8,482.5 L510.0,482.7 L509.3,482.8 L508.5,482.9 L507.7,483.1 L506.9,483.2 L506.1,483.4 L505.3,483.5 L504.5,483.7 L503.8,483.8 L503.0,484.0 L502.2,484.1 L501.4,484.3 L500.6,484.5 L499.8,484.6 L499.1,484.8 L498.3,485.0 L497.5,485.2 L496.7,485.4 L495.9,485.5 L495.1,485.7 L494.4,485.9 L493.6,486.1 L492.8,486.3 L492.0,486.5 L491.2,486.7 L490.4,487.0 L489.7,487.2 L488.9,487.4 L488.1,487.6 L487.3,487.9 L486.5,488.1 L485.7,488.3 L485.0,488.6 L484.2,488.8 L483.4,489.1 L482.6,489.3 L481.8,489.6 L481.1,489.9 L480.3,490.2 L479.5,490.5 L478.7,490.8 L477.9,491.1 L477.2,491.5 L476.4,491.9 L475.6,492.3 L474.8,492.7 L474.0,493.1 L473.3,493.5 L472.5,493.9 L471.7,494.4 L470.9,494.8 L470.1,495.3 L469.4,495.8 L468.6,496.3 L467.8,496.7 L467.0,497.2 L466.3,497.7 L465.5,498.2 L464.7,498.7 L463.9,502.3 L463.1,499.8 L462.4,504.3 L461.6,500.8 L460.8,503.1 L460.0,501.9 L459.3,503.6 L458.5,503.2 L457.7,508.1 L456.9,504.6 L456.2,507.2 L455.4,506.0 L454.7,511.9 L453.8,507.4 L453.1,511.3 L452.3,508.7 L451.6,515.3 L450.7,509.8 L450.0,511.7 L449.2,510.8 L448.4,512.2 L447.6,511.5 L446.9,513.0 L446.1,512.0 L445.3,518.1 L444.5,512.4 L443.8,516.8 L443.0,512.8 L442.2,516.7 L441.4,513.2 L440.7,515.7 L439.9,513.7 L439.1,515.3 L438.3,514.4 L437.5,515.3 L436.8,515.4 L436.0,521.5 L435.2,518.7 L434.5,524.5 L433.7,524.3 L433.0,532.9 L432.2,528.8 L431.4,530.2 Z" fill="#861616" stroke="#3a0c0c" stroke-width="0.5" stroke-linejoin="round" fill-opacity="0.88"/>
<path d="M410.6,526.6 L412.6,535.8 L414.4,526.0 L416.4,535.8 L418.3,529.4 L420.2,534.4 L422.1,528.1 L424.0,535.8 L425.9,527.2 L427.8,532.4 L429.7,530.1" fill="none" stroke="#3a3030" stroke-width="0.6" />
<path d="M423.3,538.3 L424.5,534.1 L425.7,529.5 L427.0,526.3 L428.3,525.3 L429.5,524.6 L430.8,524.0 L432.1,523.6 L433.3,523.3 L434.6,522.9 L435.9,522.6 L437.2,522.3 L438.4,521.9 L439.7,521.4 L441.0,520.7 L442.3,519.8 L443.5,518.9 L444.8,517.8 L446.1,516.7 L447.3,515.5 L448.6,514.4 L449.9,513.2 L451.1,512.2 L452.4,511.2 L453.7,510.4 L455.0,509.5 L456.2,508.7 L457.5,507.8 L458.8,506.9 L460.1,506.1 L461.3,505.3 L462.6,504.5 L463.9,503.7 L463.9,510.6 L462.7,515.9 L461.4,517.9 L460.2,518.2 L458.9,517.8 L457.6,515.6 L456.3,513.3 L455.0,517.8 L453.8,524.2 L452.4,514.3 L451.2,522.8 L449.9,518.8 L448.7,523.4 L447.4,524.5 L446.2,528.5 L444.8,523.3 L443.6,525.6 L442.3,527.9 L441.0,525.6 L439.8,533.5 L438.5,533.2 L437.2,531.0 L435.9,525.8 L434.7,535.0 L433.4,533.2 L432.1,530.8 L430.9,535.1 L429.6,535.8 L428.3,532.1 L427.0,530.2 L425.8,534.4 L424.6,544.6 L423.3,550.6 Z" fill="#4a3a38" stroke="none" stroke-width="0.6" stroke-linejoin="round" opacity="0.45"/>
<path d="M423.3,538.3 L423.3,550.6 L424.5,534.1 L424.6,544.6 L425.7,529.5 L425.8,534.4 L427.0,526.3 L427.0,530.2 L428.3,525.3 L428.3,532.1 L429.5,524.6 L429.6,535.8 L430.8,524.0 L430.9,535.1 L432.1,523.6 L432.1,530.8 L433.3,523.3 L433.4,533.2 L434.6,522.9 L434.7,535.0 L435.9,522.6 L435.9,525.8 L437.2,522.3 L437.2,531.0 L438.4,521.9 L438.5,533.2 L439.7,521.4 L439.8,533.5 L441.0,520.7 L441.0,525.6 L442.3,519.8 L442.3,527.9 L443.5,518.9 L443.6,525.6 L444.8,517.8 L444.8,523.3 L446.1,516.7 L446.2,528.5 L447.3,515.5 L447.4,524.5 L448.6,514.4 L448.7,523.4 L449.9,513.2 L449.9,518.8 L451.1,512.2 L451.2,522.8 L452.4,511.2 L452.4,514.3 L453.7,510.4 L453.8,524.2 L455.0,509.5 L455.0,517.8 L456.2,508.7 L456.3,513.3 L457.5,507.8 L457.6,515.6 L458.8,506.9 L458.9,517.8 L460.1,506.1 L460.2,518.2 L461.3,505.3 L461.4,517.9 L462.6,504.5 L462.7,515.9 L463.9,503.7 L463.9,510.6" fill="none" stroke="#4a4040" stroke-width="0.5" opacity="0.55"/>
<path d="M410.6,540.7 L412.4,535.3 L414.3,527.2 L416.1,521.6 L418.0,516.4 L419.9,512.4 L421.8,510.0 L423.7,508.2 L425.6,506.6 L427.5,505.3 L429.4,504.1 L431.3,503.1 L433.2,502.2 L435.1,501.3 L437.0,500.5 L438.9,499.8 L440.8,499.0 L442.7,498.4 L444.6,497.7 L446.5,497.1 L448.4,496.5 L450.3,496.0 L452.2,495.6 L454.2,495.2 L456.1,494.8 L458.0,494.5 L459.9,494.2 L461.8,493.9 L463.7,493.6 L465.6,493.4 L467.6,493.1 L469.5,492.9 L471.4,492.7 L473.3,492.5 L475.2,492.3 L477.2,492.1 L479.1,491.9 L481.0,491.8 L482.9,491.6 L484.9,491.4 L486.8,491.2 L488.7,491.0 L490.6,490.9 L492.6,490.7 L494.5,490.5 L496.4,490.3 L498.3,490.2 L500.3,490.0 L502.2,489.8 L504.1,489.7 L506.1,489.5 L508.0,489.4 L509.9,489.2 L511.9,489.1 L513.8,488.9 L515.7,488.8 L517.7,488.7 L519.6,488.5 L521.5,488.4 L523.5,488.3 L525.4,488.2 L527.3,488.0 L529.3,487.9 L531.2,487.8 L533.1,487.7 L535.1,487.6 L537.0,487.5 L539.0,487.5 L540.9,487.4 L542.9,487.3 L542.9,489.7 L542.1,489.8 L541.2,489.9 L540.4,490.0 L539.6,490.0 L538.8,490.1 L537.9,490.2 L537.1,490.3 L536.3,490.4 L535.5,490.5 L534.7,490.6 L533.8,490.6 L533.0,490.7 L532.2,490.8 L531.4,490.9 L530.6,491.0 L529.7,491.1 L528.9,491.2 L528.1,491.3 L527.3,491.4 L526.5,491.5 L525.6,491.6 L524.8,491.7 L524.0,491.8 L523.2,491.9 L522.4,492.0 L521.5,492.1 L520.7,492.2 L519.9,492.3 L519.1,492.4 L518.3,492.5 L517.5,492.6 L516.6,492.7 L515.8,492.8 L515.0,492.9 L514.2,493.0 L513.4,493.1 L512.5,493.2 L511.7,493.3 L510.9,493.4 L510.1,493.5 L509.3,493.7 L508.5,493.8 L507.6,493.9 L506.8,494.0 L506.0,494.1 L505.2,494.2 L504.4,494.3 L503.6,494.4 L502.7,494.5 L501.9,494.6 L501.1,494.7 L500.3,494.8 L499.5,494.9 L498.7,495.0 L497.8,495.1 L497.0,495.2 L496.2,495.3 L495.4,495.4 L494.6,495.5 L493.8,495.6 L492.9,495.7 L492.1,495.8 L491.3,495.9 L490.5,496.0 L489.7,496.1 L488.9,496.3 L488.1,496.4 L487.2,496.5 L486.4,496.6 L485.6,496.8 L484.8,496.9 L484.0,497.1 L483.2,497.2 L482.4,497.3 L481.5,497.5 L480.7,497.7 L479.9,497.8 L479.1,498.0 L478.3,498.2 L477.5,498.3 L476.7,498.5 L475.9,498.7 L475.0,498.9 L474.2,499.1 L473.4,499.3 L472.6,499.6 L471.8,499.9 L471.0,500.2 L470.2,500.5 L469.4,500.8 L468.6,501.2 L467.7,501.6 L466.9,502.0 L466.1,502.4 L465.3,502.9 L464.5,503.3 L463.7,503.8 L462.9,504.3 L462.1,504.8 L461.3,505.3 L460.5,505.8 L459.7,506.4 L458.8,506.9 L458.0,507.4 L457.2,508.0 L456.4,508.5 L455.6,511.2 L454.8,509.6 L454.0,514.7 L453.2,510.7 L452.4,514.4 L451.6,511.9 L450.8,516.1 L450.0,513.2 L449.2,519.4 L448.4,514.6 L447.6,516.4 L446.8,516.1 L446.0,517.5 L445.1,517.5 L444.4,520.1 L443.5,518.9 L442.7,522.3 L441.9,520.1 L441.1,522.7 L440.3,521.1 L439.5,527.1 L438.7,521.8 L437.9,525.2 L437.1,522.3 L436.3,525.0 L435.5,522.7 L434.7,525.6 L433.9,523.1 L433.1,527.3 L432.2,523.6 L431.5,527.0 L430.6,524.1 L429.8,525.6 L429.0,524.8 L428.2,528.6 L427.4,525.8 L426.6,531.9 L425.8,529.3 L425.1,537.0 L424.2,535.1 L423.5,543.9 L422.7,539.8 L421.9,543.5 Z" fill="#56241e" stroke="#3a0c0c" stroke-width="0.5" stroke-linejoin="round" fill-opacity="0.88"/>
<path d="M400.7,537.5 L402.7,544.7 L404.6,541.1 L406.6,544.5 L408.6,536.8 L410.6,546.4 L412.5,539.6 L414.6,546.4 L416.5,538.1 L418.5,543.5 L420.4,540.3" fill="none" stroke="#3a3030" stroke-width="0.6" />
<path d="M404.4,553.4 L405.7,544.4 L407.0,537.2 L408.3,534.3 L409.6,531.9 L411.0,529.7 L412.3,527.7 L413.6,526.0 L415.0,524.4 L416.3,523.0 L417.6,521.8 L419.0,520.6 L420.3,519.6 L421.7,518.7 L423.0,517.8 L424.4,516.9 L425.7,516.1 L427.0,515.3 L428.4,514.5 L429.7,513.6 L431.1,512.8 L432.4,512.1 L433.8,511.3 L435.1,510.6 L436.4,509.9 L437.8,509.2 L437.9,519.5 L436.5,517.1 L435.2,523.3 L433.8,519.7 L432.5,525.1 L431.2,525.7 L429.8,520.9 L428.5,525.7 L427.1,526.7 L425.7,524.1 L424.4,527.4 L423.1,526.4 L421.7,529.1 L420.3,522.9 L419.0,526.4 L417.7,530.8 L416.4,531.1 L415.0,528.1 L413.7,537.2 L412.3,531.1 L411.1,543.1 L409.7,537.3 L408.4,543.1 L407.1,548.6 L405.8,553.3 L404.5,567.5 Z" fill="#4a3a38" stroke="none" stroke-width="0.6" stroke-linejoin="round" opacity="0.22"/>
<path d="M404.4,553.4 L404.5,567.5 L405.7,544.4 L405.8,553.3 L407.0,537.2 L407.1,548.6 L408.3,534.3 L408.4,543.1 L409.6,531.9 L409.7,537.3 L411.0,529.7 L411.1,543.1 L412.3,527.7 L412.3,531.1 L413.6,526.0 L413.7,537.2 L415.0,524.4 L415.0,528.1 L416.3,523.0 L416.4,531.1 L417.6,521.8 L417.7,530.8 L419.0,520.6 L419.0,526.4 L420.3,519.6 L420.3,522.9 L421.7,518.7 L421.7,529.1 L423.0,517.8 L423.1,526.4 L424.4,516.9 L424.4,527.4 L425.7,516.1 L425.7,524.1 L427.0,515.3 L427.1,526.7 L428.4,514.5 L428.5,525.7 L429.7,513.6 L429.8,520.9 L431.1,512.8 L431.2,525.7 L432.4,512.1 L432.5,525.1 L433.8,511.3 L433.8,519.7 L435.1,510.6 L435.2,523.3 L436.4,509.9 L436.5,517.1 L437.8,509.2 L437.9,519.5" fill="none" stroke="#4a4040" stroke-width="0.5" opacity="0.55"/>
<path d="M391.8,558.8 L393.7,540.0 L395.7,531.0 L397.7,526.4 L399.7,523.2 L401.8,520.4 L403.8,517.7 L405.8,515.1 L407.9,513.1 L409.9,511.7 L412.0,511.0 L414.0,510.4 L416.1,509.9 L418.2,509.4 L420.2,509.0 L422.3,508.6 L424.3,508.3 L426.4,508.0 L428.5,507.7 L430.5,507.5 L432.6,507.2 L434.6,507.1 L436.7,506.9 L438.8,506.7 L440.8,506.6 L442.9,506.5 L445.0,506.3 L447.1,506.2 L449.1,506.1 L451.2,506.0 L453.3,505.8 L455.3,505.7 L457.4,505.6 L459.5,505.5 L461.6,505.4 L463.6,505.3 L465.7,505.1 L467.8,505.0 L469.9,504.9 L471.9,504.8 L474.0,504.7 L476.1,504.6 L478.2,504.6 L480.3,504.5 L482.3,504.4 L484.4,504.3 L486.5,504.2 L488.6,504.1 L490.7,504.1 L492.8,504.0 L494.8,503.9 L496.9,503.9 L499.0,503.8 L501.1,503.8 L503.2,503.7 L505.3,503.6 L507.4,503.6 L509.5,503.6 L511.6,503.5 L513.6,503.5 L515.7,503.4 L517.8,503.4 L519.9,503.4 L522.0,503.4 L524.1,503.4 L526.2,503.3 L528.3,503.3 L530.4,503.3 L532.5,503.3 L534.6,503.3 L534.6,503.4 L533.7,503.5 L532.8,503.6 L531.9,503.7 L531.0,503.7 L530.1,503.8 L529.2,503.9 L528.3,504.0 L527.4,504.0 L526.6,504.1 L525.7,504.2 L524.8,504.3 L523.9,504.3 L523.0,504.4 L522.1,504.4 L521.2,504.5 L520.3,504.6 L519.4,504.6 L518.5,504.7 L517.6,504.7 L516.7,504.8 L515.8,504.8 L514.9,504.9 L514.1,504.9 L513.2,505.0 L512.3,505.0 L511.4,505.1 L510.5,505.1 L509.6,505.2 L508.7,505.2 L507.8,505.2 L506.9,505.3 L506.0,505.3 L505.1,505.3 L504.2,505.4 L503.4,505.4 L502.5,505.4 L501.6,505.5 L500.7,505.5 L499.8,505.5 L498.9,505.5 L498.0,505.6 L497.1,505.6 L496.2,505.6 L495.3,505.6 L494.4,505.6 L493.6,505.7 L492.7,505.7 L491.8,505.7 L490.9,505.7 L490.0,505.7 L489.1,505.8 L488.2,505.8 L487.3,505.8 L486.4,505.8 L485.6,505.8 L484.7,505.8 L483.8,505.8 L482.9,505.8 L482.0,505.8 L481.1,505.8 L480.2,505.9 L479.3,505.9 L478.5,505.9 L477.6,505.9 L476.7,505.9 L475.8,505.9 L474.9,505.9 L474.0,505.9 L473.1,505.9 L472.2,505.9 L471.4,505.9 L470.5,505.9 L469.6,505.9 L468.7,505.9 L467.8,505.9 L466.9,505.9 L466.0,505.9 L465.2,505.9 L464.3,505.9 L463.4,505.9 L462.5,505.9 L461.6,505.9 L460.7,505.9 L459.8,505.9 L459.0,505.9 L458.1,505.9 L457.2,505.9 L456.3,505.9 L455.4,505.7 L454.5,505.8 L453.6,505.8 L452.8,505.9 L451.9,506.0 L451.0,506.0 L450.1,506.1 L449.2,506.1 L448.3,506.2 L447.5,506.2 L446.6,506.3 L445.7,506.3 L444.8,506.4 L443.9,506.6 L443.1,506.9 L442.2,507.3 L441.3,507.6 L440.4,508.0 L439.5,508.4 L438.7,508.8 L437.8,513.2 L436.9,509.6 L436.1,515.4 L435.1,510.5 L434.3,515.9 L433.4,511.5 L432.6,518.4 L431.6,512.5 L430.8,515.5 L429.9,513.6 L429.0,515.9 L428.1,514.6 L427.3,515.9 L426.4,515.7 L425.5,521.8 L424.6,516.8 L423.8,519.8 L422.9,517.9 L422.0,521.5 L421.1,519.1 L420.3,522.2 L419.4,520.3 L418.5,524.9 L417.6,521.8 L416.8,528.4 L415.9,523.4 L415.0,526.6 L414.1,525.4 L413.3,531.3 L412.4,527.6 L411.6,535.2 L410.6,530.2 L409.8,537.7 L408.9,533.2 L408.1,536.4 L407.2,536.6 L406.3,542.6 L405.5,545.8 L404.7,557.9 L403.8,556.6 L403.0,563.2 Z" fill="#f65454" stroke="#3a0c0c" stroke-width="0.5" stroke-linejoin="round" fill-opacity="0.88"/>
<path d="M384.3,558.8 L386.4,563.7 L388.5,554.8 L390.6,562.8 L392.6,555.5 L394.8,561.8 L396.8,555.7 L398.9,561.6 L401.0,556.3" fill="none" stroke="#3a3030" stroke-width="0.6" />
<path d="M392.4,566.5 L393.7,557.1 L395.1,549.6 L396.5,546.6 L397.8,544.0 L399.2,541.8 L400.6,539.7 L402.0,537.9 L403.4,536.3 L404.8,534.8 L406.2,533.6 L407.6,532.4 L409.0,531.3 L410.3,530.3 L411.7,529.4 L413.1,528.6 L414.5,527.7 L415.9,526.9 L417.3,526.2 L418.7,525.6 L420.1,525.0 L421.5,524.5 L422.9,524.0 L424.3,523.6 L425.7,523.2 L427.1,522.8 L427.2,537.3 L425.8,537.7 L424.4,532.1 L423.0,537.9 L421.6,533.8 L420.2,538.7 L418.7,529.2 L417.4,538.4 L416.0,537.4 L414.6,534.3 L413.2,543.3 L411.8,537.2 L410.4,538.3 L409.0,534.9 L407.6,544.3 L406.2,540.5 L404.8,540.0 L403.4,542.1 L402.1,553.1 L400.7,552.7 L399.3,545.8 L397.9,556.6 L396.5,557.7 L395.2,558.8 L393.8,561.9 L392.4,571.0 Z" fill="#4a3a38" stroke="none" stroke-width="0.6" stroke-linejoin="round" opacity="0.22"/>
<path d="M392.4,566.5 L392.4,571.0 L393.7,557.1 L393.8,561.9 L395.1,549.6 L395.2,558.8 L396.5,546.6 L396.5,557.7 L397.8,544.0 L397.9,556.6 L399.2,541.8 L399.3,545.8 L400.6,539.7 L400.7,552.7 L402.0,537.9 L402.1,553.1 L403.4,536.3 L403.4,542.1 L404.8,534.8 L404.8,540.0 L406.2,533.6 L406.2,540.5 L407.6,532.4 L407.6,544.3 L409.0,531.3 L409.0,534.9 L410.3,530.3 L410.4,538.3 L411.7,529.4 L411.8,537.2 L413.1,528.6 L413.2,543.3 L414.5,527.7 L414.6,534.3 L415.9,526.9 L416.0,537.4 L417.3,526.2 L417.4,538.4 L418.7,525.6 L418.7,529.2 L420.1,525.0 L420.2,538.7 L421.5,524.5 L421.6,533.8 L422.9,524.0 L423.0,537.9 L424.3,523.6 L424.4,532.1 L425.7,523.2 L425.8,537.7 L427.1,522.8 L427.2,537.3" fill="none" stroke="#4a4040" stroke-width="0.5" opacity="0.55"/>
<path d="M379.3,572.0 L381.3,550.8 L383.3,540.6 L385.4,535.1 L387.6,531.3 L389.7,528.2 L391.8,525.2 L394.0,522.6 L396.1,520.5 L398.2,519.2 L400.4,518.4 L402.5,517.7 L404.7,517.1 L406.8,516.5 L409.0,516.0 L411.1,515.6 L413.3,515.2 L415.4,514.8 L417.6,514.5 L419.7,514.2 L421.9,514.0 L424.0,513.8 L426.2,513.6 L428.4,513.4 L430.5,513.2 L432.7,513.1 L434.8,512.9 L437.0,512.8 L439.2,512.7 L441.3,512.5 L443.5,512.4 L445.7,512.2 L447.8,512.1 L450.0,512.0 L452.2,511.9 L454.3,511.7 L456.5,511.6 L458.7,511.5 L460.8,511.4 L463.0,511.3 L465.2,511.2 L467.3,511.1 L469.5,511.0 L471.7,510.9 L473.9,510.8 L476.0,510.7 L478.2,510.6 L480.4,510.5 L482.6,510.5 L484.8,510.4 L486.9,510.3 L489.1,510.2 L491.3,510.2 L493.5,510.1 L495.7,510.1 L497.8,510.0 L500.0,510.0 L502.2,509.9 L504.4,509.9 L506.6,509.8 L508.8,509.8 L511.0,509.8 L513.2,509.7 L515.3,509.7 L517.5,509.7 L519.7,509.7 L521.9,509.7 L524.1,509.7 L526.3,509.7 L528.5,509.7 L528.5,509.8 L527.6,509.8 L526.6,509.8 L525.7,509.8 L524.8,509.8 L523.8,509.8 L522.9,509.8 L522.0,509.7 L521.0,509.8 L520.1,509.8 L519.1,509.8 L518.2,509.8 L517.3,509.8 L516.3,509.8 L515.4,509.8 L514.5,509.8 L513.5,509.8 L512.6,509.8 L511.7,509.8 L510.7,509.8 L509.8,509.8 L508.9,509.8 L507.9,509.9 L507.0,509.9 L506.1,509.9 L505.1,509.9 L504.2,509.9 L503.3,509.9 L502.3,510.0 L501.4,510.0 L500.5,510.0 L499.5,510.0 L498.6,510.0 L497.7,510.1 L496.7,510.1 L495.8,510.1 L494.9,510.1 L493.9,510.2 L493.0,510.2 L492.1,510.2 L491.2,510.2 L490.2,510.3 L489.3,510.3 L488.4,510.3 L487.4,510.3 L486.5,510.4 L485.6,510.4 L484.6,510.4 L483.7,510.5 L482.8,510.5 L481.8,510.5 L480.9,510.6 L480.0,510.6 L479.1,510.6 L478.1,510.7 L477.2,510.7 L476.3,510.7 L475.3,510.8 L474.4,510.8 L473.5,510.9 L472.6,510.9 L471.6,510.9 L470.7,511.0 L469.8,511.0 L468.8,511.1 L467.9,511.1 L467.0,511.1 L466.1,511.2 L465.1,511.2 L464.2,511.3 L463.3,511.3 L462.4,511.4 L461.4,511.4 L460.5,511.5 L459.6,511.5 L458.7,511.6 L457.7,511.6 L456.8,511.7 L455.9,511.7 L455.0,511.8 L454.0,511.8 L453.1,511.9 L452.2,512.0 L451.3,512.0 L450.3,512.1 L449.4,512.2 L448.5,512.3 L447.6,512.4 L446.6,512.4 L445.7,513.1 L444.8,514.4 L443.9,515.7 L443.0,516.4 L442.0,517.0 L441.1,517.5 L440.2,518.0 L439.3,518.5 L438.4,518.9 L437.4,519.4 L436.5,519.7 L435.6,520.1 L434.7,520.4 L433.8,520.8 L432.8,521.1 L431.9,521.4 L431.0,521.6 L430.1,521.9 L429.2,522.2 L428.2,522.4 L427.3,524.8 L426.4,523.0 L425.5,524.4 L424.6,523.5 L423.7,525.7 L422.7,524.1 L421.8,527.8 L420.9,524.7 L420.0,531.3 L419.0,525.4 L418.1,527.4 L417.2,526.3 L416.3,532.1 L415.4,527.2 L414.5,529.5 L413.5,528.3 L412.6,529.8 L411.7,529.4 L410.8,531.6 L409.9,530.7 L409.0,532.5 L408.1,532.0 L407.2,535.6 L406.2,533.5 L405.3,537.9 L404.4,535.2 L403.5,541.7 L402.6,537.2 L401.7,540.0 L400.8,539.5 L399.9,546.4 L398.9,542.2 L398.1,546.5 L397.1,545.3 L396.3,552.9 L395.3,548.9 L394.4,553.7 L393.6,558.5 L392.7,568.8 L391.8,569.8 L390.9,576.1 Z" fill="#f01414" stroke="#3a0c0c" stroke-width="0.5" stroke-linejoin="round" fill-opacity="0.88"/>
<path d="M372.3,571.6 L374.5,578.6 L376.6,568.9 L378.8,575.4 L381.0,570.9 L383.2,575.5 L385.3,570.6 L387.5,579.6 L389.7,571.7" fill="none" stroke="#3a3030" stroke-width="0.6" />
<path d="M380.3,578.6 L381.7,568.9 L383.1,561.1 L384.5,558.0 L386.0,555.4 L387.4,553.0 L388.8,550.9 L390.3,549.0 L391.7,547.4 L393.1,545.9 L394.6,544.5 L396.0,543.3 L397.5,542.2 L398.9,541.2 L400.3,540.3 L401.8,539.3 L403.2,538.5 L404.7,537.7 L406.1,537.0 L407.6,536.4 L409.0,535.8 L410.5,535.4 L411.9,535.0 L413.4,534.6 L414.8,534.2 L416.3,533.9 L416.3,537.0 L414.9,539.5 L413.5,547.5 L412.0,540.7 L410.5,542.5 L409.0,540.0 L407.7,549.4 L406.2,552.9 L404.8,551.3 L403.3,543.7 L401.9,548.9 L400.5,556.2 L399.0,554.6 L397.6,557.9 L396.1,557.1 L394.6,547.9 L393.2,558.3 L391.7,554.3 L390.3,555.2 L388.9,564.7 L387.5,562.4 L386.0,559.1 L384.6,560.9 L383.2,574.6 L381.8,582.9 L380.4,582.8 Z" fill="#4a3a38" stroke="none" stroke-width="0.6" stroke-linejoin="round" opacity="0.22"/>
<path d="M380.3,578.6 L380.4,582.8 L381.7,568.9 L381.8,582.9 L383.1,561.1 L383.2,574.6 L384.5,558.0 L384.6,560.9 L386.0,555.4 L386.0,559.1 L387.4,553.0 L387.5,562.4 L388.8,550.9 L388.9,564.7 L390.3,549.0 L390.3,555.2 L391.7,547.4 L391.7,554.3 L393.1,545.9 L393.2,558.3 L394.6,544.5 L394.6,547.9 L396.0,543.3 L396.1,557.1 L397.5,542.2 L397.6,557.9 L398.9,541.2 L399.0,554.6 L400.3,540.3 L400.5,556.2 L401.8,539.3 L401.9,548.9 L403.2,538.5 L403.3,543.7 L404.7,537.7 L404.8,551.3 L406.1,537.0 L406.2,552.9 L407.6,536.4 L407.7,549.4 L409.0,535.8 L409.0,540.0 L410.5,535.4 L410.5,542.5 L411.9,535.0 L412.0,540.7 L413.4,534.6 L413.5,547.5 L414.8,534.2 L414.9,539.5 L416.3,533.9 L416.3,537.0" fill="none" stroke="#4a4040" stroke-width="0.5" opacity="0.55"/>
<path d="M366.7,584.3 L368.8,560.9 L371.0,549.6 L373.2,543.4 L375.4,539.0 L377.6,535.6 L379.8,532.5 L382.1,529.9 L384.3,527.7 L386.5,526.4 L388.8,525.6 L391.0,524.8 L393.3,524.2 L395.5,523.6 L397.8,523.0 L400.0,522.5 L402.3,522.1 L404.5,521.7 L406.8,521.3 L409.0,521.0 L411.3,520.8 L413.5,520.5 L415.8,520.3 L418.1,520.1 L420.3,520.0 L422.6,519.9 L424.8,519.7 L427.1,519.6 L429.4,519.4 L431.6,519.3 L433.9,519.2 L436.1,519.1 L438.4,518.9 L440.7,518.8 L442.9,518.7 L445.2,518.6 L447.5,518.5 L449.8,518.4 L452.0,518.3 L454.3,518.2 L456.6,518.1 L458.8,518.0 L461.1,517.9 L463.4,517.8 L465.7,517.7 L467.9,517.6 L470.2,517.5 L472.5,517.5 L474.8,517.4 L477.1,517.3 L479.3,517.3 L481.6,517.2 L483.9,517.2 L486.2,517.1 L488.5,517.0 L490.8,517.0 L493.0,517.0 L495.3,516.9 L497.6,516.9 L499.9,516.8 L502.2,516.8 L504.5,516.8 L506.8,516.8 L509.1,516.8 L511.4,516.7 L513.6,516.7 L515.9,516.7 L518.2,516.7 L520.5,516.7 L522.8,516.7 L522.8,516.8 L521.9,516.8 L520.9,516.8 L519.9,516.8 L518.9,516.8 L517.9,516.8 L516.9,516.8 L516.0,516.8 L515.0,516.8 L514.0,516.8 L513.0,516.8 L512.0,516.8 L511.1,516.8 L510.1,516.8 L509.1,516.8 L508.1,516.8 L507.2,516.8 L506.2,516.8 L505.2,516.8 L504.2,516.8 L503.2,516.9 L502.3,516.9 L501.3,516.9 L500.3,516.9 L499.3,516.9 L498.3,516.9 L497.4,516.9 L496.4,516.9 L495.4,517.0 L494.4,517.0 L493.5,517.0 L492.5,517.0 L491.5,517.0 L490.5,517.1 L489.6,517.1 L488.6,517.1 L487.6,517.1 L486.6,517.1 L485.7,517.2 L484.7,517.2 L483.7,517.2 L482.7,517.2 L481.8,517.3 L480.8,517.3 L479.8,517.3 L478.8,517.3 L477.9,517.4 L476.9,517.4 L475.9,517.4 L474.9,517.4 L474.0,517.5 L473.0,517.5 L472.0,517.5 L471.0,517.6 L470.1,517.6 L469.1,517.6 L468.1,517.7 L467.2,517.7 L466.2,517.7 L465.2,517.8 L464.2,517.8 L463.3,517.8 L462.3,517.9 L461.3,517.9 L460.4,518.0 L459.4,518.0 L458.4,518.0 L457.4,518.1 L456.5,518.1 L455.5,518.2 L454.5,518.2 L453.6,518.2 L452.6,518.3 L451.6,518.3 L450.6,518.4 L449.7,518.4 L448.7,518.5 L447.7,518.5 L446.8,518.6 L445.8,518.6 L444.8,518.6 L443.9,518.7 L442.9,518.8 L441.9,518.9 L441.0,518.9 L440.0,519.0 L439.0,519.1 L438.1,519.2 L437.1,519.3 L436.1,519.4 L435.2,521.4 L434.2,524.3 L433.3,526.3 L432.3,527.1 L431.3,527.8 L430.4,528.5 L429.4,529.1 L428.5,529.7 L427.5,530.2 L426.5,530.7 L425.6,531.1 L424.6,531.5 L423.6,531.8 L422.7,532.2 L421.7,532.5 L420.8,532.7 L419.8,533.0 L418.8,533.3 L417.9,533.5 L416.9,537.4 L415.9,534.0 L415.0,538.0 L414.0,534.4 L413.1,538.3 L412.1,534.9 L411.2,539.4 L410.2,535.5 L409.2,540.8 L408.2,536.1 L407.3,540.7 L406.3,536.9 L405.4,540.4 L404.4,537.8 L403.4,538.9 L402.5,538.9 L401.6,544.8 L400.6,540.1 L399.6,542.9 L398.6,541.4 L397.7,543.1 L396.7,542.8 L395.8,549.3 L394.8,544.3 L393.9,546.8 L392.9,546.1 L392.0,553.4 L391.0,548.1 L390.1,552.2 L389.1,550.5 L388.2,558.6 L387.2,553.3 L386.3,562.0 L385.3,556.6 L384.4,565.4 L383.4,560.3 L382.5,569.9 L381.5,570.1 L380.6,578.8 L379.7,582.0 L378.8,589.7 Z" fill="#c81212" stroke="#3a0c0c" stroke-width="0.5" stroke-linejoin="round" fill-opacity="0.88"/>
<path d="M361.1,582.3 L363.4,588.5 L365.6,583.2 L367.9,589.3 L370.1,582.7 L372.4,590.3 L374.6,583.1 L376.9,588.7" fill="none" stroke="#3a3030" stroke-width="0.6" />
<path d="M367.6,592.3 L369.0,582.3 L370.5,574.2 L371.9,571.0 L373.4,568.2 L374.9,565.8 L376.4,563.6 L377.9,561.6 L379.4,559.9 L380.9,558.3 L382.4,556.9 L383.9,555.7 L385.4,554.6 L386.8,553.5 L388.3,552.5 L389.8,551.6 L391.3,550.7 L392.8,549.8 L394.3,549.1 L395.9,548.5 L397.4,548.0 L398.9,547.5 L400.4,547.0 L401.9,546.7 L403.4,546.3 L404.9,545.9 L404.9,550.0 L403.4,552.0 L402.0,560.1 L400.5,563.6 L398.9,552.8 L397.5,562.7 L396.0,564.0 L394.4,554.8 L392.9,563.8 L391.4,565.0 L389.9,564.5 L388.4,559.2 L386.9,558.4 L385.4,561.4 L383.9,567.1 L382.4,566.6 L381.0,571.0 L379.4,563.3 L377.9,566.8 L376.5,573.3 L375.0,582.5 L373.5,577.4 L372.0,582.3 L370.5,579.0 L369.0,587.2 L367.6,596.1 Z" fill="#4a3a38" stroke="none" stroke-width="0.6" stroke-linejoin="round" opacity="0.22"/>
<path d="M367.6,592.3 L367.6,596.1 L369.0,582.3 L369.0,587.2 L370.5,574.2 L370.5,579.0 L371.9,571.0 L372.0,582.3 L373.4,568.2 L373.5,577.4 L374.9,565.8 L375.0,582.5 L376.4,563.6 L376.5,573.3 L377.9,561.6 L377.9,566.8 L379.4,559.9 L379.4,563.3 L380.9,558.3 L381.0,571.0 L382.4,556.9 L382.4,566.6 L383.9,555.7 L383.9,567.1 L385.4,554.6 L385.4,561.4 L386.8,553.5 L386.9,558.4 L388.3,552.5 L388.4,559.2 L389.8,551.6 L389.9,564.5 L391.3,550.7 L391.4,565.0 L392.8,549.8 L392.9,563.8 L394.3,549.1 L394.4,554.8 L395.9,548.5 L396.0,564.0 L397.4,548.0 L397.5,562.7 L398.9,547.5 L398.9,552.8 L400.4,547.0 L400.5,563.6 L401.9,546.7 L402.0,560.1 L403.4,546.3 L403.4,552.0 L404.9,545.9 L404.9,550.0" fill="none" stroke="#4a4040" stroke-width="0.5" opacity="0.55"/>
<path d="M353.5,598.3 L355.6,573.8 L357.9,562.1 L360.2,555.6 L362.5,551.1 L364.8,547.6 L367.1,544.4 L369.5,541.6 L371.8,539.4 L374.1,538.0 L376.5,537.2 L378.8,536.4 L381.2,535.7 L383.5,535.1 L385.9,534.5 L388.2,534.0 L390.5,533.5 L392.9,533.1 L395.2,532.7 L397.6,532.4 L400.0,532.1 L402.3,531.9 L404.7,531.7 L407.0,531.5 L409.4,531.3 L411.7,531.2 L414.1,531.0 L416.5,530.9 L418.8,530.7 L421.2,530.6 L423.5,530.4 L425.9,530.3 L428.3,530.2 L430.6,530.0 L433.0,529.9 L435.4,529.8 L437.7,529.6 L440.1,529.5 L442.5,529.4 L444.9,529.3 L447.2,529.2 L449.6,529.1 L452.0,529.0 L454.3,528.9 L456.7,528.8 L459.1,528.7 L461.5,528.6 L463.9,528.5 L466.2,528.5 L468.6,528.4 L471.0,528.3 L473.4,528.2 L475.8,528.2 L478.1,528.1 L480.5,528.1 L482.9,528.0 L485.3,528.0 L487.7,527.9 L490.1,527.9 L492.5,527.8 L494.9,527.8 L497.3,527.8 L499.6,527.8 L502.0,527.7 L504.4,527.7 L506.8,527.7 L509.2,527.7 L511.6,527.7 L514.0,527.7 L516.4,527.7 L516.4,527.8 L515.4,527.8 L514.4,527.8 L513.3,527.8 L512.3,527.8 L511.3,527.8 L510.3,527.8 L509.2,527.8 L508.2,527.8 L507.2,527.8 L506.2,527.8 L505.2,527.8 L504.1,527.8 L503.1,527.8 L502.1,527.8 L501.1,527.8 L500.0,527.8 L499.0,527.8 L498.0,527.8 L497.0,527.8 L495.9,527.8 L494.9,527.9 L493.9,527.9 L492.9,527.9 L491.9,527.9 L490.8,527.9 L489.8,527.9 L488.8,527.9 L487.8,528.0 L486.8,528.0 L485.7,528.0 L484.7,528.0 L483.7,528.0 L482.7,528.1 L481.7,528.1 L480.6,528.1 L479.6,528.1 L478.6,528.2 L477.6,528.2 L476.6,528.2 L475.5,528.2 L474.5,528.3 L473.5,528.3 L472.5,528.3 L471.5,528.3 L470.5,528.4 L469.4,528.4 L468.4,528.4 L467.4,528.5 L466.4,528.5 L465.4,528.5 L464.4,528.6 L463.3,528.6 L462.3,528.6 L461.3,528.7 L460.3,528.7 L459.3,528.7 L458.3,528.8 L457.2,528.8 L456.2,528.9 L455.2,528.9 L454.2,528.9 L453.2,529.0 L452.2,529.0 L451.1,529.1 L450.1,529.1 L449.1,529.2 L448.1,529.2 L447.1,529.2 L446.1,529.3 L445.1,529.3 L444.1,529.4 L443.0,529.4 L442.0,529.5 L441.0,529.5 L440.0,529.6 L439.0,529.6 L438.0,529.7 L437.0,529.7 L436.0,529.8 L434.9,529.8 L433.9,529.9 L432.9,530.0 L431.9,530.0 L430.9,530.1 L429.9,530.2 L428.9,530.3 L427.9,530.4 L426.9,530.5 L425.8,530.6 L424.8,531.9 L423.9,534.9 L422.9,537.6 L421.9,538.6 L420.9,539.4 L419.8,540.1 L418.8,540.8 L417.8,541.4 L416.8,542.0 L415.8,542.5 L414.8,542.9 L413.8,543.3 L412.8,543.7 L411.8,544.1 L410.8,544.4 L409.8,544.7 L408.8,545.0 L407.8,545.2 L406.8,545.5 L405.8,545.7 L404.8,546.0 L403.8,550.1 L402.7,546.4 L401.8,551.7 L400.7,546.9 L399.8,551.2 L398.7,547.5 L397.8,555.2 L396.7,548.2 L395.8,554.1 L394.7,549.0 L393.7,551.0 L392.7,549.9 L391.8,556.6 L390.7,551.0 L389.7,556.5 L388.7,552.3 L387.7,556.0 L386.7,553.6 L385.8,561.8 L384.7,555.0 L383.8,562.0 L382.7,556.6 L381.8,564.9 L380.7,558.5 L379.8,566.8 L378.7,560.6 L377.7,564.6 L376.7,563.1 L375.8,565.9 L374.7,566.0 L373.8,570.3 L372.8,569.4 L371.8,572.7 L370.8,573.3 L369.8,580.4 L368.9,583.4 L367.9,596.2 L366.9,595.8 L366.0,602.7 Z" fill="#861616" stroke="#3a0c0c" stroke-width="0.5" stroke-linejoin="round" fill-opacity="0.88"/>
<path d="M348.5,595.9 L350.8,605.5 L353.1,597.5 L355.5,604.0 L357.8,599.0 L360.1,601.8 L362.5,598.7 L364.8,602.8" fill="none" stroke="#3a3030" stroke-width="0.6" />
<path d="M354.3,605.6 L355.7,595.2 L357.2,586.9 L358.8,583.5 L360.3,580.7 L361.8,578.1 L363.4,575.9 L364.9,573.8 L366.5,572.0 L368.0,570.4 L369.6,569.0 L371.1,567.7 L372.7,566.5 L374.2,565.4 L375.8,564.4 L377.3,563.4 L378.9,562.5 L380.4,561.6 L382.0,560.9 L383.5,560.2 L385.1,559.7 L386.7,559.2 L388.2,558.7 L389.8,558.3 L391.3,557.9 L392.9,557.6 L392.9,564.5 L391.4,564.0 L389.8,563.2 L388.3,567.9 L386.8,574.3 L385.2,569.8 L383.6,568.9 L382.1,577.5 L380.5,565.7 L379.0,577.4 L377.4,580.8 L375.8,571.9 L374.3,570.7 L372.7,577.5 L371.1,570.7 L369.6,574.2 L368.1,574.9 L366.6,587.9 L365.0,584.2 L363.4,585.1 L361.9,590.4 L360.4,592.4 L358.9,596.6 L357.3,596.0 L355.8,600.2 L354.3,619.0 Z" fill="#4a3a38" stroke="none" stroke-width="0.6" stroke-linejoin="round" opacity="0.22"/>
<path d="M354.3,605.6 L354.3,619.0 L355.7,595.2 L355.8,600.2 L357.2,586.9 L357.3,596.0 L358.8,583.5 L358.9,596.6 L360.3,580.7 L360.4,592.4 L361.8,578.1 L361.9,590.4 L363.4,575.9 L363.4,585.1 L364.9,573.8 L365.0,584.2 L366.5,572.0 L366.6,587.9 L368.0,570.4 L368.1,574.9 L369.6,569.0 L369.6,574.2 L371.1,567.7 L371.1,570.7 L372.7,566.5 L372.7,577.5 L374.2,565.4 L374.3,570.7 L375.8,564.4 L375.8,571.9 L377.3,563.4 L377.4,580.8 L378.9,562.5 L379.0,577.4 L380.4,561.6 L380.5,565.7 L382.0,560.9 L382.1,577.5 L383.5,560.2 L383.6,568.9 L385.1,559.7 L385.2,569.8 L386.7,559.2 L386.8,574.3 L388.2,558.7 L388.3,567.9 L389.8,558.3 L389.8,563.2 L391.3,557.9 L391.4,564.0 L392.9,557.6 L392.9,564.5" fill="none" stroke="#4a4040" stroke-width="0.5" opacity="0.55"/>
<path d="M339.6,611.8 L341.9,586.1 L344.3,574.2 L346.7,567.4 L349.1,562.8 L351.5,559.1 L354.0,555.7 L356.4,552.9 L358.8,550.7 L361.3,549.3 L363.7,548.4 L366.2,547.6 L368.6,546.9 L371.1,546.3 L373.5,545.7 L376.0,545.2 L378.4,544.7 L380.9,544.3 L383.4,543.9 L385.8,543.6 L388.3,543.3 L390.8,543.1 L393.2,542.9 L395.7,542.7 L398.2,542.6 L400.6,542.4 L403.1,542.3 L405.6,542.1 L408.0,542.0 L410.5,541.9 L413.0,541.7 L415.4,541.6 L417.9,541.5 L420.4,541.4 L422.9,541.2 L425.4,541.1 L427.8,541.0 L430.3,540.9 L432.8,540.8 L435.3,540.7 L437.8,540.6 L440.2,540.5 L442.7,540.4 L445.2,540.3 L447.7,540.2 L450.2,540.1 L452.7,540.1 L455.2,540.0 L457.7,539.9 L460.2,539.9 L462.6,539.8 L465.1,539.7 L467.6,539.7 L470.1,539.6 L472.6,539.6 L475.1,539.5 L477.6,539.5 L480.1,539.5 L482.6,539.4 L485.1,539.4 L487.6,539.4 L490.1,539.3 L492.6,539.3 L495.1,539.3 L497.7,539.3 L500.2,539.3 L502.7,539.3 L505.2,539.3 L507.7,539.3 L510.2,539.3 L510.2,539.4 L509.1,539.4 L508.1,539.4 L507.0,539.4 L505.9,539.4 L504.8,539.4 L503.8,539.4 L502.7,539.4 L501.6,539.4 L500.5,539.4 L499.5,539.4 L498.4,539.4 L497.3,539.4 L496.3,539.4 L495.2,539.4 L494.1,539.4 L493.0,539.4 L492.0,539.4 L490.9,539.4 L489.8,539.4 L488.8,539.4 L487.7,539.4 L486.6,539.4 L485.5,539.4 L484.5,539.4 L483.4,539.5 L482.3,539.5 L481.3,539.5 L480.2,539.5 L479.1,539.5 L478.1,539.5 L477.0,539.5 L475.9,539.6 L474.8,539.6 L473.8,539.6 L472.7,539.6 L471.6,539.6 L470.6,539.7 L469.5,539.7 L468.4,539.7 L467.4,539.7 L466.3,539.8 L465.2,539.8 L464.2,539.8 L463.1,539.8 L462.0,539.9 L461.0,539.9 L459.9,539.9 L458.8,539.9 L457.8,540.0 L456.7,540.0 L455.6,540.0 L454.6,540.1 L453.5,540.1 L452.4,540.1 L451.4,540.2 L450.3,540.2 L449.3,540.2 L448.2,540.3 L447.1,540.3 L446.1,540.3 L445.0,540.4 L443.9,540.4 L442.9,540.4 L441.8,540.5 L440.7,540.5 L439.7,540.6 L438.6,540.6 L437.6,540.6 L436.5,540.7 L435.4,540.7 L434.4,540.8 L433.3,540.8 L432.3,540.9 L431.2,540.9 L430.1,541.0 L429.1,541.0 L428.0,541.0 L427.0,541.1 L425.9,541.1 L424.8,541.2 L423.8,541.2 L422.7,541.3 L421.7,541.4 L420.6,541.5 L419.5,541.5 L418.5,541.6 L417.4,541.7 L416.4,541.8 L415.3,541.9 L414.2,542.1 L413.2,544.2 L412.2,547.4 L411.1,549.5 L410.1,550.4 L409.0,551.2 L408.0,551.9 L406.9,552.5 L405.9,553.1 L404.8,553.7 L403.8,554.2 L402.7,554.7 L401.6,555.1 L400.6,555.5 L399.5,555.8 L398.5,556.1 L397.4,556.4 L396.4,556.7 L395.3,557.0 L394.3,557.2 L393.2,557.5 L392.2,562.0 L391.1,558.0 L390.1,558.8 L389.0,558.5 L388.0,559.9 L386.9,559.1 L385.9,565.7 L384.8,559.8 L383.8,567.9 L382.7,560.6 L381.7,562.3 L380.6,561.5 L379.6,567.8 L378.5,562.7 L377.5,566.3 L376.4,564.0 L375.4,565.9 L374.3,565.4 L373.3,570.0 L372.2,566.8 L371.2,568.3 L370.1,568.5 L369.1,575.5 L368.0,570.4 L367.0,579.0 L366.0,572.6 L364.9,574.5 L363.9,575.2 L362.8,577.2 L361.8,578.2 L360.8,586.3 L359.7,581.7 L358.7,584.4 L357.6,585.8 L356.7,594.8 L355.6,596.1 L354.6,606.7 L353.6,609.2 L352.6,613.2 Z" fill="#56241e" stroke="#3a0c0c" stroke-width="0.5" stroke-linejoin="round" fill-opacity="0.88"/>
<path d="M336.2,609.8 L338.6,618.0 L341.0,610.5 L343.5,616.4 L345.8,610.2 L348.3,618.6 L350.7,611.1" fill="none" stroke="#3a3030" stroke-width="0.6" />
<path d="M332.7,633.2 L332.2,545.6 M332.7,633.2 L509.1,635.3 M509.1,635.3 L563.9,507.8 M332.7,633.2 V636.2 M350.2,633.4 V636.4 M367.6,633.6 V636.6 M385.1,633.9 V636.9 M402.7,634.1 V637.1 M420.3,634.3 V637.3 M438.0,634.5 V637.5 M455.7,634.7 V637.7 M473.4,634.9 V637.9 M491.3,635.1 V638.1 M509.1,635.3 V638.3 M341.4,633.3 V635.1 M358.9,633.5 V635.3 M376.4,633.7 V635.5 M393.9,634.0 V635.8 M411.5,634.2 V636.0 M429.1,634.4 V636.2 M446.8,634.6 V636.4 M464.6,634.8 V636.6 M482.3,635.0 V636.8 M500.2,635.2 V637.0 M513.0,626.2 H516.0 M519.7,610.6 H522.7 M525.9,596.2 H528.9 M531.7,582.9 H534.7 M537.0,570.5 H540.0 M542.0,558.9 H545.0 M546.6,548.1 H549.6 M551.0,537.9 H554.0 M555.1,528.4 H558.1 M558.9,519.5 H561.9 M562.5,511.0 H565.5 M516.4,618.3 H518.2 M522.9,603.3 H524.7 M528.8,589.4 H530.6 M534.4,576.6 H536.2 M539.5,564.6 H541.3 M544.3,553.4 H546.1 M548.8,542.9 H550.6 M553.1,533.1 H554.9 M557.0,523.9 H558.8 M560.7,515.2 H562.5 M332.7,633.2 H329.7 M332.7,623.5 H330.9 M332.6,613.8 H330.8 M332.6,604.0 H329.6 M332.5,594.3 H330.7 M332.4,584.6 H330.6 M332.4,574.8 H329.4 M332.3,565.1 H330.5 M332.2,555.4 H330.4 M332.2,545.6 H329.2 M332.7,628.4 H331.5 M332.6,618.6 H331.4 M332.6,608.9 H331.4 M332.5,599.2 H331.3 M332.5,589.4 H331.3 M332.4,579.7 H331.2 M332.3,570.0 H331.1 M332.3,560.2 H331.1 M332.2,550.5 H331.0" stroke="#222" stroke-width="1" fill="none"/>
<text x="332.7" y="648.9" font-size="11" text-anchor="middle" font-weight="normal" fill="#111" stroke="#111" stroke-width="0.25" letter-spacing="-0.4">-50</text>
<text x="350.2" y="649.1" font-size="11" text-anchor="middle" font-weight="normal" fill="#111" stroke="#111" stroke-width="0.25" letter-spacing="-0.4">-40</text>
<text x="367.6" y="649.3" font-size="11" text-anchor="middle" font-weight="normal" fill="#111" stroke="#111" stroke-width="0.25" letter-spacing="-0.4">-30</text>
<text x="385.1" y="649.6" font-size="11" text-anchor="middle" font-weight="normal" fill="#111" stroke="#111" stroke-width="0.25" letter-spacing="-0.4">-20</text>
<text x="402.7" y="649.8" font-size="11" text-anchor="middle" font-weight="normal" fill="#111" stroke="#111" stroke-width="0.25" letter-spacing="-0.4">-10</text>
<text x="420.3" y="650.0" font-size="11" text-anchor="middle" font-weight="normal" fill="#111" stroke="#111" stroke-width="0.25" letter-spacing="-0.4">0</text>
<text x="438.0" y="650.2" font-size="11" text-anchor="middle" font-weight="normal" fill="#111" stroke="#111" stroke-width="0.25" letter-spacing="-0.4">10</text>
<text x="455.7" y="650.4" font-size="11" text-anchor="middle" font-weight="normal" fill="#111" stroke="#111" stroke-width="0.25" letter-spacing="-0.4">20</text>
<text x="473.4" y="650.6" font-size="11" text-anchor="middle" font-weight="normal" fill="#111" stroke="#111" stroke-width="0.25" letter-spacing="-0.4">30</text>
<text x="491.3" y="650.8" font-size="11" text-anchor="middle" font-weight="normal" fill="#111" stroke="#111" stroke-width="0.25" letter-spacing="-0.4">40</text>
<text x="509.1" y="651.0" font-size="11" text-anchor="middle" font-weight="normal" fill="#111" stroke="#111" stroke-width="0.25" letter-spacing="-0.4">50</text>
<text x="517.0" y="630.2" font-size="10" text-anchor="start" font-weight="normal" fill="#111" stroke="#111" stroke-width="0.25" >-5</text>
<text x="523.7" y="614.6" font-size="10" text-anchor="start" font-weight="normal" fill="#111" stroke="#111" stroke-width="0.25" >-4</text>
<text x="529.9" y="600.2" font-size="10" text-anchor="start" font-weight="normal" fill="#111" stroke="#111" stroke-width="0.25" >-3</text>
<text x="535.7" y="586.9" font-size="10" text-anchor="start" font-weight="normal" fill="#111" stroke="#111" stroke-width="0.25" >-2</text>
<text x="541.0" y="574.5" font-size="10" text-anchor="start" font-weight="normal" fill="#111" stroke="#111" stroke-width="0.25" >-1</text>
<text x="546.0" y="562.9" font-size="10" text-anchor="start" font-weight="normal" fill="#111" stroke="#111" stroke-width="0.25" >0</text>
<text x="550.6" y="552.1" font-size="10" text-anchor="start" font-weight="normal" fill="#111" stroke="#111" stroke-width="0.25" >1</text>
<text x="555.0" y="541.9" font-size="10" text-anchor="start" font-weight="normal" fill="#111" stroke="#111" stroke-width="0.25" >2</text>
<text x="559.1" y="532.4" font-size="10" text-anchor="start" font-weight="normal" fill="#111" stroke="#111" stroke-width="0.25" >3</text>
<text x="562.9" y="523.5" font-size="10" text-anchor="start" font-weight="normal" fill="#111" stroke="#111" stroke-width="0.25" >4</text>
<text x="566.5" y="515.0" font-size="10" text-anchor="start" font-weight="normal" fill="#111" stroke="#111" stroke-width="0.25" >5</text>
<text x="328.2" y="549.6" font-size="11" text-anchor="end" font-weight="normal" fill="#111" stroke="#111" stroke-width="0.25" >10<tspan font-size="7" dy="-5">-5</tspan></text>
<text x="328.4" y="578.8" font-size="11" text-anchor="end" font-weight="normal" fill="#111" stroke="#111" stroke-width="0.25" >10<tspan font-size="7" dy="-5">-8</tspan></text>
<text x="328.6" y="608.0" font-size="11" text-anchor="end" font-weight="normal" fill="#111" stroke="#111" stroke-width="0.25" >10<tspan font-size="7" dy="-5">-11</tspan></text>
<text x="328.7" y="637.2" font-size="11" text-anchor="end" font-weight="normal" fill="#111" stroke="#111" stroke-width="0.25" >10<tspan font-size="7" dy="-5">-14</tspan></text>
<text x="359.0" y="464.0" font-size="20" text-anchor="start" font-weight="normal" fill="#111" stroke="#111" stroke-width="0.25" >(f)</text>
<text x="439.5" y="629.5" font-size="11.5" text-anchor="start" font-weight="normal" fill="#111" stroke="#111" stroke-width="0.25" >High vacuum</text>
<text x="305.5" y="599" font-size="12.5" transform="rotate(-90 305.5 599)" fill="#111" stroke="#111" stroke-width="0.25">|I<tspan font-size="8.5" dy="3">d</tspan><tspan dy="-3">| (A)</tspan></text>
<text x="391.5" y="659.5" font-size="13.5" fill="#111" stroke="#111" stroke-width="0.25">V<tspan font-size="8.5" dy="4">gs</tspan><tspan dy="-4"> (V)</tspan></text>
<text x="556.5" y="595" font-size="13.5" transform="rotate(-73 556.5 595)" fill="#111" stroke="#111" stroke-width="0.25">V<tspan font-size="9" dy="4">ds</tspan><tspan dy="-4"> (V)</tspan></text>
</svg></body></html>
